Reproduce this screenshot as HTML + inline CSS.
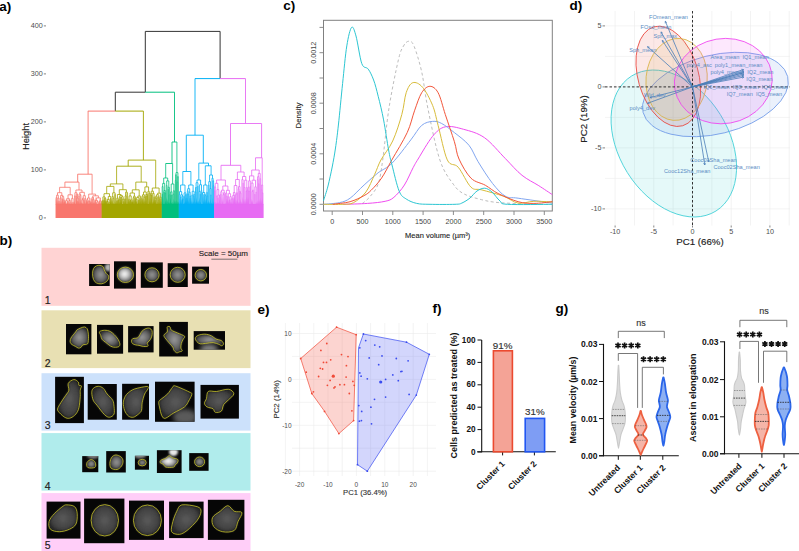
<!DOCTYPE html>
<html><head><meta charset="utf-8"><style>
html,body{margin:0;padding:0;background:#fff;}
svg{display:block;}
text{font-family:"Liberation Sans",sans-serif;}
</style></head><body>
<svg width="799" height="551" viewBox="0 0 799 551">
<rect width="799" height="551" fill="#fff"/>
<text x="-0.8" y="10.7" font-size="13.5" fill="#000" text-anchor="start" font-weight="bold" >a)</text>
<text x="-0.5" y="244.9" font-size="13.5" fill="#000" text-anchor="start" font-weight="bold" >b)</text>
<text x="283.3" y="10.0" font-size="13.5" fill="#000" text-anchor="start" font-weight="bold" >c)</text>
<text x="569.6" y="9.6" font-size="13.5" fill="#000" text-anchor="start" font-weight="bold" >d)</text>
<text x="257.6" y="313.6" font-size="13.5" fill="#000" text-anchor="start" font-weight="bold" >e)</text>
<text x="432.5" y="313.1" font-size="13.5" fill="#000" text-anchor="start" font-weight="bold" >f)</text>
<text x="555.5" y="313.2" font-size="13.5" fill="#000" text-anchor="start" font-weight="bold" >g)</text>
<text x="42.8" y="25.9" font-size="7.2" fill="#4D4D4D" text-anchor="end" font-weight="normal" dominant-baseline="central" >400</text>
<line x1="43.8" y1="25.9" x2="46.0" y2="25.9" stroke="#333" stroke-width="0.6"/>
<text x="42.8" y="73.9" font-size="7.2" fill="#4D4D4D" text-anchor="end" font-weight="normal" dominant-baseline="central" >300</text>
<line x1="43.8" y1="73.9" x2="46.0" y2="73.9" stroke="#333" stroke-width="0.6"/>
<text x="42.8" y="121.9" font-size="7.2" fill="#4D4D4D" text-anchor="end" font-weight="normal" dominant-baseline="central" >200</text>
<line x1="43.8" y1="121.9" x2="46.0" y2="121.9" stroke="#333" stroke-width="0.6"/>
<text x="42.8" y="169.9" font-size="7.2" fill="#4D4D4D" text-anchor="end" font-weight="normal" dominant-baseline="central" >100</text>
<line x1="43.8" y1="169.9" x2="46.0" y2="169.9" stroke="#333" stroke-width="0.6"/>
<text x="42.8" y="217.9" font-size="7.2" fill="#4D4D4D" text-anchor="end" font-weight="normal" dominant-baseline="central" >0</text>
<line x1="43.8" y1="217.9" x2="46.0" y2="217.9" stroke="#333" stroke-width="0.6"/>
<text x="25.9" y="136.5" font-size="9.4" fill="#222" text-anchor="middle" font-weight="normal" dominant-baseline="central" transform="rotate(-90 25.9 136.5)" stroke="#222" stroke-width="0.14" >Height</text>
<line x1="145.3" y1="31.4" x2="220.1" y2="31.4" stroke="#333333" stroke-width="1"/>
<line x1="145.3" y1="31.4" x2="145.3" y2="92.2" stroke="#333333" stroke-width="1"/>
<line x1="220.1" y1="31.4" x2="220.1" y2="78.6" stroke="#333333" stroke-width="1"/>
<line x1="115.3" y1="92.2" x2="145.3" y2="92.2" stroke="#333333" stroke-width="1"/>
<line x1="145.3" y1="92.2" x2="174.5" y2="92.2" stroke="#00BF7D" stroke-width="1"/>
<line x1="115.3" y1="92.2" x2="115.3" y2="111.1" stroke="#333333" stroke-width="1"/>
<line x1="87.9" y1="111.1" x2="115.3" y2="111.1" stroke="#F8766D" stroke-width="1"/>
<line x1="115.3" y1="111.1" x2="143.4" y2="111.1" stroke="#A3A500" stroke-width="1"/>
<line x1="195.0" y1="78.6" x2="220.1" y2="78.6" stroke="#00B0F6" stroke-width="1"/>
<line x1="220.1" y1="78.6" x2="245.5" y2="78.6" stroke="#E76BF3" stroke-width="1"/>
<line x1="88.1" y1="111.1" x2="88.1" y2="174.2" stroke="#F8766D" stroke-width="0.9"/>
<line x1="77.7" y1="174.2" x2="77.7" y2="182.1" stroke="#F8766D" stroke-width="0.9"/>
<line x1="56.2" y1="197.7" x2="56.2" y2="218.0" stroke="#F8766D" stroke-width="0.7"/>
<line x1="57.0" y1="197.7" x2="57.0" y2="218.0" stroke="#F8766D" stroke-width="0.7"/>
<line x1="56.2" y1="197.7" x2="57.0" y2="197.7" stroke="#F8766D" stroke-width="0.8"/>
<line x1="56.6" y1="195.2" x2="56.6" y2="197.7" stroke="#F8766D" stroke-width="0.8"/>
<line x1="57.8" y1="198.1" x2="57.8" y2="218.0" stroke="#F8766D" stroke-width="0.7"/>
<line x1="58.5" y1="201.2" x2="58.5" y2="218.0" stroke="#F8766D" stroke-width="0.7"/>
<line x1="59.1" y1="205.0" x2="59.1" y2="218.0" stroke="#F8766D" stroke-width="0.7"/>
<line x1="59.7" y1="205.0" x2="59.7" y2="218.0" stroke="#F8766D" stroke-width="0.7"/>
<line x1="59.1" y1="205.0" x2="59.7" y2="205.0" stroke="#F8766D" stroke-width="0.8"/>
<line x1="59.4" y1="201.2" x2="59.4" y2="205.0" stroke="#F8766D" stroke-width="0.8"/>
<line x1="58.5" y1="201.2" x2="59.4" y2="201.2" stroke="#F8766D" stroke-width="0.8"/>
<line x1="58.9" y1="198.1" x2="58.9" y2="201.2" stroke="#F8766D" stroke-width="0.8"/>
<line x1="57.8" y1="198.1" x2="58.9" y2="198.1" stroke="#F8766D" stroke-width="0.8"/>
<line x1="58.3" y1="195.2" x2="58.3" y2="198.1" stroke="#F8766D" stroke-width="0.8"/>
<line x1="56.6" y1="195.2" x2="58.3" y2="195.2" stroke="#F8766D" stroke-width="0.8"/>
<line x1="57.5" y1="192.7" x2="57.5" y2="195.2" stroke="#F8766D" stroke-width="0.8"/>
<line x1="60.2" y1="198.0" x2="60.2" y2="218.0" stroke="#F8766D" stroke-width="0.7"/>
<line x1="60.9" y1="198.0" x2="60.9" y2="218.0" stroke="#F8766D" stroke-width="0.7"/>
<line x1="60.2" y1="198.0" x2="60.9" y2="198.0" stroke="#F8766D" stroke-width="0.8"/>
<line x1="60.6" y1="195.4" x2="60.6" y2="198.0" stroke="#F8766D" stroke-width="0.8"/>
<line x1="61.8" y1="198.9" x2="61.8" y2="218.0" stroke="#F8766D" stroke-width="0.7"/>
<line x1="62.5" y1="198.9" x2="62.5" y2="218.0" stroke="#F8766D" stroke-width="0.7"/>
<line x1="61.8" y1="198.9" x2="62.5" y2="198.9" stroke="#F8766D" stroke-width="0.8"/>
<line x1="62.1" y1="196.6" x2="62.1" y2="198.9" stroke="#F8766D" stroke-width="0.8"/>
<line x1="63.3" y1="200.1" x2="63.3" y2="218.0" stroke="#F8766D" stroke-width="0.7"/>
<line x1="64.2" y1="200.1" x2="64.2" y2="218.0" stroke="#F8766D" stroke-width="0.7"/>
<line x1="63.3" y1="200.1" x2="64.2" y2="200.1" stroke="#F8766D" stroke-width="0.8"/>
<line x1="63.7" y1="196.6" x2="63.7" y2="200.1" stroke="#F8766D" stroke-width="0.8"/>
<line x1="62.1" y1="196.6" x2="63.7" y2="196.6" stroke="#F8766D" stroke-width="0.8"/>
<line x1="62.9" y1="195.4" x2="62.9" y2="196.6" stroke="#F8766D" stroke-width="0.8"/>
<line x1="60.6" y1="195.4" x2="62.9" y2="195.4" stroke="#F8766D" stroke-width="0.8"/>
<line x1="61.8" y1="192.7" x2="61.8" y2="195.4" stroke="#F8766D" stroke-width="0.8"/>
<line x1="57.5" y1="192.7" x2="61.8" y2="192.7" stroke="#F8766D" stroke-width="0.8"/>
<line x1="59.6" y1="187.3" x2="59.6" y2="192.7" stroke="#F8766D" stroke-width="0.8"/>
<line x1="64.9" y1="202.0" x2="64.9" y2="218.0" stroke="#F8766D" stroke-width="0.7"/>
<line x1="65.7" y1="202.0" x2="65.7" y2="218.0" stroke="#F8766D" stroke-width="0.7"/>
<line x1="64.9" y1="202.0" x2="65.7" y2="202.0" stroke="#F8766D" stroke-width="0.8"/>
<line x1="65.3" y1="200.8" x2="65.3" y2="202.0" stroke="#F8766D" stroke-width="0.8"/>
<line x1="66.9" y1="204.1" x2="66.9" y2="218.0" stroke="#F8766D" stroke-width="0.7"/>
<line x1="68.0" y1="204.1" x2="68.0" y2="218.0" stroke="#F8766D" stroke-width="0.7"/>
<line x1="66.9" y1="204.1" x2="68.0" y2="204.1" stroke="#F8766D" stroke-width="0.8"/>
<line x1="67.4" y1="200.8" x2="67.4" y2="204.1" stroke="#F8766D" stroke-width="0.8"/>
<line x1="65.3" y1="200.8" x2="67.4" y2="200.8" stroke="#F8766D" stroke-width="0.8"/>
<line x1="66.4" y1="198.8" x2="66.4" y2="200.8" stroke="#F8766D" stroke-width="0.8"/>
<line x1="68.7" y1="204.3" x2="68.7" y2="218.0" stroke="#F8766D" stroke-width="0.7"/>
<line x1="69.3" y1="204.3" x2="69.3" y2="218.0" stroke="#F8766D" stroke-width="0.7"/>
<line x1="68.7" y1="204.3" x2="69.3" y2="204.3" stroke="#F8766D" stroke-width="0.8"/>
<line x1="69.0" y1="200.5" x2="69.0" y2="204.3" stroke="#F8766D" stroke-width="0.8"/>
<line x1="69.9" y1="202.9" x2="69.9" y2="218.0" stroke="#F8766D" stroke-width="0.7"/>
<line x1="70.8" y1="202.9" x2="70.8" y2="218.0" stroke="#F8766D" stroke-width="0.7"/>
<line x1="69.9" y1="202.9" x2="70.8" y2="202.9" stroke="#F8766D" stroke-width="0.8"/>
<line x1="70.3" y1="200.5" x2="70.3" y2="202.9" stroke="#F8766D" stroke-width="0.8"/>
<line x1="69.0" y1="200.5" x2="70.3" y2="200.5" stroke="#F8766D" stroke-width="0.8"/>
<line x1="69.7" y1="198.8" x2="69.7" y2="200.5" stroke="#F8766D" stroke-width="0.8"/>
<line x1="66.4" y1="198.8" x2="69.7" y2="198.8" stroke="#F8766D" stroke-width="0.8"/>
<line x1="68.0" y1="194.8" x2="68.0" y2="198.8" stroke="#F8766D" stroke-width="0.8"/>
<line x1="71.6" y1="198.4" x2="71.6" y2="218.0" stroke="#F8766D" stroke-width="0.7"/>
<line x1="72.3" y1="203.6" x2="72.3" y2="218.0" stroke="#F8766D" stroke-width="0.7"/>
<line x1="72.9" y1="203.6" x2="72.9" y2="218.0" stroke="#F8766D" stroke-width="0.7"/>
<line x1="72.3" y1="203.6" x2="72.9" y2="203.6" stroke="#F8766D" stroke-width="0.8"/>
<line x1="72.6" y1="202.3" x2="72.6" y2="203.6" stroke="#F8766D" stroke-width="0.8"/>
<line x1="73.6" y1="202.3" x2="73.6" y2="218.0" stroke="#F8766D" stroke-width="0.7"/>
<line x1="72.6" y1="202.3" x2="73.6" y2="202.3" stroke="#F8766D" stroke-width="0.8"/>
<line x1="73.1" y1="198.4" x2="73.1" y2="202.3" stroke="#F8766D" stroke-width="0.8"/>
<line x1="71.6" y1="198.4" x2="73.1" y2="198.4" stroke="#F8766D" stroke-width="0.8"/>
<line x1="72.4" y1="194.8" x2="72.4" y2="198.4" stroke="#F8766D" stroke-width="0.8"/>
<line x1="68.0" y1="194.8" x2="72.4" y2="194.8" stroke="#F8766D" stroke-width="0.8"/>
<line x1="70.2" y1="187.3" x2="70.2" y2="194.8" stroke="#F8766D" stroke-width="0.8"/>
<line x1="59.6" y1="187.3" x2="70.2" y2="187.3" stroke="#F8766D" stroke-width="0.8"/>
<line x1="64.9" y1="182.1" x2="64.9" y2="187.3" stroke="#F8766D" stroke-width="0.8"/>
<line x1="74.5" y1="195.9" x2="74.5" y2="218.0" stroke="#F8766D" stroke-width="0.7"/>
<line x1="75.3" y1="195.9" x2="75.3" y2="218.0" stroke="#F8766D" stroke-width="0.7"/>
<line x1="74.5" y1="195.9" x2="75.3" y2="195.9" stroke="#F8766D" stroke-width="0.8"/>
<line x1="74.9" y1="192.7" x2="74.9" y2="195.9" stroke="#F8766D" stroke-width="0.8"/>
<line x1="76.0" y1="195.9" x2="76.0" y2="218.0" stroke="#F8766D" stroke-width="0.7"/>
<line x1="76.5" y1="195.9" x2="76.5" y2="218.0" stroke="#F8766D" stroke-width="0.7"/>
<line x1="76.0" y1="195.9" x2="76.5" y2="195.9" stroke="#F8766D" stroke-width="0.8"/>
<line x1="76.3" y1="194.1" x2="76.3" y2="195.9" stroke="#F8766D" stroke-width="0.8"/>
<line x1="77.1" y1="198.0" x2="77.1" y2="218.0" stroke="#F8766D" stroke-width="0.7"/>
<line x1="77.7" y1="201.5" x2="77.7" y2="218.0" stroke="#F8766D" stroke-width="0.7"/>
<line x1="78.2" y1="201.5" x2="78.2" y2="218.0" stroke="#F8766D" stroke-width="0.7"/>
<line x1="77.7" y1="201.5" x2="78.2" y2="201.5" stroke="#F8766D" stroke-width="0.8"/>
<line x1="78.0" y1="198.0" x2="78.0" y2="201.5" stroke="#F8766D" stroke-width="0.8"/>
<line x1="77.1" y1="198.0" x2="78.0" y2="198.0" stroke="#F8766D" stroke-width="0.8"/>
<line x1="77.5" y1="194.1" x2="77.5" y2="198.0" stroke="#F8766D" stroke-width="0.8"/>
<line x1="76.3" y1="194.1" x2="77.5" y2="194.1" stroke="#F8766D" stroke-width="0.8"/>
<line x1="76.9" y1="192.7" x2="76.9" y2="194.1" stroke="#F8766D" stroke-width="0.8"/>
<line x1="74.9" y1="192.7" x2="76.9" y2="192.7" stroke="#F8766D" stroke-width="0.8"/>
<line x1="75.9" y1="190.0" x2="75.9" y2="192.7" stroke="#F8766D" stroke-width="0.8"/>
<line x1="78.7" y1="196.0" x2="78.7" y2="218.0" stroke="#F8766D" stroke-width="0.7"/>
<line x1="79.3" y1="196.0" x2="79.3" y2="218.0" stroke="#F8766D" stroke-width="0.7"/>
<line x1="78.7" y1="196.0" x2="79.3" y2="196.0" stroke="#F8766D" stroke-width="0.8"/>
<line x1="79.0" y1="194.1" x2="79.0" y2="196.0" stroke="#F8766D" stroke-width="0.8"/>
<line x1="80.2" y1="195.3" x2="80.2" y2="218.0" stroke="#F8766D" stroke-width="0.7"/>
<line x1="81.0" y1="195.3" x2="81.0" y2="218.0" stroke="#F8766D" stroke-width="0.7"/>
<line x1="80.2" y1="195.3" x2="81.0" y2="195.3" stroke="#F8766D" stroke-width="0.8"/>
<line x1="80.6" y1="194.1" x2="80.6" y2="195.3" stroke="#F8766D" stroke-width="0.8"/>
<line x1="79.0" y1="194.1" x2="80.6" y2="194.1" stroke="#F8766D" stroke-width="0.8"/>
<line x1="79.8" y1="192.3" x2="79.8" y2="194.1" stroke="#F8766D" stroke-width="0.8"/>
<line x1="81.6" y1="203.1" x2="81.6" y2="218.0" stroke="#F8766D" stroke-width="0.7"/>
<line x1="82.3" y1="203.1" x2="82.3" y2="218.0" stroke="#F8766D" stroke-width="0.7"/>
<line x1="81.6" y1="203.1" x2="82.3" y2="203.1" stroke="#F8766D" stroke-width="0.8"/>
<line x1="82.0" y1="199.7" x2="82.0" y2="203.1" stroke="#F8766D" stroke-width="0.8"/>
<line x1="83.1" y1="199.7" x2="83.1" y2="218.0" stroke="#F8766D" stroke-width="0.7"/>
<line x1="82.0" y1="199.7" x2="83.1" y2="199.7" stroke="#F8766D" stroke-width="0.8"/>
<line x1="82.5" y1="198.1" x2="82.5" y2="199.7" stroke="#F8766D" stroke-width="0.8"/>
<line x1="83.6" y1="199.6" x2="83.6" y2="218.0" stroke="#F8766D" stroke-width="0.7"/>
<line x1="84.2" y1="199.6" x2="84.2" y2="218.0" stroke="#F8766D" stroke-width="0.7"/>
<line x1="83.6" y1="199.6" x2="84.2" y2="199.6" stroke="#F8766D" stroke-width="0.8"/>
<line x1="83.9" y1="198.1" x2="83.9" y2="199.6" stroke="#F8766D" stroke-width="0.8"/>
<line x1="82.5" y1="198.1" x2="83.9" y2="198.1" stroke="#F8766D" stroke-width="0.8"/>
<line x1="83.2" y1="195.7" x2="83.2" y2="198.1" stroke="#F8766D" stroke-width="0.8"/>
<line x1="84.9" y1="198.4" x2="84.9" y2="218.0" stroke="#F8766D" stroke-width="0.7"/>
<line x1="85.7" y1="198.4" x2="85.7" y2="218.0" stroke="#F8766D" stroke-width="0.7"/>
<line x1="84.9" y1="198.4" x2="85.7" y2="198.4" stroke="#F8766D" stroke-width="0.8"/>
<line x1="85.3" y1="195.7" x2="85.3" y2="198.4" stroke="#F8766D" stroke-width="0.8"/>
<line x1="83.2" y1="195.7" x2="85.3" y2="195.7" stroke="#F8766D" stroke-width="0.8"/>
<line x1="84.3" y1="192.3" x2="84.3" y2="195.7" stroke="#F8766D" stroke-width="0.8"/>
<line x1="79.8" y1="192.3" x2="84.3" y2="192.3" stroke="#F8766D" stroke-width="0.8"/>
<line x1="82.0" y1="190.0" x2="82.0" y2="192.3" stroke="#F8766D" stroke-width="0.8"/>
<line x1="75.9" y1="190.0" x2="82.0" y2="190.0" stroke="#F8766D" stroke-width="0.8"/>
<line x1="79.0" y1="182.1" x2="79.0" y2="190.0" stroke="#F8766D" stroke-width="0.8"/>
<line x1="64.9" y1="182.1" x2="79.0" y2="182.1" stroke="#F8766D" stroke-width="0.9"/>
<line x1="86.5" y1="201.6" x2="86.5" y2="218.0" stroke="#F8766D" stroke-width="0.7"/>
<line x1="87.2" y1="201.6" x2="87.2" y2="218.0" stroke="#F8766D" stroke-width="0.7"/>
<line x1="86.5" y1="201.6" x2="87.2" y2="201.6" stroke="#F8766D" stroke-width="0.8"/>
<line x1="86.8" y1="199.8" x2="86.8" y2="201.6" stroke="#F8766D" stroke-width="0.8"/>
<line x1="87.9" y1="201.3" x2="87.9" y2="218.0" stroke="#F8766D" stroke-width="0.7"/>
<line x1="88.6" y1="201.3" x2="88.6" y2="218.0" stroke="#F8766D" stroke-width="0.7"/>
<line x1="87.9" y1="201.3" x2="88.6" y2="201.3" stroke="#F8766D" stroke-width="0.8"/>
<line x1="88.2" y1="199.8" x2="88.2" y2="201.3" stroke="#F8766D" stroke-width="0.8"/>
<line x1="86.8" y1="199.8" x2="88.2" y2="199.8" stroke="#F8766D" stroke-width="0.8"/>
<line x1="87.5" y1="198.0" x2="87.5" y2="199.8" stroke="#F8766D" stroke-width="0.8"/>
<line x1="89.3" y1="201.5" x2="89.3" y2="218.0" stroke="#F8766D" stroke-width="0.7"/>
<line x1="89.9" y1="203.1" x2="89.9" y2="218.0" stroke="#F8766D" stroke-width="0.7"/>
<line x1="90.5" y1="203.1" x2="90.5" y2="218.0" stroke="#F8766D" stroke-width="0.7"/>
<line x1="89.9" y1="203.1" x2="90.5" y2="203.1" stroke="#F8766D" stroke-width="0.8"/>
<line x1="90.2" y1="201.5" x2="90.2" y2="203.1" stroke="#F8766D" stroke-width="0.8"/>
<line x1="89.3" y1="201.5" x2="90.2" y2="201.5" stroke="#F8766D" stroke-width="0.8"/>
<line x1="89.8" y1="198.0" x2="89.8" y2="201.5" stroke="#F8766D" stroke-width="0.8"/>
<line x1="87.5" y1="198.0" x2="89.8" y2="198.0" stroke="#F8766D" stroke-width="0.8"/>
<line x1="88.7" y1="194.1" x2="88.7" y2="198.0" stroke="#F8766D" stroke-width="0.8"/>
<line x1="91.3" y1="202.7" x2="91.3" y2="218.0" stroke="#F8766D" stroke-width="0.7"/>
<line x1="91.9" y1="202.7" x2="91.9" y2="218.0" stroke="#F8766D" stroke-width="0.7"/>
<line x1="91.3" y1="202.7" x2="91.9" y2="202.7" stroke="#F8766D" stroke-width="0.8"/>
<line x1="91.6" y1="198.7" x2="91.6" y2="202.7" stroke="#F8766D" stroke-width="0.8"/>
<line x1="92.5" y1="198.7" x2="92.5" y2="218.0" stroke="#F8766D" stroke-width="0.7"/>
<line x1="91.6" y1="198.7" x2="92.5" y2="198.7" stroke="#F8766D" stroke-width="0.8"/>
<line x1="92.0" y1="197.3" x2="92.0" y2="198.7" stroke="#F8766D" stroke-width="0.8"/>
<line x1="93.1" y1="199.4" x2="93.1" y2="218.0" stroke="#F8766D" stroke-width="0.7"/>
<line x1="93.6" y1="203.2" x2="93.6" y2="218.0" stroke="#F8766D" stroke-width="0.7"/>
<line x1="94.2" y1="203.2" x2="94.2" y2="218.0" stroke="#F8766D" stroke-width="0.7"/>
<line x1="93.6" y1="203.2" x2="94.2" y2="203.2" stroke="#F8766D" stroke-width="0.8"/>
<line x1="93.9" y1="199.4" x2="93.9" y2="203.2" stroke="#F8766D" stroke-width="0.8"/>
<line x1="93.1" y1="199.4" x2="93.9" y2="199.4" stroke="#F8766D" stroke-width="0.8"/>
<line x1="93.5" y1="197.3" x2="93.5" y2="199.4" stroke="#F8766D" stroke-width="0.8"/>
<line x1="92.0" y1="197.3" x2="93.5" y2="197.3" stroke="#F8766D" stroke-width="0.8"/>
<line x1="92.8" y1="195.8" x2="92.8" y2="197.3" stroke="#F8766D" stroke-width="0.8"/>
<line x1="94.9" y1="204.4" x2="94.9" y2="218.0" stroke="#F8766D" stroke-width="0.7"/>
<line x1="95.7" y1="204.4" x2="95.7" y2="218.0" stroke="#F8766D" stroke-width="0.7"/>
<line x1="94.9" y1="204.4" x2="95.7" y2="204.4" stroke="#F8766D" stroke-width="0.8"/>
<line x1="95.3" y1="200.4" x2="95.3" y2="204.4" stroke="#F8766D" stroke-width="0.8"/>
<line x1="96.6" y1="204.7" x2="96.6" y2="218.0" stroke="#F8766D" stroke-width="0.7"/>
<line x1="97.3" y1="204.7" x2="97.3" y2="218.0" stroke="#F8766D" stroke-width="0.7"/>
<line x1="96.6" y1="204.7" x2="97.3" y2="204.7" stroke="#F8766D" stroke-width="0.8"/>
<line x1="97.0" y1="201.6" x2="97.0" y2="204.7" stroke="#F8766D" stroke-width="0.8"/>
<line x1="98.0" y1="201.6" x2="98.0" y2="218.0" stroke="#F8766D" stroke-width="0.7"/>
<line x1="97.0" y1="201.6" x2="98.0" y2="201.6" stroke="#F8766D" stroke-width="0.8"/>
<line x1="97.5" y1="200.4" x2="97.5" y2="201.6" stroke="#F8766D" stroke-width="0.8"/>
<line x1="95.3" y1="200.4" x2="97.5" y2="200.4" stroke="#F8766D" stroke-width="0.8"/>
<line x1="96.4" y1="197.9" x2="96.4" y2="200.4" stroke="#F8766D" stroke-width="0.8"/>
<line x1="99.1" y1="204.7" x2="99.1" y2="218.0" stroke="#F8766D" stroke-width="0.7"/>
<line x1="100.2" y1="204.7" x2="100.2" y2="218.0" stroke="#F8766D" stroke-width="0.7"/>
<line x1="99.1" y1="204.7" x2="100.2" y2="204.7" stroke="#F8766D" stroke-width="0.8"/>
<line x1="99.7" y1="201.1" x2="99.7" y2="204.7" stroke="#F8766D" stroke-width="0.8"/>
<line x1="100.9" y1="203.4" x2="100.9" y2="218.0" stroke="#F8766D" stroke-width="0.7"/>
<line x1="101.5" y1="203.4" x2="101.5" y2="218.0" stroke="#F8766D" stroke-width="0.7"/>
<line x1="100.9" y1="203.4" x2="101.5" y2="203.4" stroke="#F8766D" stroke-width="0.8"/>
<line x1="101.2" y1="201.1" x2="101.2" y2="203.4" stroke="#F8766D" stroke-width="0.8"/>
<line x1="99.7" y1="201.1" x2="101.2" y2="201.1" stroke="#F8766D" stroke-width="0.8"/>
<line x1="100.4" y1="197.9" x2="100.4" y2="201.1" stroke="#F8766D" stroke-width="0.8"/>
<line x1="96.4" y1="197.9" x2="100.4" y2="197.9" stroke="#F8766D" stroke-width="0.8"/>
<line x1="98.4" y1="195.8" x2="98.4" y2="197.9" stroke="#F8766D" stroke-width="0.8"/>
<line x1="92.8" y1="195.8" x2="98.4" y2="195.8" stroke="#F8766D" stroke-width="0.8"/>
<line x1="95.6" y1="194.1" x2="95.6" y2="195.8" stroke="#F8766D" stroke-width="0.8"/>
<line x1="88.7" y1="194.1" x2="95.6" y2="194.1" stroke="#F8766D" stroke-width="0.8"/>
<line x1="92.1" y1="174.2" x2="92.1" y2="194.1" stroke="#F8766D" stroke-width="0.8"/>
<line x1="77.7" y1="174.2" x2="92.1" y2="174.2" stroke="#F8766D" stroke-width="0.9"/>
<line x1="143.4" y1="111.1" x2="143.4" y2="160.1" stroke="#A3A500" stroke-width="0.9"/>
<line x1="128.2" y1="160.1" x2="128.2" y2="166.2" stroke="#A3A500" stroke-width="0.9"/>
<line x1="102.0" y1="201.5" x2="102.0" y2="218.0" stroke="#A3A500" stroke-width="0.7"/>
<line x1="102.7" y1="201.5" x2="102.7" y2="218.0" stroke="#A3A500" stroke-width="0.7"/>
<line x1="102.0" y1="201.5" x2="102.7" y2="201.5" stroke="#A3A500" stroke-width="0.8"/>
<line x1="102.3" y1="200.4" x2="102.3" y2="201.5" stroke="#A3A500" stroke-width="0.8"/>
<line x1="103.4" y1="200.4" x2="103.4" y2="218.0" stroke="#A3A500" stroke-width="0.7"/>
<line x1="102.3" y1="200.4" x2="103.4" y2="200.4" stroke="#A3A500" stroke-width="0.8"/>
<line x1="102.9" y1="196.9" x2="102.9" y2="200.4" stroke="#A3A500" stroke-width="0.8"/>
<line x1="104.1" y1="201.0" x2="104.1" y2="218.0" stroke="#A3A500" stroke-width="0.7"/>
<line x1="104.7" y1="201.0" x2="104.7" y2="218.0" stroke="#A3A500" stroke-width="0.7"/>
<line x1="104.1" y1="201.0" x2="104.7" y2="201.0" stroke="#A3A500" stroke-width="0.8"/>
<line x1="104.4" y1="198.1" x2="104.4" y2="201.0" stroke="#A3A500" stroke-width="0.8"/>
<line x1="105.4" y1="201.9" x2="105.4" y2="218.0" stroke="#A3A500" stroke-width="0.7"/>
<line x1="106.0" y1="201.9" x2="106.0" y2="218.0" stroke="#A3A500" stroke-width="0.7"/>
<line x1="105.4" y1="201.9" x2="106.0" y2="201.9" stroke="#A3A500" stroke-width="0.8"/>
<line x1="105.7" y1="198.1" x2="105.7" y2="201.9" stroke="#A3A500" stroke-width="0.8"/>
<line x1="104.4" y1="198.1" x2="105.7" y2="198.1" stroke="#A3A500" stroke-width="0.8"/>
<line x1="105.0" y1="196.9" x2="105.0" y2="198.1" stroke="#A3A500" stroke-width="0.8"/>
<line x1="102.9" y1="196.9" x2="105.0" y2="196.9" stroke="#A3A500" stroke-width="0.8"/>
<line x1="104.0" y1="193.7" x2="104.0" y2="196.9" stroke="#A3A500" stroke-width="0.8"/>
<line x1="106.7" y1="201.4" x2="106.7" y2="218.0" stroke="#A3A500" stroke-width="0.7"/>
<line x1="107.6" y1="204.8" x2="107.6" y2="218.0" stroke="#A3A500" stroke-width="0.7"/>
<line x1="108.4" y1="204.8" x2="108.4" y2="218.0" stroke="#A3A500" stroke-width="0.7"/>
<line x1="107.6" y1="204.8" x2="108.4" y2="204.8" stroke="#A3A500" stroke-width="0.8"/>
<line x1="108.0" y1="201.4" x2="108.0" y2="204.8" stroke="#A3A500" stroke-width="0.8"/>
<line x1="106.7" y1="201.4" x2="108.0" y2="201.4" stroke="#A3A500" stroke-width="0.8"/>
<line x1="107.3" y1="199.4" x2="107.3" y2="201.4" stroke="#A3A500" stroke-width="0.8"/>
<line x1="108.9" y1="202.4" x2="108.9" y2="218.0" stroke="#A3A500" stroke-width="0.7"/>
<line x1="109.5" y1="202.4" x2="109.5" y2="218.0" stroke="#A3A500" stroke-width="0.7"/>
<line x1="108.9" y1="202.4" x2="109.5" y2="202.4" stroke="#A3A500" stroke-width="0.8"/>
<line x1="109.2" y1="199.4" x2="109.2" y2="202.4" stroke="#A3A500" stroke-width="0.8"/>
<line x1="107.3" y1="199.4" x2="109.2" y2="199.4" stroke="#A3A500" stroke-width="0.8"/>
<line x1="108.3" y1="196.4" x2="108.3" y2="199.4" stroke="#A3A500" stroke-width="0.8"/>
<line x1="110.3" y1="198.7" x2="110.3" y2="218.0" stroke="#A3A500" stroke-width="0.7"/>
<line x1="111.2" y1="198.7" x2="111.2" y2="218.0" stroke="#A3A500" stroke-width="0.7"/>
<line x1="110.3" y1="198.7" x2="111.2" y2="198.7" stroke="#A3A500" stroke-width="0.8"/>
<line x1="110.8" y1="196.4" x2="110.8" y2="198.7" stroke="#A3A500" stroke-width="0.8"/>
<line x1="108.3" y1="196.4" x2="110.8" y2="196.4" stroke="#A3A500" stroke-width="0.8"/>
<line x1="109.5" y1="193.7" x2="109.5" y2="196.4" stroke="#A3A500" stroke-width="0.8"/>
<line x1="104.0" y1="193.7" x2="109.5" y2="193.7" stroke="#A3A500" stroke-width="0.8"/>
<line x1="106.7" y1="186.4" x2="106.7" y2="193.7" stroke="#A3A500" stroke-width="0.8"/>
<line x1="112.1" y1="196.6" x2="112.1" y2="218.0" stroke="#A3A500" stroke-width="0.7"/>
<line x1="112.9" y1="198.4" x2="112.9" y2="218.0" stroke="#A3A500" stroke-width="0.7"/>
<line x1="113.7" y1="198.4" x2="113.7" y2="218.0" stroke="#A3A500" stroke-width="0.7"/>
<line x1="112.9" y1="198.4" x2="113.7" y2="198.4" stroke="#A3A500" stroke-width="0.8"/>
<line x1="113.3" y1="196.6" x2="113.3" y2="198.4" stroke="#A3A500" stroke-width="0.8"/>
<line x1="112.1" y1="196.6" x2="113.3" y2="196.6" stroke="#A3A500" stroke-width="0.8"/>
<line x1="112.7" y1="192.8" x2="112.7" y2="196.6" stroke="#A3A500" stroke-width="0.8"/>
<line x1="114.6" y1="194.6" x2="114.6" y2="218.0" stroke="#A3A500" stroke-width="0.7"/>
<line x1="115.5" y1="194.6" x2="115.5" y2="218.0" stroke="#A3A500" stroke-width="0.7"/>
<line x1="114.6" y1="194.6" x2="115.5" y2="194.6" stroke="#A3A500" stroke-width="0.8"/>
<line x1="115.1" y1="192.8" x2="115.1" y2="194.6" stroke="#A3A500" stroke-width="0.8"/>
<line x1="112.7" y1="192.8" x2="115.1" y2="192.8" stroke="#A3A500" stroke-width="0.8"/>
<line x1="113.9" y1="186.4" x2="113.9" y2="192.8" stroke="#A3A500" stroke-width="0.8"/>
<line x1="106.7" y1="186.4" x2="113.9" y2="186.4" stroke="#A3A500" stroke-width="0.8"/>
<line x1="110.3" y1="183.9" x2="110.3" y2="186.4" stroke="#A3A500" stroke-width="0.8"/>
<line x1="116.5" y1="200.8" x2="116.5" y2="218.0" stroke="#A3A500" stroke-width="0.7"/>
<line x1="117.2" y1="200.8" x2="117.2" y2="218.0" stroke="#A3A500" stroke-width="0.7"/>
<line x1="116.5" y1="200.8" x2="117.2" y2="200.8" stroke="#A3A500" stroke-width="0.8"/>
<line x1="116.8" y1="198.1" x2="116.8" y2="200.8" stroke="#A3A500" stroke-width="0.8"/>
<line x1="117.8" y1="200.0" x2="117.8" y2="218.0" stroke="#A3A500" stroke-width="0.7"/>
<line x1="118.3" y1="200.0" x2="118.3" y2="218.0" stroke="#A3A500" stroke-width="0.7"/>
<line x1="117.8" y1="200.0" x2="118.3" y2="200.0" stroke="#A3A500" stroke-width="0.8"/>
<line x1="118.0" y1="198.1" x2="118.0" y2="200.0" stroke="#A3A500" stroke-width="0.8"/>
<line x1="116.8" y1="198.1" x2="118.0" y2="198.1" stroke="#A3A500" stroke-width="0.8"/>
<line x1="117.4" y1="194.5" x2="117.4" y2="198.1" stroke="#A3A500" stroke-width="0.8"/>
<line x1="118.9" y1="199.3" x2="118.9" y2="218.0" stroke="#A3A500" stroke-width="0.7"/>
<line x1="119.6" y1="199.3" x2="119.6" y2="218.0" stroke="#A3A500" stroke-width="0.7"/>
<line x1="118.9" y1="199.3" x2="119.6" y2="199.3" stroke="#A3A500" stroke-width="0.8"/>
<line x1="119.3" y1="197.0" x2="119.3" y2="199.3" stroke="#A3A500" stroke-width="0.8"/>
<line x1="120.1" y1="199.9" x2="120.1" y2="218.0" stroke="#A3A500" stroke-width="0.7"/>
<line x1="120.6" y1="199.9" x2="120.6" y2="218.0" stroke="#A3A500" stroke-width="0.7"/>
<line x1="120.1" y1="199.9" x2="120.6" y2="199.9" stroke="#A3A500" stroke-width="0.8"/>
<line x1="120.4" y1="197.0" x2="120.4" y2="199.9" stroke="#A3A500" stroke-width="0.8"/>
<line x1="119.3" y1="197.0" x2="120.4" y2="197.0" stroke="#A3A500" stroke-width="0.8"/>
<line x1="119.8" y1="195.6" x2="119.8" y2="197.0" stroke="#A3A500" stroke-width="0.8"/>
<line x1="121.2" y1="197.7" x2="121.2" y2="218.0" stroke="#A3A500" stroke-width="0.7"/>
<line x1="121.9" y1="197.7" x2="121.9" y2="218.0" stroke="#A3A500" stroke-width="0.7"/>
<line x1="121.2" y1="197.7" x2="121.9" y2="197.7" stroke="#A3A500" stroke-width="0.8"/>
<line x1="121.6" y1="196.7" x2="121.6" y2="197.7" stroke="#A3A500" stroke-width="0.8"/>
<line x1="122.6" y1="199.1" x2="122.6" y2="218.0" stroke="#A3A500" stroke-width="0.7"/>
<line x1="123.4" y1="201.7" x2="123.4" y2="218.0" stroke="#A3A500" stroke-width="0.7"/>
<line x1="124.0" y1="201.7" x2="124.0" y2="218.0" stroke="#A3A500" stroke-width="0.7"/>
<line x1="123.4" y1="201.7" x2="124.0" y2="201.7" stroke="#A3A500" stroke-width="0.8"/>
<line x1="123.7" y1="199.1" x2="123.7" y2="201.7" stroke="#A3A500" stroke-width="0.8"/>
<line x1="122.6" y1="199.1" x2="123.7" y2="199.1" stroke="#A3A500" stroke-width="0.8"/>
<line x1="123.2" y1="196.7" x2="123.2" y2="199.1" stroke="#A3A500" stroke-width="0.8"/>
<line x1="121.6" y1="196.7" x2="123.2" y2="196.7" stroke="#A3A500" stroke-width="0.8"/>
<line x1="122.4" y1="195.6" x2="122.4" y2="196.7" stroke="#A3A500" stroke-width="0.8"/>
<line x1="119.8" y1="195.6" x2="122.4" y2="195.6" stroke="#A3A500" stroke-width="0.8"/>
<line x1="121.1" y1="194.5" x2="121.1" y2="195.6" stroke="#A3A500" stroke-width="0.8"/>
<line x1="117.4" y1="194.5" x2="121.1" y2="194.5" stroke="#A3A500" stroke-width="0.8"/>
<line x1="119.3" y1="189.7" x2="119.3" y2="194.5" stroke="#A3A500" stroke-width="0.8"/>
<line x1="124.7" y1="199.1" x2="124.7" y2="218.0" stroke="#A3A500" stroke-width="0.7"/>
<line x1="125.4" y1="199.1" x2="125.4" y2="218.0" stroke="#A3A500" stroke-width="0.7"/>
<line x1="124.7" y1="199.1" x2="125.4" y2="199.1" stroke="#A3A500" stroke-width="0.8"/>
<line x1="125.1" y1="195.9" x2="125.1" y2="199.1" stroke="#A3A500" stroke-width="0.8"/>
<line x1="126.2" y1="195.9" x2="126.2" y2="218.0" stroke="#A3A500" stroke-width="0.7"/>
<line x1="125.1" y1="195.9" x2="126.2" y2="195.9" stroke="#A3A500" stroke-width="0.8"/>
<line x1="125.6" y1="192.2" x2="125.6" y2="195.9" stroke="#A3A500" stroke-width="0.8"/>
<line x1="126.9" y1="193.4" x2="126.9" y2="218.0" stroke="#A3A500" stroke-width="0.7"/>
<line x1="127.6" y1="193.4" x2="127.6" y2="218.0" stroke="#A3A500" stroke-width="0.7"/>
<line x1="126.9" y1="193.4" x2="127.6" y2="193.4" stroke="#A3A500" stroke-width="0.8"/>
<line x1="127.3" y1="192.2" x2="127.3" y2="193.4" stroke="#A3A500" stroke-width="0.8"/>
<line x1="125.6" y1="192.2" x2="127.3" y2="192.2" stroke="#A3A500" stroke-width="0.8"/>
<line x1="126.4" y1="189.7" x2="126.4" y2="192.2" stroke="#A3A500" stroke-width="0.8"/>
<line x1="119.3" y1="189.7" x2="126.4" y2="189.7" stroke="#A3A500" stroke-width="0.8"/>
<line x1="122.9" y1="183.9" x2="122.9" y2="189.7" stroke="#A3A500" stroke-width="0.8"/>
<line x1="110.3" y1="183.9" x2="122.9" y2="183.9" stroke="#A3A500" stroke-width="0.8"/>
<line x1="116.6" y1="166.2" x2="116.6" y2="183.9" stroke="#A3A500" stroke-width="0.8"/>
<line x1="128.3" y1="202.2" x2="128.3" y2="218.0" stroke="#A3A500" stroke-width="0.7"/>
<line x1="128.9" y1="202.2" x2="128.9" y2="218.0" stroke="#A3A500" stroke-width="0.7"/>
<line x1="128.3" y1="202.2" x2="128.9" y2="202.2" stroke="#A3A500" stroke-width="0.8"/>
<line x1="128.6" y1="199.6" x2="128.6" y2="202.2" stroke="#A3A500" stroke-width="0.8"/>
<line x1="129.6" y1="199.6" x2="129.6" y2="218.0" stroke="#A3A500" stroke-width="0.7"/>
<line x1="128.6" y1="199.6" x2="129.6" y2="199.6" stroke="#A3A500" stroke-width="0.8"/>
<line x1="129.1" y1="195.9" x2="129.1" y2="199.6" stroke="#A3A500" stroke-width="0.8"/>
<line x1="130.2" y1="201.1" x2="130.2" y2="218.0" stroke="#A3A500" stroke-width="0.7"/>
<line x1="130.8" y1="201.1" x2="130.8" y2="218.0" stroke="#A3A500" stroke-width="0.7"/>
<line x1="130.2" y1="201.1" x2="130.8" y2="201.1" stroke="#A3A500" stroke-width="0.8"/>
<line x1="130.5" y1="199.9" x2="130.5" y2="201.1" stroke="#A3A500" stroke-width="0.8"/>
<line x1="131.4" y1="202.2" x2="131.4" y2="218.0" stroke="#A3A500" stroke-width="0.7"/>
<line x1="132.0" y1="203.4" x2="132.0" y2="218.0" stroke="#A3A500" stroke-width="0.7"/>
<line x1="132.6" y1="203.4" x2="132.6" y2="218.0" stroke="#A3A500" stroke-width="0.7"/>
<line x1="132.0" y1="203.4" x2="132.6" y2="203.4" stroke="#A3A500" stroke-width="0.8"/>
<line x1="132.3" y1="202.2" x2="132.3" y2="203.4" stroke="#A3A500" stroke-width="0.8"/>
<line x1="131.4" y1="202.2" x2="132.3" y2="202.2" stroke="#A3A500" stroke-width="0.8"/>
<line x1="131.8" y1="199.9" x2="131.8" y2="202.2" stroke="#A3A500" stroke-width="0.8"/>
<line x1="130.5" y1="199.9" x2="131.8" y2="199.9" stroke="#A3A500" stroke-width="0.8"/>
<line x1="131.2" y1="195.9" x2="131.2" y2="199.9" stroke="#A3A500" stroke-width="0.8"/>
<line x1="129.1" y1="195.9" x2="131.2" y2="195.9" stroke="#A3A500" stroke-width="0.8"/>
<line x1="130.1" y1="193.0" x2="130.1" y2="195.9" stroke="#A3A500" stroke-width="0.8"/>
<line x1="133.2" y1="197.6" x2="133.2" y2="218.0" stroke="#A3A500" stroke-width="0.7"/>
<line x1="134.1" y1="197.6" x2="134.1" y2="218.0" stroke="#A3A500" stroke-width="0.7"/>
<line x1="133.2" y1="197.6" x2="134.1" y2="197.6" stroke="#A3A500" stroke-width="0.8"/>
<line x1="133.7" y1="196.1" x2="133.7" y2="197.6" stroke="#A3A500" stroke-width="0.8"/>
<line x1="134.9" y1="197.6" x2="134.9" y2="218.0" stroke="#A3A500" stroke-width="0.7"/>
<line x1="135.4" y1="197.6" x2="135.4" y2="218.0" stroke="#A3A500" stroke-width="0.7"/>
<line x1="134.9" y1="197.6" x2="135.4" y2="197.6" stroke="#A3A500" stroke-width="0.8"/>
<line x1="135.1" y1="196.1" x2="135.1" y2="197.6" stroke="#A3A500" stroke-width="0.8"/>
<line x1="133.7" y1="196.1" x2="135.1" y2="196.1" stroke="#A3A500" stroke-width="0.8"/>
<line x1="134.4" y1="193.0" x2="134.4" y2="196.1" stroke="#A3A500" stroke-width="0.8"/>
<line x1="130.1" y1="193.0" x2="134.4" y2="193.0" stroke="#A3A500" stroke-width="0.8"/>
<line x1="132.3" y1="189.8" x2="132.3" y2="193.0" stroke="#A3A500" stroke-width="0.8"/>
<line x1="135.9" y1="201.8" x2="135.9" y2="218.0" stroke="#A3A500" stroke-width="0.7"/>
<line x1="136.5" y1="201.8" x2="136.5" y2="218.0" stroke="#A3A500" stroke-width="0.7"/>
<line x1="135.9" y1="201.8" x2="136.5" y2="201.8" stroke="#A3A500" stroke-width="0.8"/>
<line x1="136.2" y1="199.2" x2="136.2" y2="201.8" stroke="#A3A500" stroke-width="0.8"/>
<line x1="137.2" y1="199.2" x2="137.2" y2="218.0" stroke="#A3A500" stroke-width="0.7"/>
<line x1="136.2" y1="199.2" x2="137.2" y2="199.2" stroke="#A3A500" stroke-width="0.8"/>
<line x1="136.7" y1="197.4" x2="136.7" y2="199.2" stroke="#A3A500" stroke-width="0.8"/>
<line x1="138.1" y1="204.2" x2="138.1" y2="218.0" stroke="#A3A500" stroke-width="0.7"/>
<line x1="138.7" y1="204.2" x2="138.7" y2="218.0" stroke="#A3A500" stroke-width="0.7"/>
<line x1="138.1" y1="204.2" x2="138.7" y2="204.2" stroke="#A3A500" stroke-width="0.8"/>
<line x1="138.4" y1="200.5" x2="138.4" y2="204.2" stroke="#A3A500" stroke-width="0.8"/>
<line x1="139.3" y1="200.5" x2="139.3" y2="218.0" stroke="#A3A500" stroke-width="0.7"/>
<line x1="138.4" y1="200.5" x2="139.3" y2="200.5" stroke="#A3A500" stroke-width="0.8"/>
<line x1="138.9" y1="197.4" x2="138.9" y2="200.5" stroke="#A3A500" stroke-width="0.8"/>
<line x1="136.7" y1="197.4" x2="138.9" y2="197.4" stroke="#A3A500" stroke-width="0.8"/>
<line x1="137.8" y1="196.1" x2="137.8" y2="197.4" stroke="#A3A500" stroke-width="0.8"/>
<line x1="139.9" y1="199.4" x2="139.9" y2="218.0" stroke="#A3A500" stroke-width="0.7"/>
<line x1="140.5" y1="199.4" x2="140.5" y2="218.0" stroke="#A3A500" stroke-width="0.7"/>
<line x1="139.9" y1="199.4" x2="140.5" y2="199.4" stroke="#A3A500" stroke-width="0.8"/>
<line x1="140.2" y1="197.8" x2="140.2" y2="199.4" stroke="#A3A500" stroke-width="0.8"/>
<line x1="141.2" y1="197.8" x2="141.2" y2="218.0" stroke="#A3A500" stroke-width="0.7"/>
<line x1="140.2" y1="197.8" x2="141.2" y2="197.8" stroke="#A3A500" stroke-width="0.8"/>
<line x1="140.7" y1="196.1" x2="140.7" y2="197.8" stroke="#A3A500" stroke-width="0.8"/>
<line x1="137.8" y1="196.1" x2="140.7" y2="196.1" stroke="#A3A500" stroke-width="0.8"/>
<line x1="139.2" y1="189.8" x2="139.2" y2="196.1" stroke="#A3A500" stroke-width="0.8"/>
<line x1="132.3" y1="189.8" x2="139.2" y2="189.8" stroke="#A3A500" stroke-width="0.8"/>
<line x1="135.8" y1="182.1" x2="135.8" y2="189.8" stroke="#A3A500" stroke-width="0.8"/>
<line x1="142.1" y1="195.9" x2="142.1" y2="218.0" stroke="#A3A500" stroke-width="0.7"/>
<line x1="142.8" y1="199.6" x2="142.8" y2="218.0" stroke="#A3A500" stroke-width="0.7"/>
<line x1="143.3" y1="199.6" x2="143.3" y2="218.0" stroke="#A3A500" stroke-width="0.7"/>
<line x1="142.8" y1="199.6" x2="143.3" y2="199.6" stroke="#A3A500" stroke-width="0.8"/>
<line x1="143.1" y1="195.9" x2="143.1" y2="199.6" stroke="#A3A500" stroke-width="0.8"/>
<line x1="142.1" y1="195.9" x2="143.1" y2="195.9" stroke="#A3A500" stroke-width="0.8"/>
<line x1="142.6" y1="194.7" x2="142.6" y2="195.9" stroke="#A3A500" stroke-width="0.8"/>
<line x1="144.0" y1="197.3" x2="144.0" y2="218.0" stroke="#A3A500" stroke-width="0.7"/>
<line x1="144.8" y1="197.3" x2="144.8" y2="218.0" stroke="#A3A500" stroke-width="0.7"/>
<line x1="144.0" y1="197.3" x2="144.8" y2="197.3" stroke="#A3A500" stroke-width="0.8"/>
<line x1="144.4" y1="194.7" x2="144.4" y2="197.3" stroke="#A3A500" stroke-width="0.8"/>
<line x1="142.6" y1="194.7" x2="144.4" y2="194.7" stroke="#A3A500" stroke-width="0.8"/>
<line x1="143.5" y1="192.0" x2="143.5" y2="194.7" stroke="#A3A500" stroke-width="0.8"/>
<line x1="145.5" y1="196.4" x2="145.5" y2="218.0" stroke="#A3A500" stroke-width="0.7"/>
<line x1="146.0" y1="196.4" x2="146.0" y2="218.0" stroke="#A3A500" stroke-width="0.7"/>
<line x1="145.5" y1="196.4" x2="146.0" y2="196.4" stroke="#A3A500" stroke-width="0.8"/>
<line x1="145.8" y1="194.5" x2="145.8" y2="196.4" stroke="#A3A500" stroke-width="0.8"/>
<line x1="146.6" y1="196.0" x2="146.6" y2="218.0" stroke="#A3A500" stroke-width="0.7"/>
<line x1="147.2" y1="196.0" x2="147.2" y2="218.0" stroke="#A3A500" stroke-width="0.7"/>
<line x1="146.6" y1="196.0" x2="147.2" y2="196.0" stroke="#A3A500" stroke-width="0.8"/>
<line x1="146.9" y1="194.5" x2="146.9" y2="196.0" stroke="#A3A500" stroke-width="0.8"/>
<line x1="145.8" y1="194.5" x2="146.9" y2="194.5" stroke="#A3A500" stroke-width="0.8"/>
<line x1="146.3" y1="192.0" x2="146.3" y2="194.5" stroke="#A3A500" stroke-width="0.8"/>
<line x1="143.5" y1="192.0" x2="146.3" y2="192.0" stroke="#A3A500" stroke-width="0.8"/>
<line x1="144.9" y1="186.9" x2="144.9" y2="192.0" stroke="#A3A500" stroke-width="0.8"/>
<line x1="147.6" y1="194.3" x2="147.6" y2="218.0" stroke="#A3A500" stroke-width="0.7"/>
<line x1="148.1" y1="194.3" x2="148.1" y2="218.0" stroke="#A3A500" stroke-width="0.7"/>
<line x1="147.6" y1="194.3" x2="148.1" y2="194.3" stroke="#A3A500" stroke-width="0.8"/>
<line x1="147.9" y1="191.3" x2="147.9" y2="194.3" stroke="#A3A500" stroke-width="0.8"/>
<line x1="148.9" y1="193.3" x2="148.9" y2="218.0" stroke="#A3A500" stroke-width="0.7"/>
<line x1="149.7" y1="193.3" x2="149.7" y2="218.0" stroke="#A3A500" stroke-width="0.7"/>
<line x1="148.9" y1="193.3" x2="149.7" y2="193.3" stroke="#A3A500" stroke-width="0.8"/>
<line x1="149.3" y1="191.3" x2="149.3" y2="193.3" stroke="#A3A500" stroke-width="0.8"/>
<line x1="147.9" y1="191.3" x2="149.3" y2="191.3" stroke="#A3A500" stroke-width="0.8"/>
<line x1="148.6" y1="186.9" x2="148.6" y2="191.3" stroke="#A3A500" stroke-width="0.8"/>
<line x1="144.9" y1="186.9" x2="148.6" y2="186.9" stroke="#A3A500" stroke-width="0.8"/>
<line x1="146.7" y1="182.1" x2="146.7" y2="186.9" stroke="#A3A500" stroke-width="0.8"/>
<line x1="135.8" y1="182.1" x2="146.7" y2="182.1" stroke="#A3A500" stroke-width="0.8"/>
<line x1="141.2" y1="166.2" x2="141.2" y2="182.1" stroke="#A3A500" stroke-width="0.8"/>
<line x1="116.6" y1="166.2" x2="141.2" y2="166.2" stroke="#A3A500" stroke-width="0.9"/>
<line x1="150.3" y1="194.8" x2="150.3" y2="218.0" stroke="#A3A500" stroke-width="0.7"/>
<line x1="150.9" y1="194.8" x2="150.9" y2="218.0" stroke="#A3A500" stroke-width="0.7"/>
<line x1="150.3" y1="194.8" x2="150.9" y2="194.8" stroke="#A3A500" stroke-width="0.8"/>
<line x1="150.6" y1="193.3" x2="150.6" y2="194.8" stroke="#A3A500" stroke-width="0.8"/>
<line x1="151.5" y1="194.9" x2="151.5" y2="218.0" stroke="#A3A500" stroke-width="0.7"/>
<line x1="152.0" y1="194.9" x2="152.0" y2="218.0" stroke="#A3A500" stroke-width="0.7"/>
<line x1="151.5" y1="194.9" x2="152.0" y2="194.9" stroke="#A3A500" stroke-width="0.8"/>
<line x1="151.8" y1="193.3" x2="151.8" y2="194.9" stroke="#A3A500" stroke-width="0.8"/>
<line x1="150.6" y1="193.3" x2="151.8" y2="193.3" stroke="#A3A500" stroke-width="0.8"/>
<line x1="151.2" y1="191.2" x2="151.2" y2="193.3" stroke="#A3A500" stroke-width="0.8"/>
<line x1="152.7" y1="193.4" x2="152.7" y2="218.0" stroke="#A3A500" stroke-width="0.7"/>
<line x1="153.7" y1="196.9" x2="153.7" y2="218.0" stroke="#A3A500" stroke-width="0.7"/>
<line x1="154.5" y1="196.9" x2="154.5" y2="218.0" stroke="#A3A500" stroke-width="0.7"/>
<line x1="153.7" y1="196.9" x2="154.5" y2="196.9" stroke="#A3A500" stroke-width="0.8"/>
<line x1="154.1" y1="193.4" x2="154.1" y2="196.9" stroke="#A3A500" stroke-width="0.8"/>
<line x1="152.7" y1="193.4" x2="154.1" y2="193.4" stroke="#A3A500" stroke-width="0.8"/>
<line x1="153.4" y1="191.2" x2="153.4" y2="193.4" stroke="#A3A500" stroke-width="0.8"/>
<line x1="151.2" y1="191.2" x2="153.4" y2="191.2" stroke="#A3A500" stroke-width="0.8"/>
<line x1="152.3" y1="188.0" x2="152.3" y2="191.2" stroke="#A3A500" stroke-width="0.8"/>
<line x1="154.9" y1="200.3" x2="154.9" y2="218.0" stroke="#A3A500" stroke-width="0.7"/>
<line x1="155.5" y1="200.3" x2="155.5" y2="218.0" stroke="#A3A500" stroke-width="0.7"/>
<line x1="154.9" y1="200.3" x2="155.5" y2="200.3" stroke="#A3A500" stroke-width="0.8"/>
<line x1="155.2" y1="198.0" x2="155.2" y2="200.3" stroke="#A3A500" stroke-width="0.8"/>
<line x1="156.2" y1="198.0" x2="156.2" y2="218.0" stroke="#A3A500" stroke-width="0.7"/>
<line x1="155.2" y1="198.0" x2="156.2" y2="198.0" stroke="#A3A500" stroke-width="0.8"/>
<line x1="155.7" y1="196.2" x2="155.7" y2="198.0" stroke="#A3A500" stroke-width="0.8"/>
<line x1="156.7" y1="197.5" x2="156.7" y2="218.0" stroke="#A3A500" stroke-width="0.7"/>
<line x1="157.4" y1="197.5" x2="157.4" y2="218.0" stroke="#A3A500" stroke-width="0.7"/>
<line x1="156.7" y1="197.5" x2="157.4" y2="197.5" stroke="#A3A500" stroke-width="0.8"/>
<line x1="157.1" y1="196.2" x2="157.1" y2="197.5" stroke="#A3A500" stroke-width="0.8"/>
<line x1="155.7" y1="196.2" x2="157.1" y2="196.2" stroke="#A3A500" stroke-width="0.8"/>
<line x1="156.4" y1="194.8" x2="156.4" y2="196.2" stroke="#A3A500" stroke-width="0.8"/>
<line x1="158.1" y1="200.5" x2="158.1" y2="218.0" stroke="#A3A500" stroke-width="0.7"/>
<line x1="158.6" y1="200.5" x2="158.6" y2="218.0" stroke="#A3A500" stroke-width="0.7"/>
<line x1="158.1" y1="200.5" x2="158.6" y2="200.5" stroke="#A3A500" stroke-width="0.8"/>
<line x1="158.4" y1="196.6" x2="158.4" y2="200.5" stroke="#A3A500" stroke-width="0.8"/>
<line x1="159.2" y1="196.6" x2="159.2" y2="218.0" stroke="#A3A500" stroke-width="0.7"/>
<line x1="158.4" y1="196.6" x2="159.2" y2="196.6" stroke="#A3A500" stroke-width="0.8"/>
<line x1="158.8" y1="194.8" x2="158.8" y2="196.6" stroke="#A3A500" stroke-width="0.8"/>
<line x1="156.4" y1="194.8" x2="158.8" y2="194.8" stroke="#A3A500" stroke-width="0.8"/>
<line x1="157.6" y1="193.2" x2="157.6" y2="194.8" stroke="#A3A500" stroke-width="0.8"/>
<line x1="159.7" y1="198.7" x2="159.7" y2="218.0" stroke="#A3A500" stroke-width="0.7"/>
<line x1="160.4" y1="198.7" x2="160.4" y2="218.0" stroke="#A3A500" stroke-width="0.7"/>
<line x1="159.7" y1="198.7" x2="160.4" y2="198.7" stroke="#A3A500" stroke-width="0.8"/>
<line x1="160.0" y1="197.2" x2="160.0" y2="198.7" stroke="#A3A500" stroke-width="0.8"/>
<line x1="161.3" y1="197.2" x2="161.3" y2="218.0" stroke="#A3A500" stroke-width="0.7"/>
<line x1="160.0" y1="197.2" x2="161.3" y2="197.2" stroke="#A3A500" stroke-width="0.8"/>
<line x1="160.7" y1="193.2" x2="160.7" y2="197.2" stroke="#A3A500" stroke-width="0.8"/>
<line x1="157.6" y1="193.2" x2="160.7" y2="193.2" stroke="#A3A500" stroke-width="0.8"/>
<line x1="159.1" y1="188.0" x2="159.1" y2="193.2" stroke="#A3A500" stroke-width="0.8"/>
<line x1="152.3" y1="188.0" x2="159.1" y2="188.0" stroke="#A3A500" stroke-width="0.8"/>
<line x1="155.7" y1="160.1" x2="155.7" y2="188.0" stroke="#A3A500" stroke-width="0.8"/>
<line x1="128.2" y1="160.1" x2="155.7" y2="160.1" stroke="#A3A500" stroke-width="0.9"/>
<line x1="174.5" y1="92.2" x2="174.5" y2="142.0" stroke="#00BF7D" stroke-width="0.9"/>
<line x1="172.0" y1="142.0" x2="172.0" y2="163.5" stroke="#00BF7D" stroke-width="0.9"/>
<line x1="162.0" y1="194.2" x2="162.0" y2="218.0" stroke="#00BF7D" stroke-width="0.7"/>
<line x1="162.5" y1="194.2" x2="162.5" y2="218.0" stroke="#00BF7D" stroke-width="0.7"/>
<line x1="162.0" y1="194.2" x2="162.5" y2="194.2" stroke="#00BF7D" stroke-width="0.8"/>
<line x1="162.2" y1="186.6" x2="162.2" y2="194.2" stroke="#00BF7D" stroke-width="0.8"/>
<line x1="163.1" y1="186.6" x2="163.1" y2="218.0" stroke="#00BF7D" stroke-width="0.7"/>
<line x1="162.2" y1="186.6" x2="163.1" y2="186.6" stroke="#00BF7D" stroke-width="0.8"/>
<line x1="162.7" y1="183.4" x2="162.7" y2="186.6" stroke="#00BF7D" stroke-width="0.8"/>
<line x1="163.7" y1="192.4" x2="163.7" y2="218.0" stroke="#00BF7D" stroke-width="0.7"/>
<line x1="164.5" y1="192.4" x2="164.5" y2="218.0" stroke="#00BF7D" stroke-width="0.7"/>
<line x1="163.7" y1="192.4" x2="164.5" y2="192.4" stroke="#00BF7D" stroke-width="0.8"/>
<line x1="164.1" y1="190.5" x2="164.1" y2="192.4" stroke="#00BF7D" stroke-width="0.8"/>
<line x1="165.1" y1="192.9" x2="165.1" y2="218.0" stroke="#00BF7D" stroke-width="0.7"/>
<line x1="165.6" y1="192.9" x2="165.6" y2="218.0" stroke="#00BF7D" stroke-width="0.7"/>
<line x1="165.1" y1="192.9" x2="165.6" y2="192.9" stroke="#00BF7D" stroke-width="0.8"/>
<line x1="165.3" y1="190.5" x2="165.3" y2="192.9" stroke="#00BF7D" stroke-width="0.8"/>
<line x1="164.1" y1="190.5" x2="165.3" y2="190.5" stroke="#00BF7D" stroke-width="0.8"/>
<line x1="164.7" y1="183.4" x2="164.7" y2="190.5" stroke="#00BF7D" stroke-width="0.8"/>
<line x1="162.7" y1="183.4" x2="164.7" y2="183.4" stroke="#00BF7D" stroke-width="0.8"/>
<line x1="163.7" y1="178.0" x2="163.7" y2="183.4" stroke="#00BF7D" stroke-width="0.8"/>
<line x1="166.3" y1="185.6" x2="166.3" y2="218.0" stroke="#00BF7D" stroke-width="0.7"/>
<line x1="167.1" y1="185.6" x2="167.1" y2="218.0" stroke="#00BF7D" stroke-width="0.7"/>
<line x1="166.3" y1="185.6" x2="167.1" y2="185.6" stroke="#00BF7D" stroke-width="0.8"/>
<line x1="166.7" y1="180.9" x2="166.7" y2="185.6" stroke="#00BF7D" stroke-width="0.8"/>
<line x1="167.9" y1="189.4" x2="167.9" y2="218.0" stroke="#00BF7D" stroke-width="0.7"/>
<line x1="168.5" y1="189.4" x2="168.5" y2="218.0" stroke="#00BF7D" stroke-width="0.7"/>
<line x1="167.9" y1="189.4" x2="168.5" y2="189.4" stroke="#00BF7D" stroke-width="0.8"/>
<line x1="168.2" y1="187.3" x2="168.2" y2="189.4" stroke="#00BF7D" stroke-width="0.8"/>
<line x1="169.1" y1="194.7" x2="169.1" y2="218.0" stroke="#00BF7D" stroke-width="0.7"/>
<line x1="169.7" y1="194.7" x2="169.7" y2="218.0" stroke="#00BF7D" stroke-width="0.7"/>
<line x1="169.1" y1="194.7" x2="169.7" y2="194.7" stroke="#00BF7D" stroke-width="0.8"/>
<line x1="169.4" y1="187.3" x2="169.4" y2="194.7" stroke="#00BF7D" stroke-width="0.8"/>
<line x1="168.2" y1="187.3" x2="169.4" y2="187.3" stroke="#00BF7D" stroke-width="0.8"/>
<line x1="168.8" y1="180.9" x2="168.8" y2="187.3" stroke="#00BF7D" stroke-width="0.8"/>
<line x1="166.7" y1="180.9" x2="168.8" y2="180.9" stroke="#00BF7D" stroke-width="0.8"/>
<line x1="167.7" y1="178.0" x2="167.7" y2="180.9" stroke="#00BF7D" stroke-width="0.8"/>
<line x1="163.7" y1="178.0" x2="167.7" y2="178.0" stroke="#00BF7D" stroke-width="0.8"/>
<line x1="165.7" y1="163.5" x2="165.7" y2="178.0" stroke="#00BF7D" stroke-width="0.8"/>
<line x1="170.3" y1="195.6" x2="170.3" y2="218.0" stroke="#00BF7D" stroke-width="0.7"/>
<line x1="170.8" y1="195.6" x2="170.8" y2="218.0" stroke="#00BF7D" stroke-width="0.7"/>
<line x1="170.3" y1="195.6" x2="170.8" y2="195.6" stroke="#00BF7D" stroke-width="0.8"/>
<line x1="170.6" y1="191.9" x2="170.6" y2="195.6" stroke="#00BF7D" stroke-width="0.8"/>
<line x1="171.5" y1="195.1" x2="171.5" y2="218.0" stroke="#00BF7D" stroke-width="0.7"/>
<line x1="172.3" y1="195.1" x2="172.3" y2="218.0" stroke="#00BF7D" stroke-width="0.7"/>
<line x1="171.5" y1="195.1" x2="172.3" y2="195.1" stroke="#00BF7D" stroke-width="0.8"/>
<line x1="171.9" y1="191.9" x2="171.9" y2="195.1" stroke="#00BF7D" stroke-width="0.8"/>
<line x1="170.6" y1="191.9" x2="171.9" y2="191.9" stroke="#00BF7D" stroke-width="0.8"/>
<line x1="171.2" y1="184.0" x2="171.2" y2="191.9" stroke="#00BF7D" stroke-width="0.8"/>
<line x1="173.0" y1="194.1" x2="173.0" y2="218.0" stroke="#00BF7D" stroke-width="0.7"/>
<line x1="173.7" y1="194.1" x2="173.7" y2="218.0" stroke="#00BF7D" stroke-width="0.7"/>
<line x1="173.0" y1="194.1" x2="173.7" y2="194.1" stroke="#00BF7D" stroke-width="0.8"/>
<line x1="173.3" y1="190.8" x2="173.3" y2="194.1" stroke="#00BF7D" stroke-width="0.8"/>
<line x1="174.5" y1="190.8" x2="174.5" y2="218.0" stroke="#00BF7D" stroke-width="0.7"/>
<line x1="173.3" y1="190.8" x2="174.5" y2="190.8" stroke="#00BF7D" stroke-width="0.8"/>
<line x1="173.9" y1="184.0" x2="173.9" y2="190.8" stroke="#00BF7D" stroke-width="0.8"/>
<line x1="171.2" y1="184.0" x2="173.9" y2="184.0" stroke="#00BF7D" stroke-width="0.8"/>
<line x1="172.6" y1="163.5" x2="172.6" y2="184.0" stroke="#00BF7D" stroke-width="0.8"/>
<line x1="165.7" y1="163.5" x2="172.6" y2="163.5" stroke="#00BF7D" stroke-width="0.9"/>
<line x1="175.3" y1="180.4" x2="175.3" y2="218.0" stroke="#00BF7D" stroke-width="0.7"/>
<line x1="175.9" y1="180.4" x2="175.9" y2="218.0" stroke="#00BF7D" stroke-width="0.7"/>
<line x1="175.3" y1="180.4" x2="175.9" y2="180.4" stroke="#00BF7D" stroke-width="0.8"/>
<line x1="175.6" y1="174.7" x2="175.6" y2="180.4" stroke="#00BF7D" stroke-width="0.8"/>
<line x1="176.4" y1="174.7" x2="176.4" y2="218.0" stroke="#00BF7D" stroke-width="0.7"/>
<line x1="175.6" y1="174.7" x2="176.4" y2="174.7" stroke="#00BF7D" stroke-width="0.8"/>
<line x1="176.0" y1="172.6" x2="176.0" y2="174.7" stroke="#00BF7D" stroke-width="0.8"/>
<line x1="177.1" y1="182.2" x2="177.1" y2="218.0" stroke="#00BF7D" stroke-width="0.7"/>
<line x1="177.7" y1="182.2" x2="177.7" y2="218.0" stroke="#00BF7D" stroke-width="0.7"/>
<line x1="177.1" y1="182.2" x2="177.7" y2="182.2" stroke="#00BF7D" stroke-width="0.8"/>
<line x1="177.4" y1="176.7" x2="177.4" y2="182.2" stroke="#00BF7D" stroke-width="0.8"/>
<line x1="178.4" y1="176.7" x2="178.4" y2="218.0" stroke="#00BF7D" stroke-width="0.7"/>
<line x1="177.4" y1="176.7" x2="178.4" y2="176.7" stroke="#00BF7D" stroke-width="0.8"/>
<line x1="177.9" y1="172.6" x2="177.9" y2="176.7" stroke="#00BF7D" stroke-width="0.8"/>
<line x1="176.0" y1="172.6" x2="177.9" y2="172.6" stroke="#00BF7D" stroke-width="0.8"/>
<line x1="176.9" y1="142.0" x2="176.9" y2="172.6" stroke="#00BF7D" stroke-width="0.8"/>
<line x1="172.0" y1="142.0" x2="176.9" y2="142.0" stroke="#00BF7D" stroke-width="0.9"/>
<line x1="195.0" y1="78.6" x2="195.0" y2="135.2" stroke="#00B0F6" stroke-width="0.9"/>
<line x1="186.3" y1="135.2" x2="186.3" y2="171.5" stroke="#00B0F6" stroke-width="0.9"/>
<line x1="179.1" y1="194.4" x2="179.1" y2="218.0" stroke="#00B0F6" stroke-width="0.7"/>
<line x1="179.8" y1="194.4" x2="179.8" y2="218.0" stroke="#00B0F6" stroke-width="0.7"/>
<line x1="179.1" y1="194.4" x2="179.8" y2="194.4" stroke="#00B0F6" stroke-width="0.8"/>
<line x1="179.5" y1="191.6" x2="179.5" y2="194.4" stroke="#00B0F6" stroke-width="0.8"/>
<line x1="180.5" y1="196.9" x2="180.5" y2="218.0" stroke="#00B0F6" stroke-width="0.7"/>
<line x1="181.1" y1="196.9" x2="181.1" y2="218.0" stroke="#00B0F6" stroke-width="0.7"/>
<line x1="180.5" y1="196.9" x2="181.1" y2="196.9" stroke="#00B0F6" stroke-width="0.8"/>
<line x1="180.8" y1="194.8" x2="180.8" y2="196.9" stroke="#00B0F6" stroke-width="0.8"/>
<line x1="181.9" y1="200.0" x2="181.9" y2="218.0" stroke="#00B0F6" stroke-width="0.7"/>
<line x1="182.4" y1="200.0" x2="182.4" y2="218.0" stroke="#00B0F6" stroke-width="0.7"/>
<line x1="181.9" y1="200.0" x2="182.4" y2="200.0" stroke="#00B0F6" stroke-width="0.8"/>
<line x1="182.1" y1="196.1" x2="182.1" y2="200.0" stroke="#00B0F6" stroke-width="0.8"/>
<line x1="182.7" y1="198.8" x2="182.7" y2="218.0" stroke="#00B0F6" stroke-width="0.7"/>
<line x1="183.2" y1="198.8" x2="183.2" y2="218.0" stroke="#00B0F6" stroke-width="0.7"/>
<line x1="182.7" y1="198.8" x2="183.2" y2="198.8" stroke="#00B0F6" stroke-width="0.8"/>
<line x1="183.0" y1="196.1" x2="183.0" y2="198.8" stroke="#00B0F6" stroke-width="0.8"/>
<line x1="182.1" y1="196.1" x2="183.0" y2="196.1" stroke="#00B0F6" stroke-width="0.8"/>
<line x1="182.5" y1="194.8" x2="182.5" y2="196.1" stroke="#00B0F6" stroke-width="0.8"/>
<line x1="180.8" y1="194.8" x2="182.5" y2="194.8" stroke="#00B0F6" stroke-width="0.8"/>
<line x1="181.7" y1="191.6" x2="181.7" y2="194.8" stroke="#00B0F6" stroke-width="0.8"/>
<line x1="179.5" y1="191.6" x2="181.7" y2="191.6" stroke="#00B0F6" stroke-width="0.8"/>
<line x1="180.6" y1="185.0" x2="180.6" y2="191.6" stroke="#00B0F6" stroke-width="0.8"/>
<line x1="183.8" y1="196.7" x2="183.8" y2="218.0" stroke="#00B0F6" stroke-width="0.7"/>
<line x1="184.4" y1="196.7" x2="184.4" y2="218.0" stroke="#00B0F6" stroke-width="0.7"/>
<line x1="183.8" y1="196.7" x2="184.4" y2="196.7" stroke="#00B0F6" stroke-width="0.8"/>
<line x1="184.1" y1="192.9" x2="184.1" y2="196.7" stroke="#00B0F6" stroke-width="0.8"/>
<line x1="185.0" y1="195.5" x2="185.0" y2="218.0" stroke="#00B0F6" stroke-width="0.7"/>
<line x1="185.6" y1="195.5" x2="185.6" y2="218.0" stroke="#00B0F6" stroke-width="0.7"/>
<line x1="185.0" y1="195.5" x2="185.6" y2="195.5" stroke="#00B0F6" stroke-width="0.8"/>
<line x1="185.3" y1="194.4" x2="185.3" y2="195.5" stroke="#00B0F6" stroke-width="0.8"/>
<line x1="186.2" y1="198.2" x2="186.2" y2="218.0" stroke="#00B0F6" stroke-width="0.7"/>
<line x1="186.7" y1="198.2" x2="186.7" y2="218.0" stroke="#00B0F6" stroke-width="0.7"/>
<line x1="186.2" y1="198.2" x2="186.7" y2="198.2" stroke="#00B0F6" stroke-width="0.8"/>
<line x1="186.4" y1="194.4" x2="186.4" y2="198.2" stroke="#00B0F6" stroke-width="0.8"/>
<line x1="185.3" y1="194.4" x2="186.4" y2="194.4" stroke="#00B0F6" stroke-width="0.8"/>
<line x1="185.9" y1="192.9" x2="185.9" y2="194.4" stroke="#00B0F6" stroke-width="0.8"/>
<line x1="184.1" y1="192.9" x2="185.9" y2="192.9" stroke="#00B0F6" stroke-width="0.8"/>
<line x1="185.0" y1="185.0" x2="185.0" y2="192.9" stroke="#00B0F6" stroke-width="0.8"/>
<line x1="180.6" y1="185.0" x2="185.0" y2="185.0" stroke="#00B0F6" stroke-width="0.8"/>
<line x1="182.8" y1="171.5" x2="182.8" y2="185.0" stroke="#00B0F6" stroke-width="0.8"/>
<line x1="187.3" y1="190.8" x2="187.3" y2="218.0" stroke="#00B0F6" stroke-width="0.7"/>
<line x1="187.8" y1="194.0" x2="187.8" y2="218.0" stroke="#00B0F6" stroke-width="0.7"/>
<line x1="188.4" y1="194.0" x2="188.4" y2="218.0" stroke="#00B0F6" stroke-width="0.7"/>
<line x1="187.8" y1="194.0" x2="188.4" y2="194.0" stroke="#00B0F6" stroke-width="0.8"/>
<line x1="188.1" y1="190.8" x2="188.1" y2="194.0" stroke="#00B0F6" stroke-width="0.8"/>
<line x1="187.3" y1="190.8" x2="188.1" y2="190.8" stroke="#00B0F6" stroke-width="0.8"/>
<line x1="187.7" y1="188.7" x2="187.7" y2="190.8" stroke="#00B0F6" stroke-width="0.8"/>
<line x1="189.1" y1="192.2" x2="189.1" y2="218.0" stroke="#00B0F6" stroke-width="0.7"/>
<line x1="189.8" y1="196.0" x2="189.8" y2="218.0" stroke="#00B0F6" stroke-width="0.7"/>
<line x1="190.4" y1="198.3" x2="190.4" y2="218.0" stroke="#00B0F6" stroke-width="0.7"/>
<line x1="190.9" y1="198.3" x2="190.9" y2="218.0" stroke="#00B0F6" stroke-width="0.7"/>
<line x1="190.4" y1="198.3" x2="190.9" y2="198.3" stroke="#00B0F6" stroke-width="0.8"/>
<line x1="190.6" y1="196.0" x2="190.6" y2="198.3" stroke="#00B0F6" stroke-width="0.8"/>
<line x1="189.8" y1="196.0" x2="190.6" y2="196.0" stroke="#00B0F6" stroke-width="0.8"/>
<line x1="190.2" y1="192.2" x2="190.2" y2="196.0" stroke="#00B0F6" stroke-width="0.8"/>
<line x1="189.1" y1="192.2" x2="190.2" y2="192.2" stroke="#00B0F6" stroke-width="0.8"/>
<line x1="189.7" y1="188.7" x2="189.7" y2="192.2" stroke="#00B0F6" stroke-width="0.8"/>
<line x1="187.7" y1="188.7" x2="189.7" y2="188.7" stroke="#00B0F6" stroke-width="0.8"/>
<line x1="188.7" y1="185.0" x2="188.7" y2="188.7" stroke="#00B0F6" stroke-width="0.8"/>
<line x1="191.7" y1="195.1" x2="191.7" y2="218.0" stroke="#00B0F6" stroke-width="0.7"/>
<line x1="192.6" y1="195.1" x2="192.6" y2="218.0" stroke="#00B0F6" stroke-width="0.7"/>
<line x1="191.7" y1="195.1" x2="192.6" y2="195.1" stroke="#00B0F6" stroke-width="0.8"/>
<line x1="192.2" y1="191.3" x2="192.2" y2="195.1" stroke="#00B0F6" stroke-width="0.8"/>
<line x1="193.4" y1="195.8" x2="193.4" y2="218.0" stroke="#00B0F6" stroke-width="0.7"/>
<line x1="193.9" y1="195.8" x2="193.9" y2="218.0" stroke="#00B0F6" stroke-width="0.7"/>
<line x1="193.4" y1="195.8" x2="193.9" y2="195.8" stroke="#00B0F6" stroke-width="0.8"/>
<line x1="193.6" y1="194.5" x2="193.6" y2="195.8" stroke="#00B0F6" stroke-width="0.8"/>
<line x1="194.6" y1="194.5" x2="194.6" y2="218.0" stroke="#00B0F6" stroke-width="0.7"/>
<line x1="193.6" y1="194.5" x2="194.6" y2="194.5" stroke="#00B0F6" stroke-width="0.8"/>
<line x1="194.1" y1="191.3" x2="194.1" y2="194.5" stroke="#00B0F6" stroke-width="0.8"/>
<line x1="192.2" y1="191.3" x2="194.1" y2="191.3" stroke="#00B0F6" stroke-width="0.8"/>
<line x1="193.1" y1="185.0" x2="193.1" y2="191.3" stroke="#00B0F6" stroke-width="0.8"/>
<line x1="188.7" y1="185.0" x2="193.1" y2="185.0" stroke="#00B0F6" stroke-width="0.8"/>
<line x1="190.9" y1="171.5" x2="190.9" y2="185.0" stroke="#00B0F6" stroke-width="0.8"/>
<line x1="182.8" y1="171.5" x2="190.9" y2="171.5" stroke="#00B0F6" stroke-width="0.9"/>
<line x1="203.3" y1="135.2" x2="203.3" y2="163.1" stroke="#00B0F6" stroke-width="0.9"/>
<line x1="195.3" y1="192.0" x2="195.3" y2="218.0" stroke="#00B0F6" stroke-width="0.7"/>
<line x1="195.8" y1="192.0" x2="195.8" y2="218.0" stroke="#00B0F6" stroke-width="0.7"/>
<line x1="195.3" y1="192.0" x2="195.8" y2="192.0" stroke="#00B0F6" stroke-width="0.8"/>
<line x1="195.5" y1="187.5" x2="195.5" y2="192.0" stroke="#00B0F6" stroke-width="0.8"/>
<line x1="196.6" y1="187.5" x2="196.6" y2="218.0" stroke="#00B0F6" stroke-width="0.7"/>
<line x1="195.5" y1="187.5" x2="196.6" y2="187.5" stroke="#00B0F6" stroke-width="0.8"/>
<line x1="196.1" y1="182.7" x2="196.1" y2="187.5" stroke="#00B0F6" stroke-width="0.8"/>
<line x1="197.5" y1="186.3" x2="197.5" y2="218.0" stroke="#00B0F6" stroke-width="0.7"/>
<line x1="198.3" y1="186.3" x2="198.3" y2="218.0" stroke="#00B0F6" stroke-width="0.7"/>
<line x1="197.5" y1="186.3" x2="198.3" y2="186.3" stroke="#00B0F6" stroke-width="0.8"/>
<line x1="197.9" y1="182.7" x2="197.9" y2="186.3" stroke="#00B0F6" stroke-width="0.8"/>
<line x1="196.1" y1="182.7" x2="197.9" y2="182.7" stroke="#00B0F6" stroke-width="0.8"/>
<line x1="197.0" y1="180.0" x2="197.0" y2="182.7" stroke="#00B0F6" stroke-width="0.8"/>
<line x1="199.1" y1="191.4" x2="199.1" y2="218.0" stroke="#00B0F6" stroke-width="0.7"/>
<line x1="199.9" y1="194.4" x2="199.9" y2="218.0" stroke="#00B0F6" stroke-width="0.7"/>
<line x1="200.5" y1="194.4" x2="200.5" y2="218.0" stroke="#00B0F6" stroke-width="0.7"/>
<line x1="199.9" y1="194.4" x2="200.5" y2="194.4" stroke="#00B0F6" stroke-width="0.8"/>
<line x1="200.2" y1="191.4" x2="200.2" y2="194.4" stroke="#00B0F6" stroke-width="0.8"/>
<line x1="199.1" y1="191.4" x2="200.2" y2="191.4" stroke="#00B0F6" stroke-width="0.8"/>
<line x1="199.6" y1="184.7" x2="199.6" y2="191.4" stroke="#00B0F6" stroke-width="0.8"/>
<line x1="201.2" y1="190.4" x2="201.2" y2="218.0" stroke="#00B0F6" stroke-width="0.7"/>
<line x1="201.8" y1="190.4" x2="201.8" y2="218.0" stroke="#00B0F6" stroke-width="0.7"/>
<line x1="201.2" y1="190.4" x2="201.8" y2="190.4" stroke="#00B0F6" stroke-width="0.8"/>
<line x1="201.5" y1="184.7" x2="201.5" y2="190.4" stroke="#00B0F6" stroke-width="0.8"/>
<line x1="199.6" y1="184.7" x2="201.5" y2="184.7" stroke="#00B0F6" stroke-width="0.8"/>
<line x1="200.6" y1="180.0" x2="200.6" y2="184.7" stroke="#00B0F6" stroke-width="0.8"/>
<line x1="197.0" y1="180.0" x2="200.6" y2="180.0" stroke="#00B0F6" stroke-width="0.8"/>
<line x1="198.8" y1="163.1" x2="198.8" y2="180.0" stroke="#00B0F6" stroke-width="0.8"/>
<line x1="208.5" y1="163.1" x2="208.5" y2="165.8" stroke="#00B0F6" stroke-width="0.9"/>
<line x1="202.3" y1="193.7" x2="202.3" y2="218.0" stroke="#00B0F6" stroke-width="0.7"/>
<line x1="203.0" y1="193.7" x2="203.0" y2="218.0" stroke="#00B0F6" stroke-width="0.7"/>
<line x1="202.3" y1="193.7" x2="203.0" y2="193.7" stroke="#00B0F6" stroke-width="0.8"/>
<line x1="202.6" y1="192.5" x2="202.6" y2="193.7" stroke="#00B0F6" stroke-width="0.8"/>
<line x1="203.7" y1="195.5" x2="203.7" y2="218.0" stroke="#00B0F6" stroke-width="0.7"/>
<line x1="204.5" y1="195.5" x2="204.5" y2="218.0" stroke="#00B0F6" stroke-width="0.7"/>
<line x1="203.7" y1="195.5" x2="204.5" y2="195.5" stroke="#00B0F6" stroke-width="0.8"/>
<line x1="204.1" y1="194.3" x2="204.1" y2="195.5" stroke="#00B0F6" stroke-width="0.8"/>
<line x1="205.1" y1="195.6" x2="205.1" y2="218.0" stroke="#00B0F6" stroke-width="0.7"/>
<line x1="205.8" y1="195.6" x2="205.8" y2="218.0" stroke="#00B0F6" stroke-width="0.7"/>
<line x1="205.1" y1="195.6" x2="205.8" y2="195.6" stroke="#00B0F6" stroke-width="0.8"/>
<line x1="205.4" y1="194.3" x2="205.4" y2="195.6" stroke="#00B0F6" stroke-width="0.8"/>
<line x1="204.1" y1="194.3" x2="205.4" y2="194.3" stroke="#00B0F6" stroke-width="0.8"/>
<line x1="204.8" y1="192.5" x2="204.8" y2="194.3" stroke="#00B0F6" stroke-width="0.8"/>
<line x1="202.6" y1="192.5" x2="204.8" y2="192.5" stroke="#00B0F6" stroke-width="0.8"/>
<line x1="203.7" y1="185.0" x2="203.7" y2="192.5" stroke="#00B0F6" stroke-width="0.8"/>
<line x1="206.6" y1="192.3" x2="206.6" y2="218.0" stroke="#00B0F6" stroke-width="0.7"/>
<line x1="207.1" y1="195.8" x2="207.1" y2="218.0" stroke="#00B0F6" stroke-width="0.7"/>
<line x1="207.7" y1="195.8" x2="207.7" y2="218.0" stroke="#00B0F6" stroke-width="0.7"/>
<line x1="207.1" y1="195.8" x2="207.7" y2="195.8" stroke="#00B0F6" stroke-width="0.8"/>
<line x1="207.4" y1="192.3" x2="207.4" y2="195.8" stroke="#00B0F6" stroke-width="0.8"/>
<line x1="206.6" y1="192.3" x2="207.4" y2="192.3" stroke="#00B0F6" stroke-width="0.8"/>
<line x1="207.0" y1="185.0" x2="207.0" y2="192.3" stroke="#00B0F6" stroke-width="0.8"/>
<line x1="203.7" y1="185.0" x2="207.0" y2="185.0" stroke="#00B0F6" stroke-width="0.8"/>
<line x1="205.3" y1="165.8" x2="205.3" y2="185.0" stroke="#00B0F6" stroke-width="0.8"/>
<line x1="208.4" y1="185.2" x2="208.4" y2="218.0" stroke="#00B0F6" stroke-width="0.7"/>
<line x1="209.2" y1="185.2" x2="209.2" y2="218.0" stroke="#00B0F6" stroke-width="0.7"/>
<line x1="208.4" y1="185.2" x2="209.2" y2="185.2" stroke="#00B0F6" stroke-width="0.8"/>
<line x1="208.8" y1="181.6" x2="208.8" y2="185.2" stroke="#00B0F6" stroke-width="0.8"/>
<line x1="210.0" y1="188.5" x2="210.0" y2="218.0" stroke="#00B0F6" stroke-width="0.7"/>
<line x1="210.7" y1="194.9" x2="210.7" y2="218.0" stroke="#00B0F6" stroke-width="0.7"/>
<line x1="211.2" y1="194.9" x2="211.2" y2="218.0" stroke="#00B0F6" stroke-width="0.7"/>
<line x1="210.7" y1="194.9" x2="211.2" y2="194.9" stroke="#00B0F6" stroke-width="0.8"/>
<line x1="211.0" y1="188.5" x2="211.0" y2="194.9" stroke="#00B0F6" stroke-width="0.8"/>
<line x1="210.0" y1="188.5" x2="211.0" y2="188.5" stroke="#00B0F6" stroke-width="0.8"/>
<line x1="210.5" y1="181.6" x2="210.5" y2="188.5" stroke="#00B0F6" stroke-width="0.8"/>
<line x1="208.8" y1="181.6" x2="210.5" y2="181.6" stroke="#00B0F6" stroke-width="0.8"/>
<line x1="209.6" y1="175.0" x2="209.6" y2="181.6" stroke="#00B0F6" stroke-width="0.8"/>
<line x1="211.9" y1="178.3" x2="211.9" y2="218.0" stroke="#00B0F6" stroke-width="0.7"/>
<line x1="212.7" y1="180.8" x2="212.7" y2="218.0" stroke="#00B0F6" stroke-width="0.7"/>
<line x1="213.3" y1="185.7" x2="213.3" y2="218.0" stroke="#00B0F6" stroke-width="0.7"/>
<line x1="213.9" y1="185.7" x2="213.9" y2="218.0" stroke="#00B0F6" stroke-width="0.7"/>
<line x1="213.3" y1="185.7" x2="213.9" y2="185.7" stroke="#00B0F6" stroke-width="0.8"/>
<line x1="213.6" y1="180.8" x2="213.6" y2="185.7" stroke="#00B0F6" stroke-width="0.8"/>
<line x1="212.7" y1="180.8" x2="213.6" y2="180.8" stroke="#00B0F6" stroke-width="0.8"/>
<line x1="213.1" y1="178.3" x2="213.1" y2="180.8" stroke="#00B0F6" stroke-width="0.8"/>
<line x1="211.9" y1="178.3" x2="213.1" y2="178.3" stroke="#00B0F6" stroke-width="0.8"/>
<line x1="212.5" y1="175.0" x2="212.5" y2="178.3" stroke="#00B0F6" stroke-width="0.8"/>
<line x1="209.6" y1="175.0" x2="212.5" y2="175.0" stroke="#00B0F6" stroke-width="0.8"/>
<line x1="211.1" y1="165.8" x2="211.1" y2="175.0" stroke="#00B0F6" stroke-width="0.8"/>
<line x1="205.3" y1="165.8" x2="211.1" y2="165.8" stroke="#00B0F6" stroke-width="0.9"/>
<line x1="198.8" y1="163.1" x2="208.5" y2="163.1" stroke="#00B0F6" stroke-width="0.9"/>
<line x1="186.3" y1="135.2" x2="203.3" y2="135.2" stroke="#00B0F6" stroke-width="0.9"/>
<line x1="245.5" y1="78.6" x2="245.5" y2="123.5" stroke="#E76BF3" stroke-width="0.9"/>
<line x1="230.5" y1="123.5" x2="230.5" y2="165.3" stroke="#E76BF3" stroke-width="0.9"/>
<line x1="214.5" y1="190.8" x2="214.5" y2="218.0" stroke="#E76BF3" stroke-width="0.7"/>
<line x1="215.0" y1="190.8" x2="215.0" y2="218.0" stroke="#E76BF3" stroke-width="0.7"/>
<line x1="214.5" y1="190.8" x2="215.0" y2="190.8" stroke="#E76BF3" stroke-width="0.8"/>
<line x1="214.7" y1="187.1" x2="214.7" y2="190.8" stroke="#E76BF3" stroke-width="0.8"/>
<line x1="215.7" y1="187.1" x2="215.7" y2="218.0" stroke="#E76BF3" stroke-width="0.7"/>
<line x1="214.7" y1="187.1" x2="215.7" y2="187.1" stroke="#E76BF3" stroke-width="0.8"/>
<line x1="215.2" y1="183.3" x2="215.2" y2="187.1" stroke="#E76BF3" stroke-width="0.8"/>
<line x1="216.6" y1="195.9" x2="216.6" y2="218.0" stroke="#E76BF3" stroke-width="0.7"/>
<line x1="217.3" y1="195.9" x2="217.3" y2="218.0" stroke="#E76BF3" stroke-width="0.7"/>
<line x1="216.6" y1="195.9" x2="217.3" y2="195.9" stroke="#E76BF3" stroke-width="0.8"/>
<line x1="217.0" y1="189.6" x2="217.0" y2="195.9" stroke="#E76BF3" stroke-width="0.8"/>
<line x1="217.8" y1="198.5" x2="217.8" y2="218.0" stroke="#E76BF3" stroke-width="0.7"/>
<line x1="218.4" y1="198.5" x2="218.4" y2="218.0" stroke="#E76BF3" stroke-width="0.7"/>
<line x1="217.8" y1="198.5" x2="218.4" y2="198.5" stroke="#E76BF3" stroke-width="0.8"/>
<line x1="218.1" y1="195.0" x2="218.1" y2="198.5" stroke="#E76BF3" stroke-width="0.8"/>
<line x1="219.2" y1="197.0" x2="219.2" y2="218.0" stroke="#E76BF3" stroke-width="0.7"/>
<line x1="219.9" y1="197.0" x2="219.9" y2="218.0" stroke="#E76BF3" stroke-width="0.7"/>
<line x1="219.2" y1="197.0" x2="219.9" y2="197.0" stroke="#E76BF3" stroke-width="0.8"/>
<line x1="219.5" y1="195.0" x2="219.5" y2="197.0" stroke="#E76BF3" stroke-width="0.8"/>
<line x1="218.1" y1="195.0" x2="219.5" y2="195.0" stroke="#E76BF3" stroke-width="0.8"/>
<line x1="218.8" y1="189.6" x2="218.8" y2="195.0" stroke="#E76BF3" stroke-width="0.8"/>
<line x1="217.0" y1="189.6" x2="218.8" y2="189.6" stroke="#E76BF3" stroke-width="0.8"/>
<line x1="217.9" y1="183.3" x2="217.9" y2="189.6" stroke="#E76BF3" stroke-width="0.8"/>
<line x1="215.2" y1="183.3" x2="217.9" y2="183.3" stroke="#E76BF3" stroke-width="0.8"/>
<line x1="216.6" y1="180.0" x2="216.6" y2="183.3" stroke="#E76BF3" stroke-width="0.8"/>
<line x1="220.5" y1="194.4" x2="220.5" y2="218.0" stroke="#E76BF3" stroke-width="0.7"/>
<line x1="221.2" y1="194.4" x2="221.2" y2="218.0" stroke="#E76BF3" stroke-width="0.7"/>
<line x1="220.5" y1="194.4" x2="221.2" y2="194.4" stroke="#E76BF3" stroke-width="0.8"/>
<line x1="220.8" y1="191.7" x2="220.8" y2="194.4" stroke="#E76BF3" stroke-width="0.8"/>
<line x1="222.0" y1="191.7" x2="222.0" y2="218.0" stroke="#E76BF3" stroke-width="0.7"/>
<line x1="220.8" y1="191.7" x2="222.0" y2="191.7" stroke="#E76BF3" stroke-width="0.8"/>
<line x1="221.4" y1="190.2" x2="221.4" y2="191.7" stroke="#E76BF3" stroke-width="0.8"/>
<line x1="223.0" y1="194.7" x2="223.0" y2="218.0" stroke="#E76BF3" stroke-width="0.7"/>
<line x1="223.9" y1="194.7" x2="223.9" y2="218.0" stroke="#E76BF3" stroke-width="0.7"/>
<line x1="223.0" y1="194.7" x2="223.9" y2="194.7" stroke="#E76BF3" stroke-width="0.8"/>
<line x1="223.5" y1="192.8" x2="223.5" y2="194.7" stroke="#E76BF3" stroke-width="0.8"/>
<line x1="224.7" y1="193.9" x2="224.7" y2="218.0" stroke="#E76BF3" stroke-width="0.7"/>
<line x1="225.2" y1="193.9" x2="225.2" y2="218.0" stroke="#E76BF3" stroke-width="0.7"/>
<line x1="224.7" y1="193.9" x2="225.2" y2="193.9" stroke="#E76BF3" stroke-width="0.8"/>
<line x1="225.0" y1="192.8" x2="225.0" y2="193.9" stroke="#E76BF3" stroke-width="0.8"/>
<line x1="223.5" y1="192.8" x2="225.0" y2="192.8" stroke="#E76BF3" stroke-width="0.8"/>
<line x1="224.2" y1="190.2" x2="224.2" y2="192.8" stroke="#E76BF3" stroke-width="0.8"/>
<line x1="221.4" y1="190.2" x2="224.2" y2="190.2" stroke="#E76BF3" stroke-width="0.8"/>
<line x1="222.8" y1="186.0" x2="222.8" y2="190.2" stroke="#E76BF3" stroke-width="0.8"/>
<line x1="225.8" y1="193.0" x2="225.8" y2="218.0" stroke="#E76BF3" stroke-width="0.7"/>
<line x1="226.6" y1="196.2" x2="226.6" y2="218.0" stroke="#E76BF3" stroke-width="0.7"/>
<line x1="227.3" y1="196.2" x2="227.3" y2="218.0" stroke="#E76BF3" stroke-width="0.7"/>
<line x1="226.6" y1="196.2" x2="227.3" y2="196.2" stroke="#E76BF3" stroke-width="0.8"/>
<line x1="226.9" y1="193.0" x2="226.9" y2="196.2" stroke="#E76BF3" stroke-width="0.8"/>
<line x1="225.8" y1="193.0" x2="226.9" y2="193.0" stroke="#E76BF3" stroke-width="0.8"/>
<line x1="226.4" y1="190.3" x2="226.4" y2="193.0" stroke="#E76BF3" stroke-width="0.8"/>
<line x1="227.9" y1="196.9" x2="227.9" y2="218.0" stroke="#E76BF3" stroke-width="0.7"/>
<line x1="228.7" y1="196.9" x2="228.7" y2="218.0" stroke="#E76BF3" stroke-width="0.7"/>
<line x1="227.9" y1="196.9" x2="228.7" y2="196.9" stroke="#E76BF3" stroke-width="0.8"/>
<line x1="228.3" y1="193.7" x2="228.3" y2="196.9" stroke="#E76BF3" stroke-width="0.8"/>
<line x1="229.5" y1="200.0" x2="229.5" y2="218.0" stroke="#E76BF3" stroke-width="0.7"/>
<line x1="230.2" y1="200.0" x2="230.2" y2="218.0" stroke="#E76BF3" stroke-width="0.7"/>
<line x1="229.5" y1="200.0" x2="230.2" y2="200.0" stroke="#E76BF3" stroke-width="0.8"/>
<line x1="229.8" y1="196.7" x2="229.8" y2="200.0" stroke="#E76BF3" stroke-width="0.8"/>
<line x1="230.9" y1="198.8" x2="230.9" y2="218.0" stroke="#E76BF3" stroke-width="0.7"/>
<line x1="231.6" y1="198.8" x2="231.6" y2="218.0" stroke="#E76BF3" stroke-width="0.7"/>
<line x1="230.9" y1="198.8" x2="231.6" y2="198.8" stroke="#E76BF3" stroke-width="0.8"/>
<line x1="231.3" y1="196.7" x2="231.3" y2="198.8" stroke="#E76BF3" stroke-width="0.8"/>
<line x1="229.8" y1="196.7" x2="231.3" y2="196.7" stroke="#E76BF3" stroke-width="0.8"/>
<line x1="230.6" y1="193.7" x2="230.6" y2="196.7" stroke="#E76BF3" stroke-width="0.8"/>
<line x1="228.3" y1="193.7" x2="230.6" y2="193.7" stroke="#E76BF3" stroke-width="0.8"/>
<line x1="229.4" y1="190.3" x2="229.4" y2="193.7" stroke="#E76BF3" stroke-width="0.8"/>
<line x1="226.4" y1="190.3" x2="229.4" y2="190.3" stroke="#E76BF3" stroke-width="0.8"/>
<line x1="227.9" y1="186.0" x2="227.9" y2="190.3" stroke="#E76BF3" stroke-width="0.8"/>
<line x1="222.8" y1="186.0" x2="227.9" y2="186.0" stroke="#E76BF3" stroke-width="0.8"/>
<line x1="225.4" y1="180.0" x2="225.4" y2="186.0" stroke="#E76BF3" stroke-width="0.8"/>
<line x1="216.6" y1="180.0" x2="225.4" y2="180.0" stroke="#E76BF3" stroke-width="0.8"/>
<line x1="221.0" y1="165.3" x2="221.0" y2="180.0" stroke="#E76BF3" stroke-width="0.8"/>
<line x1="232.3" y1="198.8" x2="232.3" y2="218.0" stroke="#E76BF3" stroke-width="0.7"/>
<line x1="233.1" y1="198.8" x2="233.1" y2="218.0" stroke="#E76BF3" stroke-width="0.7"/>
<line x1="232.3" y1="198.8" x2="233.1" y2="198.8" stroke="#E76BF3" stroke-width="0.8"/>
<line x1="232.7" y1="195.4" x2="232.7" y2="198.8" stroke="#E76BF3" stroke-width="0.8"/>
<line x1="233.8" y1="197.7" x2="233.8" y2="218.0" stroke="#E76BF3" stroke-width="0.7"/>
<line x1="234.3" y1="197.7" x2="234.3" y2="218.0" stroke="#E76BF3" stroke-width="0.7"/>
<line x1="233.8" y1="197.7" x2="234.3" y2="197.7" stroke="#E76BF3" stroke-width="0.8"/>
<line x1="234.1" y1="195.4" x2="234.1" y2="197.7" stroke="#E76BF3" stroke-width="0.8"/>
<line x1="232.7" y1="195.4" x2="234.1" y2="195.4" stroke="#E76BF3" stroke-width="0.8"/>
<line x1="233.4" y1="192.5" x2="233.4" y2="195.4" stroke="#E76BF3" stroke-width="0.8"/>
<line x1="234.7" y1="195.1" x2="234.7" y2="218.0" stroke="#E76BF3" stroke-width="0.7"/>
<line x1="235.3" y1="195.1" x2="235.3" y2="218.0" stroke="#E76BF3" stroke-width="0.7"/>
<line x1="234.7" y1="195.1" x2="235.3" y2="195.1" stroke="#E76BF3" stroke-width="0.8"/>
<line x1="235.0" y1="192.5" x2="235.0" y2="195.1" stroke="#E76BF3" stroke-width="0.8"/>
<line x1="233.4" y1="192.5" x2="235.0" y2="192.5" stroke="#E76BF3" stroke-width="0.8"/>
<line x1="234.2" y1="185.5" x2="234.2" y2="192.5" stroke="#E76BF3" stroke-width="0.8"/>
<line x1="235.9" y1="194.0" x2="235.9" y2="218.0" stroke="#E76BF3" stroke-width="0.7"/>
<line x1="236.7" y1="194.0" x2="236.7" y2="218.0" stroke="#E76BF3" stroke-width="0.7"/>
<line x1="235.9" y1="194.0" x2="236.7" y2="194.0" stroke="#E76BF3" stroke-width="0.8"/>
<line x1="236.3" y1="192.8" x2="236.3" y2="194.0" stroke="#E76BF3" stroke-width="0.8"/>
<line x1="237.5" y1="192.8" x2="237.5" y2="218.0" stroke="#E76BF3" stroke-width="0.7"/>
<line x1="236.3" y1="192.8" x2="237.5" y2="192.8" stroke="#E76BF3" stroke-width="0.8"/>
<line x1="236.9" y1="185.5" x2="236.9" y2="192.8" stroke="#E76BF3" stroke-width="0.8"/>
<line x1="234.2" y1="185.5" x2="236.9" y2="185.5" stroke="#E76BF3" stroke-width="0.8"/>
<line x1="235.6" y1="179.5" x2="235.6" y2="185.5" stroke="#E76BF3" stroke-width="0.8"/>
<line x1="238.2" y1="189.0" x2="238.2" y2="218.0" stroke="#E76BF3" stroke-width="0.7"/>
<line x1="238.9" y1="189.0" x2="238.9" y2="218.0" stroke="#E76BF3" stroke-width="0.7"/>
<line x1="238.2" y1="189.0" x2="238.9" y2="189.0" stroke="#E76BF3" stroke-width="0.8"/>
<line x1="238.5" y1="186.6" x2="238.5" y2="189.0" stroke="#E76BF3" stroke-width="0.8"/>
<line x1="239.5" y1="191.4" x2="239.5" y2="218.0" stroke="#E76BF3" stroke-width="0.7"/>
<line x1="240.2" y1="193.0" x2="240.2" y2="218.0" stroke="#E76BF3" stroke-width="0.7"/>
<line x1="240.9" y1="193.0" x2="240.9" y2="218.0" stroke="#E76BF3" stroke-width="0.7"/>
<line x1="240.2" y1="193.0" x2="240.9" y2="193.0" stroke="#E76BF3" stroke-width="0.8"/>
<line x1="240.5" y1="191.4" x2="240.5" y2="193.0" stroke="#E76BF3" stroke-width="0.8"/>
<line x1="239.5" y1="191.4" x2="240.5" y2="191.4" stroke="#E76BF3" stroke-width="0.8"/>
<line x1="240.0" y1="186.6" x2="240.0" y2="191.4" stroke="#E76BF3" stroke-width="0.8"/>
<line x1="238.5" y1="186.6" x2="240.0" y2="186.6" stroke="#E76BF3" stroke-width="0.8"/>
<line x1="239.3" y1="179.5" x2="239.3" y2="186.6" stroke="#E76BF3" stroke-width="0.8"/>
<line x1="235.6" y1="179.5" x2="239.3" y2="179.5" stroke="#E76BF3" stroke-width="0.8"/>
<line x1="237.4" y1="172.0" x2="237.4" y2="179.5" stroke="#E76BF3" stroke-width="0.8"/>
<line x1="241.8" y1="179.6" x2="241.8" y2="218.0" stroke="#E76BF3" stroke-width="0.7"/>
<line x1="242.7" y1="183.4" x2="242.7" y2="218.0" stroke="#E76BF3" stroke-width="0.7"/>
<line x1="243.5" y1="183.4" x2="243.5" y2="218.0" stroke="#E76BF3" stroke-width="0.7"/>
<line x1="242.7" y1="183.4" x2="243.5" y2="183.4" stroke="#E76BF3" stroke-width="0.8"/>
<line x1="243.1" y1="179.6" x2="243.1" y2="183.4" stroke="#E76BF3" stroke-width="0.8"/>
<line x1="241.8" y1="179.6" x2="243.1" y2="179.6" stroke="#E76BF3" stroke-width="0.8"/>
<line x1="242.5" y1="176.5" x2="242.5" y2="179.6" stroke="#E76BF3" stroke-width="0.8"/>
<line x1="244.3" y1="187.5" x2="244.3" y2="218.0" stroke="#E76BF3" stroke-width="0.7"/>
<line x1="245.1" y1="187.5" x2="245.1" y2="218.0" stroke="#E76BF3" stroke-width="0.7"/>
<line x1="244.3" y1="187.5" x2="245.1" y2="187.5" stroke="#E76BF3" stroke-width="0.8"/>
<line x1="244.7" y1="180.2" x2="244.7" y2="187.5" stroke="#E76BF3" stroke-width="0.8"/>
<line x1="246.0" y1="191.0" x2="246.0" y2="218.0" stroke="#E76BF3" stroke-width="0.7"/>
<line x1="246.6" y1="191.0" x2="246.6" y2="218.0" stroke="#E76BF3" stroke-width="0.7"/>
<line x1="246.0" y1="191.0" x2="246.6" y2="191.0" stroke="#E76BF3" stroke-width="0.8"/>
<line x1="246.3" y1="187.6" x2="246.3" y2="191.0" stroke="#E76BF3" stroke-width="0.8"/>
<line x1="247.1" y1="189.9" x2="247.1" y2="218.0" stroke="#E76BF3" stroke-width="0.7"/>
<line x1="247.7" y1="189.9" x2="247.7" y2="218.0" stroke="#E76BF3" stroke-width="0.7"/>
<line x1="247.1" y1="189.9" x2="247.7" y2="189.9" stroke="#E76BF3" stroke-width="0.8"/>
<line x1="247.4" y1="187.6" x2="247.4" y2="189.9" stroke="#E76BF3" stroke-width="0.8"/>
<line x1="246.3" y1="187.6" x2="247.4" y2="187.6" stroke="#E76BF3" stroke-width="0.8"/>
<line x1="246.8" y1="180.2" x2="246.8" y2="187.6" stroke="#E76BF3" stroke-width="0.8"/>
<line x1="244.7" y1="180.2" x2="246.8" y2="180.2" stroke="#E76BF3" stroke-width="0.8"/>
<line x1="245.8" y1="176.5" x2="245.8" y2="180.2" stroke="#E76BF3" stroke-width="0.8"/>
<line x1="242.5" y1="176.5" x2="245.8" y2="176.5" stroke="#E76BF3" stroke-width="0.8"/>
<line x1="244.1" y1="172.0" x2="244.1" y2="176.5" stroke="#E76BF3" stroke-width="0.8"/>
<line x1="237.4" y1="172.0" x2="244.1" y2="172.0" stroke="#E76BF3" stroke-width="0.8"/>
<line x1="240.8" y1="165.3" x2="240.8" y2="172.0" stroke="#E76BF3" stroke-width="0.8"/>
<line x1="221.0" y1="165.3" x2="240.8" y2="165.3" stroke="#E76BF3" stroke-width="0.9"/>
<line x1="261.6" y1="123.5" x2="261.6" y2="157.8" stroke="#E76BF3" stroke-width="0.9"/>
<line x1="248.3" y1="187.1" x2="248.3" y2="218.0" stroke="#E76BF3" stroke-width="0.7"/>
<line x1="248.8" y1="191.0" x2="248.8" y2="218.0" stroke="#E76BF3" stroke-width="0.7"/>
<line x1="249.4" y1="191.0" x2="249.4" y2="218.0" stroke="#E76BF3" stroke-width="0.7"/>
<line x1="248.8" y1="191.0" x2="249.4" y2="191.0" stroke="#E76BF3" stroke-width="0.8"/>
<line x1="249.1" y1="187.1" x2="249.1" y2="191.0" stroke="#E76BF3" stroke-width="0.8"/>
<line x1="248.3" y1="187.1" x2="249.1" y2="187.1" stroke="#E76BF3" stroke-width="0.8"/>
<line x1="248.7" y1="180.8" x2="248.7" y2="187.1" stroke="#E76BF3" stroke-width="0.8"/>
<line x1="250.0" y1="186.4" x2="250.0" y2="218.0" stroke="#E76BF3" stroke-width="0.7"/>
<line x1="250.5" y1="186.4" x2="250.5" y2="218.0" stroke="#E76BF3" stroke-width="0.7"/>
<line x1="250.0" y1="186.4" x2="250.5" y2="186.4" stroke="#E76BF3" stroke-width="0.8"/>
<line x1="250.3" y1="180.8" x2="250.3" y2="186.4" stroke="#E76BF3" stroke-width="0.8"/>
<line x1="248.7" y1="180.8" x2="250.3" y2="180.8" stroke="#E76BF3" stroke-width="0.8"/>
<line x1="249.5" y1="175.9" x2="249.5" y2="180.8" stroke="#E76BF3" stroke-width="0.8"/>
<line x1="251.2" y1="183.1" x2="251.2" y2="218.0" stroke="#E76BF3" stroke-width="0.7"/>
<line x1="252.1" y1="191.4" x2="252.1" y2="218.0" stroke="#E76BF3" stroke-width="0.7"/>
<line x1="252.9" y1="191.4" x2="252.9" y2="218.0" stroke="#E76BF3" stroke-width="0.7"/>
<line x1="252.1" y1="191.4" x2="252.9" y2="191.4" stroke="#E76BF3" stroke-width="0.8"/>
<line x1="252.5" y1="190.2" x2="252.5" y2="191.4" stroke="#E76BF3" stroke-width="0.8"/>
<line x1="253.6" y1="190.2" x2="253.6" y2="218.0" stroke="#E76BF3" stroke-width="0.7"/>
<line x1="252.5" y1="190.2" x2="253.6" y2="190.2" stroke="#E76BF3" stroke-width="0.8"/>
<line x1="253.0" y1="183.1" x2="253.0" y2="190.2" stroke="#E76BF3" stroke-width="0.8"/>
<line x1="251.2" y1="183.1" x2="253.0" y2="183.1" stroke="#E76BF3" stroke-width="0.8"/>
<line x1="252.1" y1="180.2" x2="252.1" y2="183.1" stroke="#E76BF3" stroke-width="0.8"/>
<line x1="254.5" y1="194.5" x2="254.5" y2="218.0" stroke="#E76BF3" stroke-width="0.7"/>
<line x1="255.2" y1="194.5" x2="255.2" y2="218.0" stroke="#E76BF3" stroke-width="0.7"/>
<line x1="254.5" y1="194.5" x2="255.2" y2="194.5" stroke="#E76BF3" stroke-width="0.8"/>
<line x1="254.8" y1="186.8" x2="254.8" y2="194.5" stroke="#E76BF3" stroke-width="0.8"/>
<line x1="255.8" y1="192.3" x2="255.8" y2="218.0" stroke="#E76BF3" stroke-width="0.7"/>
<line x1="256.6" y1="192.3" x2="256.6" y2="218.0" stroke="#E76BF3" stroke-width="0.7"/>
<line x1="255.8" y1="192.3" x2="256.6" y2="192.3" stroke="#E76BF3" stroke-width="0.8"/>
<line x1="256.2" y1="186.8" x2="256.2" y2="192.3" stroke="#E76BF3" stroke-width="0.8"/>
<line x1="254.8" y1="186.8" x2="256.2" y2="186.8" stroke="#E76BF3" stroke-width="0.8"/>
<line x1="255.5" y1="180.2" x2="255.5" y2="186.8" stroke="#E76BF3" stroke-width="0.8"/>
<line x1="252.1" y1="180.2" x2="255.5" y2="180.2" stroke="#E76BF3" stroke-width="0.8"/>
<line x1="253.8" y1="175.9" x2="253.8" y2="180.2" stroke="#E76BF3" stroke-width="0.8"/>
<line x1="249.5" y1="175.9" x2="253.8" y2="175.9" stroke="#E76BF3" stroke-width="0.8"/>
<line x1="251.7" y1="170.0" x2="251.7" y2="175.9" stroke="#E76BF3" stroke-width="0.8"/>
<line x1="257.3" y1="179.6" x2="257.3" y2="218.0" stroke="#E76BF3" stroke-width="0.7"/>
<line x1="258.0" y1="179.6" x2="258.0" y2="218.0" stroke="#E76BF3" stroke-width="0.7"/>
<line x1="257.3" y1="179.6" x2="258.0" y2="179.6" stroke="#E76BF3" stroke-width="0.8"/>
<line x1="257.6" y1="176.7" x2="257.6" y2="179.6" stroke="#E76BF3" stroke-width="0.8"/>
<line x1="258.6" y1="183.7" x2="258.6" y2="218.0" stroke="#E76BF3" stroke-width="0.7"/>
<line x1="259.2" y1="183.7" x2="259.2" y2="218.0" stroke="#E76BF3" stroke-width="0.7"/>
<line x1="258.6" y1="183.7" x2="259.2" y2="183.7" stroke="#E76BF3" stroke-width="0.8"/>
<line x1="258.9" y1="176.7" x2="258.9" y2="183.7" stroke="#E76BF3" stroke-width="0.8"/>
<line x1="257.6" y1="176.7" x2="258.9" y2="176.7" stroke="#E76BF3" stroke-width="0.8"/>
<line x1="258.3" y1="173.4" x2="258.3" y2="176.7" stroke="#E76BF3" stroke-width="0.8"/>
<line x1="259.9" y1="178.7" x2="259.9" y2="218.0" stroke="#E76BF3" stroke-width="0.7"/>
<line x1="260.6" y1="178.7" x2="260.6" y2="218.0" stroke="#E76BF3" stroke-width="0.7"/>
<line x1="259.9" y1="178.7" x2="260.6" y2="178.7" stroke="#E76BF3" stroke-width="0.8"/>
<line x1="260.2" y1="173.4" x2="260.2" y2="178.7" stroke="#E76BF3" stroke-width="0.8"/>
<line x1="258.3" y1="173.4" x2="260.2" y2="173.4" stroke="#E76BF3" stroke-width="0.8"/>
<line x1="259.2" y1="170.0" x2="259.2" y2="173.4" stroke="#E76BF3" stroke-width="0.8"/>
<line x1="251.7" y1="170.0" x2="259.2" y2="170.0" stroke="#E76BF3" stroke-width="0.8"/>
<line x1="255.5" y1="157.8" x2="255.5" y2="170.0" stroke="#E76BF3" stroke-width="0.8"/>
<line x1="261.3" y1="189.8" x2="261.3" y2="218.0" stroke="#E76BF3" stroke-width="0.7"/>
<line x1="261.9" y1="189.8" x2="261.9" y2="218.0" stroke="#E76BF3" stroke-width="0.7"/>
<line x1="261.3" y1="189.8" x2="261.9" y2="189.8" stroke="#E76BF3" stroke-width="0.8"/>
<line x1="261.6" y1="185.0" x2="261.6" y2="189.8" stroke="#E76BF3" stroke-width="0.8"/>
<line x1="262.4" y1="192.8" x2="262.4" y2="218.0" stroke="#E76BF3" stroke-width="0.7"/>
<line x1="263.0" y1="192.8" x2="263.0" y2="218.0" stroke="#E76BF3" stroke-width="0.7"/>
<line x1="262.4" y1="192.8" x2="263.0" y2="192.8" stroke="#E76BF3" stroke-width="0.8"/>
<line x1="262.7" y1="185.0" x2="262.7" y2="192.8" stroke="#E76BF3" stroke-width="0.8"/>
<line x1="261.6" y1="185.0" x2="262.7" y2="185.0" stroke="#E76BF3" stroke-width="0.8"/>
<line x1="262.2" y1="157.8" x2="262.2" y2="185.0" stroke="#E76BF3" stroke-width="0.8"/>
<line x1="255.5" y1="157.8" x2="262.2" y2="157.8" stroke="#E76BF3" stroke-width="0.9"/>
<line x1="230.5" y1="123.5" x2="261.6" y2="123.5" stroke="#E76BF3" stroke-width="0.9"/>
<rect x="55.7" y="204" width="46.0" height="14" fill="#F8766D"/>
<path d="M55.7,204.5 L55.7,196.2 L56.3,204.5 L56.8,196.8 L57.4,204.5 L57.9,200.5 L58.5,204.5 L59.0,202.2 L59.6,204.5 L60.1,200.9 L60.7,204.5 L61.2,200.3 L61.8,204.5 L62.3,198.1 L62.9,204.5 L63.4,200.0 L64.0,204.5 L64.5,197.5 L65.1,204.5 L65.6,201.3 L66.2,204.5 L66.7,202.1 L67.3,204.5 L67.8,199.1 L68.4,204.5 L68.9,197.0 L69.5,204.5 L70.0,203.2 L70.6,204.5 L71.1,201.8 L71.7,204.5 L72.2,204.0 L72.8,204.5 L73.3,202.3 L73.9,204.5 L74.4,200.5 L75.0,204.5 L75.5,203.0 L76.1,204.5 L76.6,199.4 L77.2,204.5 L77.7,200.1 L78.3,204.5 L78.8,201.3 L79.4,204.5 L79.9,197.9 L80.5,204.5 L81.0,197.2 L81.6,204.5 L82.1,202.8 L82.7,204.5 L83.2,203.4 L83.8,204.5 L84.3,199.5 L84.9,204.5 L85.4,202.3 L86.0,204.5 L86.5,198.3 L87.1,204.5 L87.6,199.4 L88.2,204.5 L88.7,203.2 L89.3,204.5 L89.8,198.7 L90.4,204.5 L90.9,198.0 L91.5,204.5 L92.0,201.7 L92.6,204.5 L93.1,202.2 L93.7,204.5 L94.2,199.0 L94.8,204.5 L95.3,196.1 L95.9,204.5 L96.4,200.8 L97.0,204.5 L97.5,203.8 L98.1,204.5 L98.6,200.6 L99.2,204.5 L99.7,197.7 L100.3,204.5 L100.8,201.2 L101.4,204.5 L101.7,204.5Z" fill="#F8766D"/>
<rect x="101.7" y="204" width="60.1" height="14" fill="#A3A500"/>
<path d="M101.7,204.5 L101.7,199.9 L102.3,204.5 L102.8,201.1 L103.4,204.5 L103.9,197.5 L104.5,204.5 L105.0,196.8 L105.6,204.5 L106.1,198.5 L106.7,204.5 L107.2,198.3 L107.8,204.5 L108.3,202.1 L108.9,204.5 L109.4,203.8 L110.0,204.5 L110.5,196.1 L111.1,204.5 L111.6,198.3 L112.2,204.5 L112.7,199.8 L113.3,204.5 L113.8,202.9 L114.4,204.5 L114.9,201.0 L115.5,204.5 L116.0,201.0 L116.6,204.5 L117.1,200.6 L117.7,204.5 L118.2,198.1 L118.8,204.5 L119.3,201.8 L119.9,204.5 L120.4,199.7 L121.0,204.5 L121.5,196.6 L122.1,204.5 L122.6,203.9 L123.2,204.5 L123.7,201.1 L124.3,204.5 L124.8,198.0 L125.4,204.5 L125.9,197.1 L126.5,204.5 L127.0,203.3 L127.6,204.5 L128.1,196.9 L128.7,204.5 L129.2,199.5 L129.8,204.5 L130.3,198.2 L130.9,204.5 L131.4,200.6 L132.0,204.5 L132.5,197.2 L133.1,204.5 L133.6,199.1 L134.2,204.5 L134.7,198.3 L135.3,204.5 L135.8,196.5 L136.4,204.5 L136.9,202.2 L137.5,204.5 L138.0,198.5 L138.6,204.5 L139.1,196.2 L139.7,204.5 L140.2,200.5 L140.8,204.5 L141.3,196.3 L141.9,204.5 L142.4,197.6 L143.0,204.5 L143.5,200.3 L144.1,204.5 L144.6,199.1 L145.2,204.5 L145.7,200.2 L146.3,204.5 L146.8,199.2 L147.4,204.5 L147.9,203.4 L148.5,204.5 L149.0,196.8 L149.6,204.5 L150.1,197.0 L150.7,204.5 L151.2,198.3 L151.8,204.5 L152.3,201.5 L152.9,204.5 L153.4,197.3 L154.0,204.5 L154.5,199.8 L155.1,204.5 L155.6,200.5 L156.2,204.5 L156.7,203.2 L157.3,204.5 L157.8,201.7 L158.4,204.5 L158.9,201.9 L159.5,204.5 L160.0,198.5 L160.6,204.5 L161.1,198.3 L161.7,204.5 L161.8,204.5Z" fill="#A3A500"/>
<rect x="161.8" y="204" width="17.0" height="14" fill="#00BF7D"/>
<path d="M161.8,204.5 L161.8,201.5 L162.4,204.5 L162.9,196.6 L163.5,204.5 L164.0,203.5 L164.6,204.5 L165.1,200.5 L165.7,204.5 L166.2,196.9 L166.8,204.5 L167.3,199.0 L167.9,204.5 L168.4,201.7 L169.0,204.5 L169.5,202.0 L170.1,204.5 L170.6,197.4 L171.2,204.5 L171.7,202.2 L172.3,204.5 L172.8,201.7 L173.4,204.5 L173.9,198.8 L174.5,204.5 L175.0,200.5 L175.6,204.5 L176.1,199.9 L176.7,204.5 L177.2,201.1 L177.8,204.5 L178.3,201.4 L178.8,204.5 L178.8,204.5Z" fill="#00BF7D"/>
<rect x="178.8" y="204" width="35.4" height="14" fill="#00B0F6"/>
<path d="M178.8,204.5 L178.8,202.5 L179.4,204.5 L179.9,198.0 L180.5,204.5 L181.0,199.1 L181.6,204.5 L182.1,196.5 L182.7,204.5 L183.2,203.2 L183.8,204.5 L184.3,202.0 L184.9,204.5 L185.4,197.4 L186.0,204.5 L186.5,197.7 L187.1,204.5 L187.6,197.6 L188.2,204.5 L188.7,199.9 L189.3,204.5 L189.8,196.6 L190.4,204.5 L190.9,197.9 L191.5,204.5 L192.0,200.8 L192.6,204.5 L193.1,201.4 L193.7,204.5 L194.2,197.0 L194.8,204.5 L195.3,201.4 L195.9,204.5 L196.4,197.0 L197.0,204.5 L197.5,200.9 L198.1,204.5 L198.6,200.3 L199.2,204.5 L199.7,196.9 L200.3,204.5 L200.8,201.5 L201.4,204.5 L201.9,203.9 L202.5,204.5 L203.0,196.1 L203.6,204.5 L204.1,199.0 L204.7,204.5 L205.2,198.9 L205.8,204.5 L206.3,196.2 L206.9,204.5 L207.4,201.7 L208.0,204.5 L208.5,200.1 L209.1,204.5 L209.6,201.4 L210.2,204.5 L210.7,198.8 L211.3,204.5 L211.8,202.6 L212.4,204.5 L212.9,198.0 L213.5,204.5 L214.0,201.7 L214.2,204.5 L214.2,204.5Z" fill="#00B0F6"/>
<rect x="214.2" y="204" width="49.2" height="14" fill="#E76BF3"/>
<path d="M214.2,204.5 L214.2,203.5 L214.8,204.5 L215.3,201.4 L215.9,204.5 L216.4,202.5 L217.0,204.5 L217.5,201.9 L218.1,204.5 L218.6,202.1 L219.2,204.5 L219.7,196.9 L220.3,204.5 L220.8,203.0 L221.4,204.5 L221.9,197.7 L222.5,204.5 L223.0,196.3 L223.6,204.5 L224.1,203.3 L224.7,204.5 L225.2,203.1 L225.8,204.5 L226.3,198.5 L226.9,204.5 L227.4,197.5 L228.0,204.5 L228.5,199.8 L229.1,204.5 L229.6,197.7 L230.2,204.5 L230.7,200.7 L231.3,204.5 L231.8,201.5 L232.4,204.5 L232.9,197.5 L233.5,204.5 L234.0,197.4 L234.6,204.5 L235.1,199.3 L235.7,204.5 L236.2,199.4 L236.8,204.5 L237.3,198.5 L237.9,204.5 L238.4,201.4 L239.0,204.5 L239.5,201.6 L240.1,204.5 L240.6,198.6 L241.2,204.5 L241.7,201.3 L242.3,204.5 L242.8,196.4 L243.4,204.5 L243.9,198.4 L244.5,204.5 L245.0,198.5 L245.6,204.5 L246.1,196.6 L246.7,204.5 L247.2,197.2 L247.8,204.5 L248.3,196.8 L248.9,204.5 L249.4,203.4 L250.0,204.5 L250.5,203.5 L251.1,204.5 L251.6,198.4 L252.2,204.5 L252.7,199.7 L253.3,204.5 L253.8,203.9 L254.4,204.5 L254.9,203.7 L255.5,204.5 L256.0,202.1 L256.6,204.5 L257.1,200.2 L257.7,204.5 L258.2,200.4 L258.8,204.5 L259.3,199.3 L259.9,204.5 L260.4,197.4 L261.0,204.5 L261.5,199.6 L262.1,204.5 L262.6,197.2 L263.2,204.5 L263.4,204.5Z" fill="#E76BF3"/>
<defs><radialGradient id="cg" cx="0.5" cy="0.5" r="0.5"><stop offset="0" stop-color="#9a9a9a"/><stop offset="0.75" stop-color="#5c5c5c"/><stop offset="1" stop-color="#303030"/></radialGradient><radialGradient id="cgb" cx="0.45" cy="0.45" r="0.5"><stop offset="0" stop-color="#ffffff"/><stop offset="0.5" stop-color="#c0c0c0"/><stop offset="1" stop-color="#606060"/></radialGradient><radialGradient id="cgd" cx="0.5" cy="0.5" r="0.5"><stop offset="0" stop-color="#5a5a5a"/><stop offset="0.8" stop-color="#404040"/><stop offset="1" stop-color="#2a2a2a"/></radialGradient><filter id="bl" x="-30%" y="-30%" width="160%" height="160%"><feGaussianBlur stdDeviation="1.1"/></filter><filter id="bl2" x="-50%" y="-50%" width="200%" height="200%"><feGaussianBlur stdDeviation="2.5"/></filter></defs>
<rect x="41.5" y="247.8" width="209" height="58.0" fill="#FFD3D3"/>
<text x="44.8" y="300.0" font-size="10.5" fill="#222" text-anchor="start" font-weight="normal" dominant-baseline="central" stroke="#222" stroke-width="0.16" >1</text>
<rect x="41.5" y="310.3" width="209" height="57.8" fill="#E8E0B3"/>
<text x="44.8" y="362.5" font-size="10.5" fill="#222" text-anchor="start" font-weight="normal" dominant-baseline="central" stroke="#222" stroke-width="0.16" >2</text>
<rect x="41.5" y="373.2" width="209" height="57.4" fill="#CCE1FB"/>
<text x="44.8" y="425.0" font-size="10.5" fill="#222" text-anchor="start" font-weight="normal" dominant-baseline="central" stroke="#222" stroke-width="0.16" >3</text>
<rect x="41.5" y="433.1" width="209" height="57.5" fill="#B0ECEC"/>
<text x="44.8" y="485.5" font-size="10.5" fill="#222" text-anchor="start" font-weight="normal" dominant-baseline="central" stroke="#222" stroke-width="0.16" >4</text>
<rect x="41.5" y="493.1" width="209" height="57.9" fill="#FFCEF8"/>
<text x="44.8" y="545.0" font-size="10.5" fill="#222" text-anchor="start" font-weight="normal" dominant-baseline="central" stroke="#222" stroke-width="0.16" >5</text>
<text x="248.0" y="253.3" font-size="8" fill="#222" text-anchor="end" font-weight="normal" dominant-baseline="central" stroke="#222" stroke-width="0.12" >Scale = 50µm</text>
<line x1="211.4" y1="259.2" x2="237.4" y2="259.2" stroke="#444" stroke-width="0.7"/>
<clipPath id="cc1"><rect x="89.1" y="264.0" width="20.6" height="22.0"/></clipPath>
<rect x="89.1" y="264.0" width="20.6" height="22.0" fill="#060606"/>
<g clip-path="url(#cc1)">
<circle cx="108.5" cy="267.5" r="3.8" fill="#b0b0b0" filter="url(#bl)"/>
<path d="M94.8,266.9 C95.8,266.0 97.5,265.4 98.8,265.3 C100.2,265.2 102.0,265.7 102.9,266.5 C103.8,267.2 103.7,268.5 104.2,269.7 C104.7,270.9 105.4,272.4 106.2,273.5 C106.9,274.5 108.3,274.8 108.6,275.9 C108.9,277.0 108.6,278.7 107.8,280.0 C107.0,281.2 105.2,282.6 103.7,283.2 C102.2,283.8 100.3,284.0 98.8,283.7 C97.3,283.4 95.8,282.8 94.8,281.6 C93.8,280.4 93.1,278.5 92.8,276.7 C92.5,274.9 92.5,272.6 92.8,271.0 C93.1,269.4 93.8,267.9 94.8,266.9Z" stroke-linejoin="round" fill="url(#cg)" filter="url(#bl)"/>
</g>
<path d="M94.8,266.9 C95.8,266.0 97.5,265.4 98.8,265.3 C100.2,265.2 102.0,265.7 102.9,266.5 C103.8,267.2 103.7,268.5 104.2,269.7 C104.7,270.9 105.4,272.4 106.2,273.5 C106.9,274.5 108.3,274.8 108.6,275.9 C108.9,277.0 108.6,278.7 107.8,280.0 C107.0,281.2 105.2,282.6 103.7,283.2 C102.2,283.8 100.3,284.0 98.8,283.7 C97.3,283.4 95.8,282.8 94.8,281.6 C93.8,280.4 93.1,278.5 92.8,276.7 C92.5,274.9 92.5,272.6 92.8,271.0 C93.1,269.4 93.8,267.9 94.8,266.9Z" stroke-linejoin="round" fill="none" stroke="#D2CC28" stroke-width="0.75"/>
<clipPath id="cc2"><rect x="114.0" y="261.3" width="21.9" height="27.3"/></clipPath>
<rect x="114.0" y="261.3" width="21.9" height="27.3" fill="#060606"/>
<g clip-path="url(#cc2)">

<ellipse cx="125.4" cy="274.8" rx="8.1" ry="7.7" fill="url(#cgb)" filter="url(#bl)"/>
</g>
<ellipse cx="125.4" cy="274.8" rx="8.1" ry="7.7" fill="none" stroke="#D2CC28" stroke-width="0.75"/>
<clipPath id="cc3"><rect x="140.8" y="262.4" width="22.0" height="25.4"/></clipPath>
<rect x="140.8" y="262.4" width="22.0" height="25.4" fill="#060606"/>
<g clip-path="url(#cc3)">

<ellipse cx="152.0" cy="274.8" rx="7.1" ry="7.0" fill="url(#cg)" filter="url(#bl)"/>
</g>
<ellipse cx="152.0" cy="274.8" rx="7.1" ry="7.0" fill="none" stroke="#D2CC28" stroke-width="0.75"/>
<clipPath id="cc4"><rect x="167.7" y="263.2" width="20.1" height="23.8"/></clipPath>
<rect x="167.7" y="263.2" width="20.1" height="23.8" fill="#060606"/>
<g clip-path="url(#cc4)">

<ellipse cx="177.7" cy="274.8" rx="7.5" ry="7.5" fill="url(#cg)" filter="url(#bl)"/>
</g>
<ellipse cx="177.7" cy="274.8" rx="7.5" ry="7.5" fill="none" stroke="#D2CC28" stroke-width="0.75"/>
<clipPath id="cc5"><rect x="192.1" y="266.6" width="16.9" height="17.1"/></clipPath>
<rect x="192.1" y="266.6" width="16.9" height="17.1" fill="#060606"/>
<g clip-path="url(#cc5)">

<ellipse cx="200.8" cy="275.2" rx="5.7" ry="5.7" fill="url(#cg)" filter="url(#bl)"/>
</g>
<ellipse cx="200.8" cy="275.2" rx="5.7" ry="5.7" fill="none" stroke="#D2CC28" stroke-width="0.75"/>
<clipPath id="cc6"><rect x="66.0" y="324.0" width="25.4" height="30.3"/></clipPath>
<rect x="66.0" y="324.0" width="25.4" height="30.3" fill="#060606"/>
<g clip-path="url(#cc6)">

<path d="M77.0,329.9 C77.9,329.3 79.5,328.5 80.8,328.0 C82.0,327.5 83.5,326.9 84.5,327.0 C85.6,327.1 86.4,327.8 87.0,328.6 C87.6,329.4 87.8,330.4 88.0,331.8 C88.3,333.1 88.5,335.3 88.5,336.8 C88.6,338.2 88.4,339.4 88.3,340.5 C88.1,341.7 88.2,343.0 87.7,343.7 C87.1,344.3 86.0,344.3 85.2,344.5 C84.3,344.7 83.4,344.4 82.7,344.9 C81.9,345.4 81.5,346.9 80.8,347.4 C80.0,347.9 79.1,348.2 78.3,348.0 C77.4,347.9 76.6,347.0 75.8,346.5 C74.9,346.1 74.1,345.8 73.3,345.3 C72.5,344.8 71.5,344.3 71.0,343.7 C70.5,343.0 70.1,342.1 70.1,341.2 C70.1,340.2 70.5,339.1 71.0,338.0 C71.5,337.0 72.5,335.9 73.3,334.9 C74.1,333.9 75.1,332.6 75.8,331.8 C76.4,330.9 76.2,330.5 77.0,329.9Z" stroke-linejoin="round" fill="url(#cg)" filter="url(#bl)"/>
</g>
<path d="M77.0,329.9 C77.9,329.3 79.5,328.5 80.8,328.0 C82.0,327.5 83.5,326.9 84.5,327.0 C85.6,327.1 86.4,327.8 87.0,328.6 C87.6,329.4 87.8,330.4 88.0,331.8 C88.3,333.1 88.5,335.3 88.5,336.8 C88.6,338.2 88.4,339.4 88.3,340.5 C88.1,341.7 88.2,343.0 87.7,343.7 C87.1,344.3 86.0,344.3 85.2,344.5 C84.3,344.7 83.4,344.4 82.7,344.9 C81.9,345.4 81.5,346.9 80.8,347.4 C80.0,347.9 79.1,348.2 78.3,348.0 C77.4,347.9 76.6,347.0 75.8,346.5 C74.9,346.1 74.1,345.8 73.3,345.3 C72.5,344.8 71.5,344.3 71.0,343.7 C70.5,343.0 70.1,342.1 70.1,341.2 C70.1,340.2 70.5,339.1 71.0,338.0 C71.5,337.0 72.5,335.9 73.3,334.9 C74.1,333.9 75.1,332.6 75.8,331.8 C76.4,330.9 76.2,330.5 77.0,329.9Z" stroke-linejoin="round" fill="none" stroke="#D2CC28" stroke-width="0.75"/>
<clipPath id="cc7"><rect x="97.0" y="324.9" width="26.1" height="28.8"/></clipPath>
<rect x="97.0" y="324.9" width="26.1" height="28.8" fill="#060606"/>
<g clip-path="url(#cc7)">

<path d="M99.5,331.8 C100.2,330.9 102.7,330.3 104.6,330.3 C106.4,330.3 108.7,330.5 110.8,331.8 C112.9,333.1 115.6,336.0 117.1,338.0 C118.6,340.0 119.6,342.2 119.8,343.7 C120.0,345.1 119.6,346.3 118.3,346.8 C117.0,347.3 114.1,347.5 112.1,346.8 C110.0,346.1 107.5,343.7 105.8,342.4 C104.1,341.2 102.9,340.4 102.1,339.3 C101.2,338.1 101.2,336.8 100.8,335.5 C100.4,334.3 98.9,332.6 99.5,331.8Z" stroke-linejoin="round" fill="url(#cg)" filter="url(#bl)"/>
</g>
<path d="M99.5,331.8 C100.2,330.9 102.7,330.3 104.6,330.3 C106.4,330.3 108.7,330.5 110.8,331.8 C112.9,333.1 115.6,336.0 117.1,338.0 C118.6,340.0 119.6,342.2 119.8,343.7 C120.0,345.1 119.6,346.3 118.3,346.8 C117.0,347.3 114.1,347.5 112.1,346.8 C110.0,346.1 107.5,343.7 105.8,342.4 C104.1,341.2 102.9,340.4 102.1,339.3 C101.2,338.1 101.2,336.8 100.8,335.5 C100.4,334.3 98.9,332.6 99.5,331.8Z" stroke-linejoin="round" fill="none" stroke="#D2CC28" stroke-width="0.75"/>
<clipPath id="cc8"><rect x="128.1" y="326.1" width="25.5" height="26.3"/></clipPath>
<rect x="128.1" y="326.1" width="25.5" height="26.3" fill="#060606"/>
<g clip-path="url(#cc8)">

<path d="M142.1,331.1 C143.0,330.2 144.6,329.1 145.9,328.6 C147.1,328.2 148.6,327.9 149.6,328.3 C150.6,328.6 151.4,329.5 151.9,330.5 C152.3,331.5 152.2,333.0 152.1,334.3 C152.0,335.5 151.6,336.9 151.1,338.0 C150.6,339.2 149.7,340.3 149.0,341.2 C148.3,342.0 147.3,342.3 147.1,343.0 C147.0,343.8 148.4,345.2 148.1,345.8 C147.8,346.4 146.2,346.5 145.2,346.5 C144.2,346.6 143.1,346.4 142.1,346.2 C141.1,346.0 140.0,345.5 139.0,345.3 C137.9,345.1 136.9,345.2 135.8,344.9 C134.8,344.6 133.4,344.3 132.7,343.7 C132.0,343.0 131.5,342.0 131.5,341.2 C131.5,340.3 132.0,339.1 132.7,338.7 C133.4,338.2 134.9,338.5 135.8,338.3 C136.8,338.1 137.6,338.1 138.3,337.4 C139.1,336.7 139.6,335.3 140.2,334.3 C140.8,333.2 141.2,332.1 142.1,331.1Z" stroke-linejoin="round" fill="url(#cg)" filter="url(#bl)"/>
</g>
<path d="M142.1,331.1 C143.0,330.2 144.6,329.1 145.9,328.6 C147.1,328.2 148.6,327.9 149.6,328.3 C150.6,328.6 151.4,329.5 151.9,330.5 C152.3,331.5 152.2,333.0 152.1,334.3 C152.0,335.5 151.6,336.9 151.1,338.0 C150.6,339.2 149.7,340.3 149.0,341.2 C148.3,342.0 147.3,342.3 147.1,343.0 C147.0,343.8 148.4,345.2 148.1,345.8 C147.8,346.4 146.2,346.5 145.2,346.5 C144.2,346.6 143.1,346.4 142.1,346.2 C141.1,346.0 140.0,345.5 139.0,345.3 C137.9,345.1 136.9,345.2 135.8,344.9 C134.8,344.6 133.4,344.3 132.7,343.7 C132.0,343.0 131.5,342.0 131.5,341.2 C131.5,340.3 132.0,339.1 132.7,338.7 C133.4,338.2 134.9,338.5 135.8,338.3 C136.8,338.1 137.6,338.1 138.3,337.4 C139.1,336.7 139.6,335.3 140.2,334.3 C140.8,333.2 141.2,332.1 142.1,331.1Z" stroke-linejoin="round" fill="none" stroke="#D2CC28" stroke-width="0.75"/>
<clipPath id="cc9"><rect x="159.2" y="321.9" width="28.7" height="34.6"/></clipPath>
<rect x="159.2" y="321.9" width="28.7" height="34.6" fill="#060606"/>
<g clip-path="url(#cc9)">

<path d="M168.1,326.5 C168.6,326.4 169.5,326.3 170.0,326.9 C170.6,327.5 170.2,329.2 171.4,330.2 C172.7,331.2 175.3,332.0 177.5,333.0 C179.7,334.0 183.6,335.3 184.6,336.3 C185.5,337.3 183.7,338.0 183.2,339.1 C182.6,340.3 181.7,341.9 181.3,343.4 C180.9,344.8 180.7,346.8 180.8,348.0 C181.0,349.3 182.5,350.2 182.2,350.9 C182.0,351.5 180.4,351.5 179.4,351.8 C178.5,352.1 177.5,353.1 176.6,352.7 C175.7,352.4 174.4,350.9 173.8,349.9 C173.2,349.0 173.9,348.7 172.8,347.1 C171.7,345.5 168.7,342.5 167.2,340.5 C165.7,338.6 163.9,336.8 163.9,335.4 C163.9,334.0 166.7,333.4 167.2,332.1 C167.8,330.8 167.1,328.3 167.2,327.4 C167.4,326.5 167.7,326.5 168.1,326.5Z" stroke-linejoin="round" fill="url(#cg)" filter="url(#bl)"/>
</g>
<path d="M168.1,326.5 C168.6,326.4 169.5,326.3 170.0,326.9 C170.6,327.5 170.2,329.2 171.4,330.2 C172.7,331.2 175.3,332.0 177.5,333.0 C179.7,334.0 183.6,335.3 184.6,336.3 C185.5,337.3 183.7,338.0 183.2,339.1 C182.6,340.3 181.7,341.9 181.3,343.4 C180.9,344.8 180.7,346.8 180.8,348.0 C181.0,349.3 182.5,350.2 182.2,350.9 C182.0,351.5 180.4,351.5 179.4,351.8 C178.5,352.1 177.5,353.1 176.6,352.7 C175.7,352.4 174.4,350.9 173.8,349.9 C173.2,349.0 173.9,348.7 172.8,347.1 C171.7,345.5 168.7,342.5 167.2,340.5 C165.7,338.6 163.9,336.8 163.9,335.4 C163.9,334.0 166.7,333.4 167.2,332.1 C167.8,330.8 167.1,328.3 167.2,327.4 C167.4,326.5 167.7,326.5 168.1,326.5Z" stroke-linejoin="round" fill="none" stroke="#D2CC28" stroke-width="0.75"/>
<clipPath id="cc10"><rect x="193.7" y="331.1" width="31.3" height="18.6"/></clipPath>
<rect x="193.7" y="331.1" width="31.3" height="18.6" fill="#060606"/>
<g clip-path="url(#cc10)">
<ellipse cx="209" cy="349" rx="9" ry="5" fill="#808080" filter="url(#bl2)"/>
<path d="M195.4,338.2 C195.6,337.2 196.6,336.0 198.2,335.4 C199.8,334.7 202.6,334.1 204.8,334.2 C207.0,334.2 209.5,335.0 211.3,335.8 C213.2,336.7 214.4,338.3 216.0,339.1 C217.7,339.9 219.9,339.8 221.2,340.5 C222.4,341.3 223.5,343.0 223.5,343.8 C223.6,344.7 222.4,345.6 221.7,345.7 C220.9,345.8 220.3,344.8 218.8,344.3 C217.4,343.8 215.4,342.8 213.2,342.6 C211.0,342.4 207.9,343.1 205.7,343.4 C203.5,343.6 201.6,344.1 200.1,343.8 C198.6,343.5 197.6,342.4 196.8,341.5 C196.0,340.5 195.1,339.2 195.4,338.2Z" stroke-linejoin="round" fill="url(#cg)" filter="url(#bl)"/>
</g>
<path d="M195.4,338.2 C195.6,337.2 196.6,336.0 198.2,335.4 C199.8,334.7 202.6,334.1 204.8,334.2 C207.0,334.2 209.5,335.0 211.3,335.8 C213.2,336.7 214.4,338.3 216.0,339.1 C217.7,339.9 219.9,339.8 221.2,340.5 C222.4,341.3 223.5,343.0 223.5,343.8 C223.6,344.7 222.4,345.6 221.7,345.7 C220.9,345.8 220.3,344.8 218.8,344.3 C217.4,343.8 215.4,342.8 213.2,342.6 C211.0,342.4 207.9,343.1 205.7,343.4 C203.5,343.6 201.6,344.1 200.1,343.8 C198.6,343.5 197.6,342.4 196.8,341.5 C196.0,340.5 195.1,339.2 195.4,338.2Z" stroke-linejoin="round" fill="none" stroke="#D2CC28" stroke-width="0.75"/>
<clipPath id="cc11"><rect x="55.1" y="376.8" width="28.8" height="46.3"/></clipPath>
<rect x="55.1" y="376.8" width="28.8" height="46.3" fill="#060606"/>
<g clip-path="url(#cc11)">

<path d="M68.3,383.4 C69.1,381.6 72.2,379.8 73.9,379.6 C75.6,379.4 77.4,381.2 78.3,382.1 C79.1,383.1 78.4,384.6 78.9,385.3 C79.4,385.9 81.2,385.1 81.4,385.9 C81.6,386.7 80.4,388.5 80.2,390.3 C80.0,392.0 80.4,393.6 80.2,396.5 C80.0,399.4 79.6,404.9 78.9,407.8 C78.2,410.7 77.1,412.4 75.8,414.1 C74.4,415.7 72.4,417.2 70.8,417.8 C69.1,418.4 67.6,418.6 65.8,417.8 C63.9,417.0 60.9,414.3 59.5,412.8 C58.2,411.3 57.4,410.7 57.6,409.0 C57.8,407.4 59.4,405.1 60.8,402.8 C62.1,400.5 64.4,397.4 65.8,395.3 C67.1,393.2 68.5,392.3 68.9,390.3 C69.3,388.3 67.4,385.2 68.3,383.4Z" stroke-linejoin="round" fill="url(#cgd)" filter="url(#bl)"/>
</g>
<path d="M68.3,383.4 C69.1,381.6 72.2,379.8 73.9,379.6 C75.6,379.4 77.4,381.2 78.3,382.1 C79.1,383.1 78.4,384.6 78.9,385.3 C79.4,385.9 81.2,385.1 81.4,385.9 C81.6,386.7 80.4,388.5 80.2,390.3 C80.0,392.0 80.4,393.6 80.2,396.5 C80.0,399.4 79.6,404.9 78.9,407.8 C78.2,410.7 77.1,412.4 75.8,414.1 C74.4,415.7 72.4,417.2 70.8,417.8 C69.1,418.4 67.6,418.6 65.8,417.8 C63.9,417.0 60.9,414.3 59.5,412.8 C58.2,411.3 57.4,410.7 57.6,409.0 C57.8,407.4 59.4,405.1 60.8,402.8 C62.1,400.5 64.4,397.4 65.8,395.3 C67.1,393.2 68.5,392.3 68.9,390.3 C69.3,388.3 67.4,385.2 68.3,383.4Z" stroke-linejoin="round" fill="none" stroke="#D2CC28" stroke-width="0.75"/>
<clipPath id="cc12"><rect x="87.7" y="384.0" width="29.1" height="35.7"/></clipPath>
<rect x="87.7" y="384.0" width="29.1" height="35.7" fill="#060606"/>
<g clip-path="url(#cc12)">

<path d="M93.3,388.4 C94.4,387.3 96.6,386.3 98.3,386.3 C100.0,386.3 101.9,387.1 103.3,388.4 C104.8,389.7 105.5,392.0 107.1,394.0 C108.6,396.0 111.6,398.2 112.7,400.3 C113.8,402.4 113.7,404.2 114.0,406.5 C114.2,408.8 114.7,412.3 114.0,414.1 C113.2,415.8 111.1,417.1 109.6,417.2 C108.0,417.3 106.7,416.7 104.6,414.7 C102.5,412.7 98.9,407.7 97.1,405.3 C95.2,402.9 94.2,402.4 93.3,400.3 C92.4,398.2 91.8,394.8 91.8,392.8 C91.8,390.8 92.2,389.5 93.3,388.4Z" stroke-linejoin="round" fill="url(#cgd)" filter="url(#bl)"/>
</g>
<path d="M93.3,388.4 C94.4,387.3 96.6,386.3 98.3,386.3 C100.0,386.3 101.9,387.1 103.3,388.4 C104.8,389.7 105.5,392.0 107.1,394.0 C108.6,396.0 111.6,398.2 112.7,400.3 C113.8,402.4 113.7,404.2 114.0,406.5 C114.2,408.8 114.7,412.3 114.0,414.1 C113.2,415.8 111.1,417.1 109.6,417.2 C108.0,417.3 106.7,416.7 104.6,414.7 C102.5,412.7 98.9,407.7 97.1,405.3 C95.2,402.9 94.2,402.4 93.3,400.3 C92.4,398.2 91.8,394.8 91.8,392.8 C91.8,390.8 92.2,389.5 93.3,388.4Z" stroke-linejoin="round" fill="none" stroke="#D2CC28" stroke-width="0.75"/>
<clipPath id="cc13"><rect x="122.1" y="383.8" width="26.9" height="35.9"/></clipPath>
<rect x="122.1" y="383.8" width="26.9" height="35.9" fill="#060606"/>
<g clip-path="url(#cc13)">

<path d="M128.3,392.8 C129.9,391.5 131.5,390.1 134.6,389.0 C137.7,388.0 144.9,386.5 147.1,386.5 C149.3,386.5 148.2,387.8 147.7,389.0 C147.3,390.3 145.6,391.7 144.6,394.0 C143.7,396.3 142.6,400.1 142.1,402.8 C141.6,405.5 142.1,408.4 141.5,410.3 C140.9,412.2 139.7,412.9 138.4,414.1 C137.0,415.2 135.0,416.9 133.4,417.2 C131.7,417.5 129.8,417.1 128.3,415.9 C126.9,414.8 125.4,412.5 124.6,410.3 C123.8,408.1 123.2,405.1 123.3,402.8 C123.4,400.5 124.4,398.2 125.2,396.5 C126.1,394.9 126.8,394.0 128.3,392.8Z" stroke-linejoin="round" fill="url(#cgd)" filter="url(#bl)"/>
</g>
<path d="M128.3,392.8 C129.9,391.5 131.5,390.1 134.6,389.0 C137.7,388.0 144.9,386.5 147.1,386.5 C149.3,386.5 148.2,387.8 147.7,389.0 C147.3,390.3 145.6,391.7 144.6,394.0 C143.7,396.3 142.6,400.1 142.1,402.8 C141.6,405.5 142.1,408.4 141.5,410.3 C140.9,412.2 139.7,412.9 138.4,414.1 C137.0,415.2 135.0,416.9 133.4,417.2 C131.7,417.5 129.8,417.1 128.3,415.9 C126.9,414.8 125.4,412.5 124.6,410.3 C123.8,408.1 123.2,405.1 123.3,402.8 C123.4,400.5 124.4,398.2 125.2,396.5 C126.1,394.9 126.8,394.0 128.3,392.8Z" stroke-linejoin="round" fill="none" stroke="#D2CC28" stroke-width="0.75"/>
<clipPath id="cc14"><rect x="155.0" y="381.7" width="39.6" height="40.1"/></clipPath>
<rect x="155.0" y="381.7" width="39.6" height="40.1" fill="#060606"/>
<g clip-path="url(#cc14)">
<ellipse cx="185" cy="417" rx="12" ry="8" fill="#5a5a5a" filter="url(#bl2)"/>
<path d="M172.6,387.3 C173.9,386.0 172.6,385.2 175.6,386.1 C178.5,387.0 187.8,391.2 190.4,392.6 C193.1,394.1 191.9,393.6 191.6,395.0 C191.3,396.4 189.8,399.0 188.6,401.0 C187.5,403.0 187.0,404.9 184.5,406.9 C182.0,408.9 177.0,411.0 173.8,412.9 C170.6,414.7 167.4,417.7 165.5,418.2 C163.5,418.7 162.9,417.7 161.9,415.8 C160.9,414.0 160.0,409.3 159.5,406.9 C159.0,404.5 158.5,403.0 158.9,401.6 C159.3,400.2 160.4,399.9 161.9,398.6 C163.4,397.3 166.1,395.7 167.8,393.8 C169.6,392.0 171.3,388.6 172.6,387.3Z" stroke-linejoin="round" fill="url(#cgd)" filter="url(#bl)"/>
</g>
<path d="M172.6,387.3 C173.9,386.0 172.6,385.2 175.6,386.1 C178.5,387.0 187.8,391.2 190.4,392.6 C193.1,394.1 191.9,393.6 191.6,395.0 C191.3,396.4 189.8,399.0 188.6,401.0 C187.5,403.0 187.0,404.9 184.5,406.9 C182.0,408.9 177.0,411.0 173.8,412.9 C170.6,414.7 167.4,417.7 165.5,418.2 C163.5,418.7 162.9,417.7 161.9,415.8 C160.9,414.0 160.0,409.3 159.5,406.9 C159.0,404.5 158.5,403.0 158.9,401.6 C159.3,400.2 160.4,399.9 161.9,398.6 C163.4,397.3 166.1,395.7 167.8,393.8 C169.6,392.0 171.3,388.6 172.6,387.3Z" stroke-linejoin="round" fill="none" stroke="#D2CC28" stroke-width="0.75"/>
<clipPath id="cc15"><rect x="200.5" y="384.9" width="38.4" height="33.7"/></clipPath>
<rect x="200.5" y="384.9" width="38.4" height="33.7" fill="#060606"/>
<g clip-path="url(#cc15)">

<path d="M208.3,391.5 C209.9,390.3 213.2,391.8 216.6,391.5 C220.0,391.1 225.6,388.9 228.5,389.3 C231.4,389.7 233.8,392.1 233.8,393.8 C233.8,395.6 230.2,398.0 228.5,399.8 C226.8,401.6 224.9,402.7 223.7,404.5 C222.5,406.4 222.7,409.8 221.3,411.1 C220.0,412.4 216.8,412.7 215.4,412.3 C214.0,411.9 214.4,409.6 213.0,408.7 C211.6,407.8 208.5,407.8 207.1,406.9 C205.6,406.0 204.6,404.7 204.5,403.3 C204.4,402.0 205.8,400.6 206.5,398.6 C207.1,396.6 206.6,392.6 208.3,391.5Z" stroke-linejoin="round" fill="url(#cgd)" filter="url(#bl)"/>
</g>
<path d="M208.3,391.5 C209.9,390.3 213.2,391.8 216.6,391.5 C220.0,391.1 225.6,388.9 228.5,389.3 C231.4,389.7 233.8,392.1 233.8,393.8 C233.8,395.6 230.2,398.0 228.5,399.8 C226.8,401.6 224.9,402.7 223.7,404.5 C222.5,406.4 222.7,409.8 221.3,411.1 C220.0,412.4 216.8,412.7 215.4,412.3 C214.0,411.9 214.4,409.6 213.0,408.7 C211.6,407.8 208.5,407.8 207.1,406.9 C205.6,406.0 204.6,404.7 204.5,403.3 C204.4,402.0 205.8,400.6 206.5,398.6 C207.1,396.6 206.6,392.6 208.3,391.5Z" stroke-linejoin="round" fill="none" stroke="#D2CC28" stroke-width="0.75"/>
<clipPath id="cc16"><rect x="82.2" y="456.1" width="16.1" height="16.1"/></clipPath>
<rect x="82.2" y="456.1" width="16.1" height="16.1" fill="#060606"/>
<g clip-path="url(#cc16)">
<ellipse cx="93" cy="456" rx="6" ry="3" fill="#777" filter="url(#bl)"/>
<path d="M91.2,459.6 C92.6,459.6 94.6,461.2 95.2,462.5 C95.8,463.8 96.1,466.5 94.9,467.3 C93.7,468.1 89.1,468.3 87.8,467.5 C86.5,466.7 86.4,463.8 87.0,462.5 C87.6,461.2 89.8,459.6 91.2,459.6Z" stroke-linejoin="round" fill="url(#cg)" filter="url(#bl)"/>
</g>
<path d="M91.2,459.6 C92.6,459.6 94.6,461.2 95.2,462.5 C95.8,463.8 96.1,466.5 94.9,467.3 C93.7,468.1 89.1,468.3 87.8,467.5 C86.5,466.7 86.4,463.8 87.0,462.5 C87.6,461.2 89.8,459.6 91.2,459.6Z" stroke-linejoin="round" fill="none" stroke="#D2CC28" stroke-width="0.75"/>
<clipPath id="cc17"><rect x="106.2" y="451.1" width="19.6" height="21.4"/></clipPath>
<rect x="106.2" y="451.1" width="19.6" height="21.4" fill="#060606"/>
<g clip-path="url(#cc17)">

<path d="M116.0,455.0 C117.5,455.0 119.8,456.0 121.0,457.0 C122.2,458.0 122.9,459.5 123.0,461.0 C123.1,462.5 122.5,464.6 121.5,466.0 C120.5,467.4 118.8,469.2 117.0,469.5 C115.2,469.8 112.2,469.2 111.0,468.0 C109.8,466.8 109.8,463.8 110.0,462.0 C110.2,460.2 111.0,458.2 112.0,457.0 C113.0,455.8 114.5,455.0 116.0,455.0Z" stroke-linejoin="round" fill="url(#cg)" filter="url(#bl)"/>
</g>
<path d="M116.0,455.0 C117.5,455.0 119.8,456.0 121.0,457.0 C122.2,458.0 122.9,459.5 123.0,461.0 C123.1,462.5 122.5,464.6 121.5,466.0 C120.5,467.4 118.8,469.2 117.0,469.5 C115.2,469.8 112.2,469.2 111.0,468.0 C109.8,466.8 109.8,463.8 110.0,462.0 C110.2,460.2 111.0,458.2 112.0,457.0 C113.0,455.8 114.5,455.0 116.0,455.0Z" stroke-linejoin="round" fill="none" stroke="#D2CC28" stroke-width="0.75"/>
<clipPath id="cc18"><rect x="134.9" y="455.8" width="14.1" height="13.9"/></clipPath>
<rect x="134.9" y="455.8" width="14.1" height="13.9" fill="#060606"/>
<g clip-path="url(#cc18)">
<ellipse cx="140" cy="455.5" rx="6" ry="3" fill="#888" filter="url(#bl)"/>
<ellipse cx="142.2" cy="462.6" rx="4.0" ry="3.3" fill="url(#cg)" filter="url(#bl)"/>
</g>
<ellipse cx="142.2" cy="462.6" rx="4.0" ry="3.3" fill="none" stroke="#D2CC28" stroke-width="0.75"/>
<clipPath id="cc19"><rect x="156.9" y="450.2" width="24.7" height="22.8"/></clipPath>
<rect x="156.9" y="450.2" width="24.7" height="22.8" fill="#060606"/>
<g clip-path="url(#cc19)">
<ellipse cx="173.5" cy="452" rx="4.5" ry="4" fill="#e8e8e8" filter="url(#bl)"/>
<path d="M160.8,460.4 C161.7,459.6 164.4,458.9 165.9,458.2 C167.3,457.4 168.1,455.9 169.2,455.8 C170.4,455.7 171.2,457.2 172.6,457.8 C174.0,458.4 176.9,458.7 177.7,459.5 C178.5,460.4 177.8,462.0 177.3,462.9 C176.9,463.8 175.8,464.2 175.1,464.9 C174.5,465.6 175.0,466.8 173.5,467.1 C171.9,467.5 167.5,467.6 165.9,467.1 C164.2,466.6 164.2,465.0 163.3,464.2 C162.4,463.5 160.9,463.5 160.4,462.9 C160.0,462.2 159.9,461.1 160.8,460.4Z" stroke-linejoin="round" fill="url(#cgb)" filter="url(#bl)"/>
</g>
<path d="M160.8,460.4 C161.7,459.6 164.4,458.9 165.9,458.2 C167.3,457.4 168.1,455.9 169.2,455.8 C170.4,455.7 171.2,457.2 172.6,457.8 C174.0,458.4 176.9,458.7 177.7,459.5 C178.5,460.4 177.8,462.0 177.3,462.9 C176.9,463.8 175.8,464.2 175.1,464.9 C174.5,465.6 175.0,466.8 173.5,467.1 C171.9,467.5 167.5,467.6 165.9,467.1 C164.2,466.6 164.2,465.0 163.3,464.2 C162.4,463.5 160.9,463.5 160.4,462.9 C160.0,462.2 159.9,461.1 160.8,460.4Z" stroke-linejoin="round" fill="none" stroke="#D2CC28" stroke-width="0.75"/>
<clipPath id="cc20"><rect x="189.2" y="453.1" width="19.4" height="17.7"/></clipPath>
<rect x="189.2" y="453.1" width="19.4" height="17.7" fill="#060606"/>
<g clip-path="url(#cc20)">

<ellipse cx="199.6" cy="461.8" rx="5.0" ry="4.8" fill="url(#cg)" filter="url(#bl)"/>
</g>
<ellipse cx="199.6" cy="461.8" rx="5.0" ry="4.8" fill="none" stroke="#D2CC28" stroke-width="0.75"/>
<clipPath id="cc21"><rect x="46.6" y="501.6" width="33.9" height="37.0"/></clipPath>
<rect x="46.6" y="501.6" width="33.9" height="37.0" fill="#060606"/>
<g clip-path="url(#cc21)">

<path d="M67.0,504.9 C68.9,505.0 72.9,505.2 74.6,506.7 C76.3,508.2 77.0,511.0 77.2,513.9 C77.4,516.8 77.2,521.5 75.9,524.1 C74.6,526.6 72.3,527.9 69.5,529.2 C66.8,530.5 62.5,531.7 59.3,531.7 C56.1,531.7 52.1,530.9 50.4,529.2 C48.7,527.5 48.5,524.1 49.1,521.5 C49.7,519.0 51.9,516.4 54.2,513.9 C56.6,511.3 61.0,507.7 63.1,506.2 C65.3,504.7 65.1,504.9 67.0,504.9Z" stroke-linejoin="round" fill="url(#cgd)" filter="url(#bl)"/>
</g>
<path d="M67.0,504.9 C68.9,505.0 72.9,505.2 74.6,506.7 C76.3,508.2 77.0,511.0 77.2,513.9 C77.4,516.8 77.2,521.5 75.9,524.1 C74.6,526.6 72.3,527.9 69.5,529.2 C66.8,530.5 62.5,531.7 59.3,531.7 C56.1,531.7 52.1,530.9 50.4,529.2 C48.7,527.5 48.5,524.1 49.1,521.5 C49.7,519.0 51.9,516.4 54.2,513.9 C56.6,511.3 61.0,507.7 63.1,506.2 C65.3,504.7 65.1,504.9 67.0,504.9Z" stroke-linejoin="round" fill="none" stroke="#D2CC28" stroke-width="0.75"/>
<clipPath id="cc22"><rect x="84.1" y="498.6" width="40.3" height="44.6"/></clipPath>
<rect x="84.1" y="498.6" width="40.3" height="44.6" fill="#060606"/>
<g clip-path="url(#cc22)">

<ellipse cx="104.8" cy="520.3" rx="13.7" ry="15.7" fill="url(#cgd)" filter="url(#bl)"/>
</g>
<ellipse cx="104.8" cy="520.3" rx="13.7" ry="15.7" fill="none" stroke="#D2CC28" stroke-width="0.75"/>
<clipPath id="cc23"><rect x="129.0" y="500.6" width="35.0" height="39.3"/></clipPath>
<rect x="129.0" y="500.6" width="35.0" height="39.3" fill="#060606"/>
<g clip-path="url(#cc23)">

<ellipse cx="147.4" cy="520.3" rx="14.0" ry="15.3" fill="url(#cgd)" filter="url(#bl)"/>
</g>
<ellipse cx="147.4" cy="520.3" rx="14.0" ry="15.3" fill="none" stroke="#D2CC28" stroke-width="0.75"/>
<clipPath id="cc24"><rect x="169.1" y="501.6" width="34.5" height="36.5"/></clipPath>
<rect x="169.1" y="501.6" width="34.5" height="36.5" fill="#060606"/>
<g clip-path="url(#cc24)">

<path d="M181.9,504.9 C185.3,504.2 194.0,505.7 197.2,506.7 C200.4,507.8 201.0,509.1 201.0,511.3 C201.0,513.6 199.5,517.1 197.2,520.3 C194.8,523.4 189.9,528.1 187.0,530.5 C184.0,532.8 181.9,534.1 179.3,534.3 C176.8,534.5 172.7,533.9 171.6,531.7 C170.6,529.6 172.1,524.9 172.9,521.5 C173.8,518.1 175.3,514.1 176.8,511.3 C178.2,508.6 178.5,505.7 181.9,504.9Z" stroke-linejoin="round" fill="url(#cgd)" filter="url(#bl)"/>
</g>
<path d="M181.9,504.9 C185.3,504.2 194.0,505.7 197.2,506.7 C200.4,507.8 201.0,509.1 201.0,511.3 C201.0,513.6 199.5,517.1 197.2,520.3 C194.8,523.4 189.9,528.1 187.0,530.5 C184.0,532.8 181.9,534.1 179.3,534.3 C176.8,534.5 172.7,533.9 171.6,531.7 C170.6,529.6 172.1,524.9 172.9,521.5 C173.8,518.1 175.3,514.1 176.8,511.3 C178.2,508.6 178.5,505.7 181.9,504.9Z" stroke-linejoin="round" fill="none" stroke="#D2CC28" stroke-width="0.75"/>
<clipPath id="cc25"><rect x="207.9" y="499.8" width="36.5" height="40.1"/></clipPath>
<rect x="207.9" y="499.8" width="36.5" height="40.1" fill="#060606"/>
<g clip-path="url(#cc25)">

<path d="M227.8,505.7 C230.2,505.7 231.9,510.2 234.2,511.3 C236.5,512.5 241.2,510.9 241.9,512.6 C242.5,514.3 239.3,518.6 238.0,521.5 C236.7,524.5 236.7,528.8 234.2,530.5 C231.6,532.2 226.1,532.4 222.7,531.7 C219.3,531.1 215.5,529.0 213.8,526.6 C212.1,524.3 211.4,520.3 212.5,517.7 C213.6,515.1 217.6,513.3 220.2,511.3 C222.7,509.3 225.5,505.7 227.8,505.7Z" stroke-linejoin="round" fill="url(#cgd)" filter="url(#bl)"/>
</g>
<path d="M227.8,505.7 C230.2,505.7 231.9,510.2 234.2,511.3 C236.5,512.5 241.2,510.9 241.9,512.6 C242.5,514.3 239.3,518.6 238.0,521.5 C236.7,524.5 236.7,528.8 234.2,530.5 C231.6,532.2 226.1,532.4 222.7,531.7 C219.3,531.1 215.5,529.0 213.8,526.6 C212.1,524.3 211.4,520.3 212.5,517.7 C213.6,515.1 217.6,513.3 220.2,511.3 C222.7,509.3 225.5,505.7 227.8,505.7Z" stroke-linejoin="round" fill="none" stroke="#D2CC28" stroke-width="0.75"/>
<rect x="323.5" y="20.3" width="228.8" height="190.7" fill="none" stroke="#808080" stroke-width="1"/>
<line x1="319.5" y1="204.3" x2="323.5" y2="204.3" stroke="#808080" stroke-width="0.9"/>
<text x="313.2" y="204.3" font-size="7.2" fill="#444" text-anchor="middle" font-weight="normal" dominant-baseline="central" transform="rotate(-90 313.2 204.3)" >0.0000</text>
<line x1="319.5" y1="179.0" x2="323.5" y2="179.0" stroke="#808080" stroke-width="0.9"/>
<line x1="319.5" y1="153.8" x2="323.5" y2="153.8" stroke="#808080" stroke-width="0.9"/>
<text x="313.2" y="153.8" font-size="7.2" fill="#444" text-anchor="middle" font-weight="normal" dominant-baseline="central" transform="rotate(-90 313.2 153.8)" >0.0004</text>
<line x1="319.5" y1="128.5" x2="323.5" y2="128.5" stroke="#808080" stroke-width="0.9"/>
<line x1="319.5" y1="103.2" x2="323.5" y2="103.2" stroke="#808080" stroke-width="0.9"/>
<text x="313.2" y="103.2" font-size="7.2" fill="#444" text-anchor="middle" font-weight="normal" dominant-baseline="central" transform="rotate(-90 313.2 103.2)" >0.0008</text>
<line x1="319.5" y1="78.0" x2="323.5" y2="78.0" stroke="#808080" stroke-width="0.9"/>
<line x1="319.5" y1="52.7" x2="323.5" y2="52.7" stroke="#808080" stroke-width="0.9"/>
<text x="313.2" y="52.7" font-size="7.2" fill="#444" text-anchor="middle" font-weight="normal" dominant-baseline="central" transform="rotate(-90 313.2 52.7)" >0.0012</text>
<line x1="319.5" y1="27.4" x2="323.5" y2="27.4" stroke="#808080" stroke-width="0.9"/>
<line x1="332.2" y1="211.0" x2="332.2" y2="215.0" stroke="#808080" stroke-width="0.9"/>
<text x="332.2" y="221.5" font-size="7.2" fill="#444" text-anchor="middle" font-weight="normal" dominant-baseline="central" >0</text>
<line x1="362.5" y1="211.0" x2="362.5" y2="215.0" stroke="#808080" stroke-width="0.9"/>
<text x="362.5" y="221.5" font-size="7.2" fill="#444" text-anchor="middle" font-weight="normal" dominant-baseline="central" >500</text>
<line x1="392.8" y1="211.0" x2="392.8" y2="215.0" stroke="#808080" stroke-width="0.9"/>
<text x="392.8" y="221.5" font-size="7.2" fill="#444" text-anchor="middle" font-weight="normal" dominant-baseline="central" >1000</text>
<line x1="423.1" y1="211.0" x2="423.1" y2="215.0" stroke="#808080" stroke-width="0.9"/>
<text x="423.1" y="221.5" font-size="7.2" fill="#444" text-anchor="middle" font-weight="normal" dominant-baseline="central" >1500</text>
<line x1="453.4" y1="211.0" x2="453.4" y2="215.0" stroke="#808080" stroke-width="0.9"/>
<text x="453.4" y="221.5" font-size="7.2" fill="#444" text-anchor="middle" font-weight="normal" dominant-baseline="central" >2000</text>
<line x1="483.7" y1="211.0" x2="483.7" y2="215.0" stroke="#808080" stroke-width="0.9"/>
<text x="483.7" y="221.5" font-size="7.2" fill="#444" text-anchor="middle" font-weight="normal" dominant-baseline="central" >2500</text>
<line x1="514.0" y1="211.0" x2="514.0" y2="215.0" stroke="#808080" stroke-width="0.9"/>
<text x="514.0" y="221.5" font-size="7.2" fill="#444" text-anchor="middle" font-weight="normal" dominant-baseline="central" >3000</text>
<line x1="544.3" y1="211.0" x2="544.3" y2="215.0" stroke="#808080" stroke-width="0.9"/>
<text x="544.3" y="221.5" font-size="7.2" fill="#444" text-anchor="middle" font-weight="normal" dominant-baseline="central" >3500</text>
<text x="298.8" y="115.5" font-size="7.8" fill="#222" text-anchor="middle" font-weight="normal" dominant-baseline="central" transform="rotate(-90 298.8 115.5)" stroke="#222" stroke-width="0.12" >Density</text>
<text x="437.7" y="235.3" font-size="7.5" fill="#222" text-anchor="middle" font-weight="normal" dominant-baseline="central" stroke="#222" stroke-width="0.11" >Mean volume (µm³)</text>
<path d="M362.4,203.4 C363.6,202.4 366.8,200.5 369.4,197.3 C372.0,194.1 375.9,190.4 378.1,184.2 C380.3,178.0 380.9,172.7 382.7,160.0 C384.5,147.3 386.4,124.7 389.0,108.0 C391.6,91.3 396.0,70.1 398.4,59.8 C400.8,49.5 401.8,49.1 403.5,46.0 C405.2,42.9 407.1,41.2 408.8,41.2 C410.6,41.2 411.9,40.9 414.0,46.0 C416.1,51.1 419.4,61.6 421.7,71.9 C424.0,82.2 424.8,93.3 427.8,108.0 C430.8,122.7 435.6,147.3 439.9,160.0 C444.1,172.7 449.3,178.6 453.3,184.2 C457.3,189.8 459.1,191.2 463.8,193.8 C468.5,196.4 475.5,198.1 481.3,199.6 C487.1,201.1 490.8,201.9 498.9,202.6 C507.0,203.3 521.1,203.7 530.0,204.0 C538.9,204.3 548.6,204.2 552.3,204.3" fill="none" stroke="#BDBDBD" stroke-width="1" stroke-dasharray="3,2.5"/>
<path d="M343.1,204.3 C347.2,204.2 360.6,203.9 367.6,203.4 C374.6,202.9 380.7,202.3 385.1,201.3 C389.5,200.3 390.7,200.0 393.9,197.3 C397.1,194.6 401.2,190.0 404.4,185.0 C407.6,180.0 410.9,171.8 413.2,167.5 C415.5,163.2 414.9,164.2 418.1,159.0 C421.3,153.8 428.1,141.7 432.6,136.3 C437.1,130.9 440.1,128.0 445.3,126.8 C450.5,125.6 457.1,127.5 463.6,129.3 C470.1,131.1 477.5,132.8 484.5,137.7 C491.5,142.6 499.1,152.3 505.4,158.6 C511.6,164.9 516.4,170.8 522.0,175.3 C527.6,179.8 533.8,182.5 538.8,185.7 C543.8,188.9 550.0,193.1 552.3,194.6" fill="none" stroke="#F04CF0" stroke-width="1.0"/>
<path d="M323.5,204.3 C326.2,204.0 335.2,203.6 339.6,202.6 C344.0,201.6 346.0,201.1 350.1,198.2 C354.2,195.3 359.4,189.2 364.1,185.0 C368.8,180.8 373.4,176.5 378.1,172.8 C382.8,169.2 386.7,168.6 392.1,163.1 C397.6,157.6 405.9,146.2 410.8,139.9 C415.7,133.6 418.1,128.5 421.7,125.4 C425.3,122.3 429.3,121.7 432.6,121.4 C435.9,121.1 438.1,121.6 441.7,123.5 C445.3,125.4 449.8,129.0 454.4,132.6 C458.9,136.2 465.1,140.5 469.0,145.3 C472.9,150.2 474.2,155.3 478.1,161.7 C482.0,168.1 488.1,177.8 492.6,183.5 C497.2,189.2 501.1,193.8 505.4,196.2 C509.6,198.6 510.3,197.0 518.1,198.2 C525.9,199.3 546.6,202.3 552.3,203.1" fill="none" stroke="#82A6F0" stroke-width="1.0"/>
<path d="M323.5,204.3 C326.8,204.3 338.1,204.6 343.1,204.3 C348.1,204.0 349.8,204.7 353.6,202.6 C357.4,200.5 362.4,196.7 365.9,192.0 C369.4,187.3 372.1,179.8 374.6,174.5 C377.1,169.2 377.9,165.6 380.9,160.0 C383.9,154.4 389.2,148.6 392.7,141.0 C396.2,133.4 399.6,122.5 401.8,114.5 C404.1,106.5 404.4,98.0 406.2,92.7 C408.0,87.4 410.1,83.6 412.8,82.7 C415.5,81.8 419.2,83.4 422.5,87.2 C425.8,91.0 430.0,99.0 432.6,105.4 C435.2,111.8 435.7,116.3 438.1,125.4 C440.6,134.5 444.0,152.9 447.3,159.9 C450.6,166.9 454.3,162.7 458.2,167.2 C462.1,171.7 467.0,183.3 470.9,187.1 C474.8,190.9 476.4,188.4 481.8,189.9 C487.2,191.4 497.4,194.0 503.5,196.2 C509.6,198.4 513.0,202.2 518.1,203.1 C523.2,203.9 528.2,201.5 533.9,201.3 C539.6,201.1 549.2,201.9 552.3,202.0" fill="none" stroke="#D8BC3A" stroke-width="1.0"/>
<path d="M332.6,204.3 C335.5,203.9 344.9,203.1 350.1,201.7 C355.4,200.2 360.6,197.5 364.1,195.6 C367.6,193.7 368.2,193.2 371.1,190.3 C374.0,187.4 378.2,183.1 381.6,178.0 C385.1,172.9 387.5,167.6 391.8,160.0 C396.1,152.4 403.4,140.8 407.2,132.6 C411.0,124.4 412.1,117.4 414.5,110.8 C416.9,104.2 419.1,96.8 421.7,92.7 C424.3,88.6 427.2,86.3 429.9,86.3 C432.6,86.3 435.5,88.0 438.1,92.7 C440.7,97.4 442.6,106.3 445.3,114.5 C448.0,122.7 452.1,134.3 454.4,141.7 C456.7,149.1 456.2,152.9 459.0,159.0 C461.8,165.1 466.5,173.7 470.9,178.1 C475.3,182.5 480.9,182.7 485.4,185.3 C489.9,187.9 492.7,190.8 498.1,193.5 C503.6,196.2 512.1,200.0 518.1,201.7 C524.1,203.3 528.2,203.4 533.9,203.4 C539.6,203.4 549.2,202.0 552.3,201.7" fill="none" stroke="#F2553A" stroke-width="1.0"/>
<path d="M323.5,200.8 C324.2,198.3 326.6,191.6 328.0,186.0 C329.4,180.4 330.9,173.3 332.2,167.0 C333.4,160.7 334.5,155.0 335.5,148.0 C336.5,141.0 337.2,135.8 338.4,125.0 C339.6,114.2 341.2,96.7 342.6,83.5 C344.0,70.3 345.3,55.2 346.8,45.9 C348.3,36.5 350.1,29.0 351.6,27.4 C353.1,25.8 354.3,30.0 356.0,36.0 C357.7,42.0 359.8,58.1 361.8,63.6 C363.8,69.1 366.2,66.4 368.2,69.1 C370.2,71.8 371.9,75.5 373.6,80.0 C375.3,84.5 376.5,89.6 378.2,96.3 C379.9,103.0 381.9,111.0 383.6,119.9 C385.3,128.8 387.2,142.5 388.6,150.0 C390.0,157.5 390.2,158.1 392.0,165.0 C393.8,171.9 396.8,185.5 399.2,191.2 C401.6,196.9 403.3,197.0 406.2,199.0 C409.1,201.0 412.7,202.5 416.7,203.4 C420.7,204.3 423.6,204.2 430.0,204.3 C436.4,204.5 449.7,204.5 455.0,204.3 C460.3,204.1 459.5,204.1 462.0,203.0 C464.5,201.9 467.5,200.0 470.0,198.0 C472.5,196.0 474.5,192.6 477.0,191.0 C479.5,189.4 482.3,188.0 484.8,188.2 C487.3,188.4 489.5,189.9 492.0,192.0 C494.5,194.1 497.4,198.9 500.0,201.0 C502.6,203.1 498.9,203.8 507.6,204.3 C516.3,204.9 544.8,204.3 552.3,204.3" fill="none" stroke="#2CC6D2" stroke-width="1.0"/>
<g stroke="#EBEBEB" stroke-width="0.6">
<line x1="615.1" y1="11" x2="615.1" y2="225.5" />
<line x1="634.5" y1="11" x2="634.5" y2="225.5" />
<line x1="653.8" y1="11" x2="653.8" y2="225.5" />
<line x1="673.1" y1="11" x2="673.1" y2="225.5" />
<line x1="692.5" y1="11" x2="692.5" y2="225.5" />
<line x1="711.9" y1="11" x2="711.9" y2="225.5" />
<line x1="731.2" y1="11" x2="731.2" y2="225.5" />
<line x1="750.5" y1="11" x2="750.5" y2="225.5" />
<line x1="769.9" y1="11" x2="769.9" y2="225.5" />
<line x1="789.2" y1="11" x2="789.2" y2="225.5" />
<line x1="605" y1="25.9" x2="790" y2="25.9" />
<line x1="605" y1="56.4" x2="790" y2="56.4" />
<line x1="605" y1="86.9" x2="790" y2="86.9" />
<line x1="605" y1="117.4" x2="790" y2="117.4" />
<line x1="605" y1="147.9" x2="790" y2="147.9" />
<line x1="605" y1="178.4" x2="790" y2="178.4" />
<line x1="605" y1="208.9" x2="790" y2="208.9" />
</g>
<text x="601.5" y="25.9" font-size="7.2" fill="#4D4D4D" text-anchor="end" font-weight="normal" dominant-baseline="central" >5</text>
<line x1="602.5" y1="25.9" x2="605.0" y2="25.9" stroke="#333" stroke-width="0.6"/>
<text x="601.5" y="86.9" font-size="7.2" fill="#4D4D4D" text-anchor="end" font-weight="normal" dominant-baseline="central" >0</text>
<line x1="602.5" y1="86.9" x2="605.0" y2="86.9" stroke="#333" stroke-width="0.6"/>
<text x="601.5" y="147.9" font-size="7.2" fill="#4D4D4D" text-anchor="end" font-weight="normal" dominant-baseline="central" >-5</text>
<line x1="602.5" y1="147.9" x2="605.0" y2="147.9" stroke="#333" stroke-width="0.6"/>
<text x="601.5" y="208.9" font-size="7.2" fill="#4D4D4D" text-anchor="end" font-weight="normal" dominant-baseline="central" >-10</text>
<line x1="602.5" y1="208.9" x2="605.0" y2="208.9" stroke="#333" stroke-width="0.6"/>
<text x="615.1" y="231.4" font-size="7.2" fill="#4D4D4D" text-anchor="middle" font-weight="normal" dominant-baseline="central" >-10</text>
<line x1="615.1" y1="225.5" x2="615.1" y2="227.5" stroke="#333" stroke-width="0.6"/>
<text x="653.8" y="231.4" font-size="7.2" fill="#4D4D4D" text-anchor="middle" font-weight="normal" dominant-baseline="central" >-5</text>
<line x1="653.8" y1="225.5" x2="653.8" y2="227.5" stroke="#333" stroke-width="0.6"/>
<text x="692.5" y="231.4" font-size="7.2" fill="#4D4D4D" text-anchor="middle" font-weight="normal" dominant-baseline="central" >0</text>
<line x1="692.5" y1="225.5" x2="692.5" y2="227.5" stroke="#333" stroke-width="0.6"/>
<text x="731.2" y="231.4" font-size="7.2" fill="#4D4D4D" text-anchor="middle" font-weight="normal" dominant-baseline="central" >5</text>
<line x1="731.2" y1="225.5" x2="731.2" y2="227.5" stroke="#333" stroke-width="0.6"/>
<text x="769.9" y="231.4" font-size="7.2" fill="#4D4D4D" text-anchor="middle" font-weight="normal" dominant-baseline="central" >10</text>
<line x1="769.9" y1="225.5" x2="769.9" y2="227.5" stroke="#333" stroke-width="0.6"/>
<text x="700.0" y="241.0" font-size="9.7" fill="#222" text-anchor="middle" font-weight="normal" dominant-baseline="central" stroke="#222" stroke-width="0.15" >PC1 (66%)</text>
<text x="583.9" y="119.0" font-size="9.7" fill="#222" text-anchor="middle" font-weight="normal" dominant-baseline="central" transform="rotate(-90 583.9 119.0)" stroke="#222" stroke-width="0.15" >PC2 (19%)</text>
<ellipse cx="673.8" cy="143.5" rx="79.6" ry="54.8" fill="rgba(0,194,200,0.10)" stroke="#3FD0D6" stroke-width="0.8" transform="rotate(58 673.8 143.5)"/>
<ellipse cx="715.4" cy="94.5" rx="74.5" ry="39.4" fill="rgba(111,154,232,0.14)" stroke="#6F9AE8" stroke-width="0.8" transform="rotate(-13.9 715.4 94.5)"/>
<ellipse cx="668.3" cy="76.3" rx="51.5" ry="30.2" fill="rgba(232,69,60,0.12)" stroke="#E8453C" stroke-width="0.8" transform="rotate(73.8 668.3 76.3)"/>
<ellipse cx="676.6" cy="79.4" rx="41.1" ry="30.6" fill="rgba(216,176,64,0.12)" stroke="#D8B040" stroke-width="0.8" transform="rotate(-85 676.6 79.4)"/>
<ellipse cx="723.3" cy="81.1" rx="49.1" ry="42.5" fill="rgba(240,64,240,0.12)" stroke="#F040F0" stroke-width="0.8" transform="rotate(-9.7 723.3 81.1)"/>
<line x1="605" y1="86.9" x2="790" y2="86.9" stroke="#333" stroke-width="1" stroke-dasharray="2.5,2"/>
<line x1="692.5" y1="11" x2="692.5" y2="225.5" stroke="#333" stroke-width="1" stroke-dasharray="2.5,2"/>
<line x1="692.5" y1="86.9" x2="665.3" y2="21.2" stroke="#4A7EB8" stroke-width="0.8"/>
<path d="M665.3,21.2 L666.9,22.7 M665.3,21.2 L665.2,23.4" stroke="#4A7EB8" stroke-width="0.7" fill="none"/>
<line x1="692.5" y1="86.9" x2="661.0" y2="31.9" stroke="#4A7EB8" stroke-width="0.8"/>
<path d="M661.0,31.9 L662.8,33.1 M661.0,31.9 L661.2,34.1" stroke="#4A7EB8" stroke-width="0.7" fill="none"/>
<line x1="692.5" y1="86.9" x2="662.3" y2="40.4" stroke="#4A7EB8" stroke-width="0.8"/>
<path d="M662.3,40.4 L664.2,41.5 M662.3,40.4 L662.6,42.6" stroke="#4A7EB8" stroke-width="0.7" fill="none"/>
<line x1="692.5" y1="86.9" x2="647.5" y2="46.6" stroke="#4A7EB8" stroke-width="0.8"/>
<path d="M647.5,46.6 L649.6,47.2 M647.5,46.6 L648.3,48.6" stroke="#4A7EB8" stroke-width="0.7" fill="none"/>
<line x1="692.5" y1="86.9" x2="649.8" y2="97.7" stroke="#4A7EB8" stroke-width="0.8"/>
<path d="M649.8,97.7 L651.5,96.3 M649.8,97.7 L652.0,98.1" stroke="#4A7EB8" stroke-width="0.7" fill="none"/>
<line x1="692.5" y1="86.9" x2="647.3" y2="103.4" stroke="#4A7EB8" stroke-width="0.8"/>
<path d="M647.3,103.4 L648.8,101.8 M647.3,103.4 L649.5,103.6" stroke="#4A7EB8" stroke-width="0.7" fill="none"/>
<line x1="692.5" y1="86.9" x2="743.5" y2="69.5" stroke="#4A7EB8" stroke-width="0.8"/>
<path d="M743.5,69.5 L741.9,71.0 M743.5,69.5 L741.3,69.2" stroke="#4A7EB8" stroke-width="0.7" fill="none"/>
<line x1="692.5" y1="86.9" x2="744.0" y2="71.0" stroke="#4A7EB8" stroke-width="0.8"/>
<path d="M744.0,71.0 L742.4,72.5 M744.0,71.0 L741.8,70.7" stroke="#4A7EB8" stroke-width="0.7" fill="none"/>
<line x1="692.5" y1="86.9" x2="744.0" y2="72.5" stroke="#4A7EB8" stroke-width="0.8"/>
<path d="M744.0,72.5 L742.3,74.0 M744.0,72.5 L741.8,72.1" stroke="#4A7EB8" stroke-width="0.7" fill="none"/>
<line x1="692.5" y1="86.9" x2="744.0" y2="74.0" stroke="#4A7EB8" stroke-width="0.8"/>
<path d="M744.0,74.0 L742.3,75.4 M744.0,74.0 L741.8,73.6" stroke="#4A7EB8" stroke-width="0.7" fill="none"/>
<line x1="692.5" y1="86.9" x2="743.5" y2="75.5" stroke="#4A7EB8" stroke-width="0.8"/>
<path d="M743.5,75.5 L741.8,76.9 M743.5,75.5 L741.4,75.0" stroke="#4A7EB8" stroke-width="0.7" fill="none"/>
<line x1="692.5" y1="86.9" x2="744.0" y2="77.0" stroke="#4A7EB8" stroke-width="0.8"/>
<path d="M744.0,77.0 L742.2,78.3 M744.0,77.0 L741.9,76.4" stroke="#4A7EB8" stroke-width="0.7" fill="none"/>
<line x1="692.5" y1="86.9" x2="742.0" y2="73.0" stroke="#4A7EB8" stroke-width="0.8"/>
<path d="M742.0,73.0 L740.4,74.5 M742.0,73.0 L739.8,72.6" stroke="#4A7EB8" stroke-width="0.7" fill="none"/>
<line x1="692.5" y1="86.9" x2="708.8" y2="161.9" stroke="#4A7EB8" stroke-width="0.8"/>
<path d="M708.8,161.9 L707.4,160.2 M708.8,161.9 L709.3,159.8" stroke="#4A7EB8" stroke-width="0.7" fill="none"/>
<line x1="692.5" y1="86.9" x2="704.8" y2="165.0" stroke="#4A7EB8" stroke-width="0.8"/>
<path d="M704.8,165.0 L703.5,163.2 M704.8,165.0 L705.4,162.9" stroke="#4A7EB8" stroke-width="0.7" fill="none"/>
<text x="668.5" y="17.0" font-size="5.6" fill="#5A8CC4" text-anchor="middle" font-weight="normal" dominant-baseline="central" xml:space="preserve">FOmean_mean</text>
<text x="656.0" y="27.0" font-size="5.6" fill="#5A8CC4" text-anchor="middle" font-weight="normal" dominant-baseline="central" xml:space="preserve">FOsd_mean</text>
<text x="665.3" y="35.7" font-size="5.6" fill="#5A8CC4" text-anchor="middle" font-weight="normal" dominant-baseline="central" xml:space="preserve">Sph_max</text>
<text x="642.8" y="49.9" font-size="5.6" fill="#5A8CC4" text-anchor="middle" font-weight="normal" dominant-baseline="central" xml:space="preserve">Sph_mean</text>
<text x="739.5" y="56.8" font-size="5.6" fill="#5A8CC4" text-anchor="middle" font-weight="normal" dominant-baseline="central" xml:space="preserve">Area_mean  IQ1_mean</text>
<text x="724.5" y="64.8" font-size="5.6" fill="#5A8CC4" text-anchor="middle" font-weight="normal" dominant-baseline="central" xml:space="preserve">poly4_asc  poly1_mean_mean</text>
<text x="742.0" y="72.3" font-size="5.6" fill="#5A8CC4" text-anchor="middle" font-weight="normal" dominant-baseline="central" xml:space="preserve">poly4_mean    IQ2_mean</text>
<text x="759.4" y="79.0" font-size="5.6" fill="#5A8CC4" text-anchor="middle" font-weight="normal" dominant-baseline="central" xml:space="preserve">IQ3_mean</text>
<text x="745.7" y="86.7" font-size="5.6" fill="#5A8CC4" text-anchor="middle" font-weight="normal" dominant-baseline="central" xml:space="preserve">IQ6_mean  IQ8_mean  IQ4_mean</text>
<text x="754.4" y="94.2" font-size="5.6" fill="#5A8CC4" text-anchor="middle" font-weight="normal" dominant-baseline="central" xml:space="preserve">IQ7_mean  IQ5_mean</text>
<text x="654.8" y="94.7" font-size="5.6" fill="#5A8CC4" text-anchor="middle" font-weight="normal" dominant-baseline="central" xml:space="preserve">Wid_dev</text>
<text x="642.3" y="107.9" font-size="5.6" fill="#5A8CC4" text-anchor="middle" font-weight="normal" dominant-baseline="central" xml:space="preserve">poly4_dev</text>
<text x="713.5" y="159.7" font-size="5.6" fill="#5A8CC4" text-anchor="middle" font-weight="normal" dominant-baseline="central" xml:space="preserve">Cooc01Sha_mean</text>
<text x="736.6" y="167.1" font-size="5.6" fill="#5A8CC4" text-anchor="middle" font-weight="normal" dominant-baseline="central" xml:space="preserve">Cooc02Sha_mean</text>
<text x="687.2" y="170.5" font-size="5.6" fill="#5A8CC4" text-anchor="middle" font-weight="normal" dominant-baseline="central" xml:space="preserve">Cooc12Sha_mean</text>
<g stroke="#EBEBEB" stroke-width="0.6">
<line x1="285.4" y1="323" x2="285.4" y2="476" />
<line x1="299.6" y1="323" x2="299.6" y2="476" />
<line x1="313.8" y1="323" x2="313.8" y2="476" />
<line x1="328.0" y1="323" x2="328.0" y2="476" />
<line x1="342.2" y1="323" x2="342.2" y2="476" />
<line x1="356.4" y1="323" x2="356.4" y2="476" />
<line x1="370.6" y1="323" x2="370.6" y2="476" />
<line x1="384.8" y1="323" x2="384.8" y2="476" />
<line x1="399.0" y1="323" x2="399.0" y2="476" />
<line x1="413.2" y1="323" x2="413.2" y2="476" />
<line x1="427.4" y1="323" x2="427.4" y2="476" />
<line x1="292" y1="333.5" x2="436" y2="333.5" />
<line x1="292" y1="356.4" x2="436" y2="356.4" />
<line x1="292" y1="379.4" x2="436" y2="379.4" />
<line x1="292" y1="402.3" x2="436" y2="402.3" />
<line x1="292" y1="425.3" x2="436" y2="425.3" />
<line x1="292" y1="448.2" x2="436" y2="448.2" />
<line x1="292" y1="471.2" x2="436" y2="471.2" />
</g>
<text x="291.6" y="333.5" font-size="6.5" fill="#4D4D4D" text-anchor="end" font-weight="normal" dominant-baseline="central" >10</text>
<text x="291.6" y="379.4" font-size="6.5" fill="#4D4D4D" text-anchor="end" font-weight="normal" dominant-baseline="central" >0</text>
<text x="291.6" y="425.3" font-size="6.5" fill="#4D4D4D" text-anchor="end" font-weight="normal" dominant-baseline="central" >-10</text>
<text x="291.6" y="471.2" font-size="6.5" fill="#4D4D4D" text-anchor="end" font-weight="normal" dominant-baseline="central" >-20</text>
<text x="299.6" y="484.4" font-size="6.5" fill="#4D4D4D" text-anchor="middle" font-weight="normal" dominant-baseline="central" >-20</text>
<text x="328.0" y="484.4" font-size="6.5" fill="#4D4D4D" text-anchor="middle" font-weight="normal" dominant-baseline="central" >-10</text>
<text x="356.4" y="484.4" font-size="6.5" fill="#4D4D4D" text-anchor="middle" font-weight="normal" dominant-baseline="central" >0</text>
<text x="384.8" y="484.4" font-size="6.5" fill="#4D4D4D" text-anchor="middle" font-weight="normal" dominant-baseline="central" >10</text>
<text x="413.2" y="484.4" font-size="6.5" fill="#4D4D4D" text-anchor="middle" font-weight="normal" dominant-baseline="central" >20</text>
<text x="365.1" y="492.9" font-size="7.7" fill="#333" text-anchor="middle" font-weight="normal" dominant-baseline="central" stroke="#333" stroke-width="0.12" >PC1 (36.4%)</text>
<text x="276.5" y="399.3" font-size="7.9" fill="#333" text-anchor="middle" font-weight="normal" dominant-baseline="central" transform="rotate(-90 276.5 399.3)" stroke="#333" stroke-width="0.12" >PC2 (14%)</text>
<path d="M336.6,327.2 L356.2,334.7 L353.6,420.6 L338.9,433.6 L324.2,410.8 L311.8,393.5 L300.7,358.5Z" fill="rgba(246,120,110,0.32)" stroke="#F04A38" stroke-width="0.7"/>
<path d="M363.4,334.0 L406.5,342.2 L429.3,354.3 L416.3,395.1 L367.3,471.2 L357.5,464.7 L358.5,347.8Z" fill="rgba(110,120,246,0.3)" stroke="#3A4CF0" stroke-width="0.7"/>
<circle cx="326.8" cy="343.5" r="0.9" fill="#F04A38"/>
<circle cx="320.9" cy="350.4" r="0.9" fill="#F04A38"/>
<circle cx="323.5" cy="362.4" r="0.9" fill="#F04A38"/>
<circle cx="326.5" cy="362.4" r="0.9" fill="#F04A38"/>
<circle cx="330.7" cy="359.8" r="0.9" fill="#F04A38"/>
<circle cx="320.3" cy="368.3" r="0.9" fill="#F04A38"/>
<circle cx="322.6" cy="369.0" r="0.9" fill="#F04A38"/>
<circle cx="341.5" cy="354.6" r="0.9" fill="#F04A38"/>
<circle cx="348.0" cy="356.6" r="0.9" fill="#F04A38"/>
<circle cx="346.4" cy="365.7" r="0.9" fill="#F04A38"/>
<circle cx="318.6" cy="376.5" r="0.9" fill="#F04A38"/>
<circle cx="330.1" cy="380.4" r="0.9" fill="#F04A38"/>
<circle cx="327.4" cy="385.3" r="0.9" fill="#F04A38"/>
<circle cx="334.0" cy="387.9" r="0.9" fill="#F04A38"/>
<circle cx="335.0" cy="386.9" r="0.9" fill="#F04A38"/>
<circle cx="339.9" cy="384.7" r="0.9" fill="#F04A38"/>
<circle cx="344.4" cy="384.7" r="0.9" fill="#F04A38"/>
<circle cx="346.1" cy="377.1" r="0.9" fill="#F04A38"/>
<circle cx="352.9" cy="381.4" r="0.9" fill="#F04A38"/>
<circle cx="354.2" cy="385.3" r="0.9" fill="#F04A38"/>
<circle cx="349.3" cy="393.5" r="0.9" fill="#F04A38"/>
<circle cx="306.2" cy="372.2" r="0.9" fill="#F04A38"/>
<circle cx="313.4" cy="391.8" r="0.9" fill="#F04A38"/>
<circle cx="324.5" cy="411.4" r="0.9" fill="#F04A38"/>
<circle cx="351.9" cy="410.8" r="0.9" fill="#F04A38"/>
<circle cx="336.6" cy="327.2" r="0.9" fill="#F04A38"/>
<circle cx="356.2" cy="334.7" r="0.9" fill="#F04A38"/>
<circle cx="300.7" cy="358.5" r="0.9" fill="#F04A38"/>
<circle cx="311.8" cy="393.5" r="0.9" fill="#F04A38"/>
<circle cx="338.9" cy="433.6" r="0.9" fill="#F04A38"/>
<circle cx="353.6" cy="420.6" r="0.9" fill="#F04A38"/>
<circle cx="365.7" cy="340.6" r="0.9" fill="#3A4CF0"/>
<circle cx="374.8" cy="345.1" r="0.9" fill="#3A4CF0"/>
<circle cx="379.7" cy="346.8" r="0.9" fill="#3A4CF0"/>
<circle cx="359.8" cy="347.8" r="0.9" fill="#3A4CF0"/>
<circle cx="369.2" cy="357.9" r="0.9" fill="#3A4CF0"/>
<circle cx="382.0" cy="355.9" r="0.9" fill="#3A4CF0"/>
<circle cx="378.7" cy="364.7" r="0.9" fill="#3A4CF0"/>
<circle cx="396.3" cy="358.5" r="0.9" fill="#3A4CF0"/>
<circle cx="408.1" cy="360.8" r="0.9" fill="#3A4CF0"/>
<circle cx="359.8" cy="372.9" r="0.9" fill="#3A4CF0"/>
<circle cx="361.1" cy="376.2" r="0.9" fill="#3A4CF0"/>
<circle cx="367.3" cy="378.8" r="0.9" fill="#3A4CF0"/>
<circle cx="385.6" cy="379.4" r="0.9" fill="#3A4CF0"/>
<circle cx="392.8" cy="374.9" r="0.9" fill="#3A4CF0"/>
<circle cx="398.3" cy="380.7" r="0.9" fill="#3A4CF0"/>
<circle cx="400.9" cy="371.6" r="0.9" fill="#3A4CF0"/>
<circle cx="401.9" cy="371.3" r="0.9" fill="#3A4CF0"/>
<circle cx="409.1" cy="394.4" r="0.9" fill="#3A4CF0"/>
<circle cx="374.5" cy="399.3" r="0.9" fill="#3A4CF0"/>
<circle cx="385.6" cy="397.1" r="0.9" fill="#3A4CF0"/>
<circle cx="358.8" cy="405.6" r="0.9" fill="#3A4CF0"/>
<circle cx="370.9" cy="407.2" r="0.9" fill="#3A4CF0"/>
<circle cx="361.7" cy="411.4" r="0.9" fill="#3A4CF0"/>
<circle cx="371.5" cy="423.8" r="0.9" fill="#3A4CF0"/>
<circle cx="359.4" cy="421.2" r="0.9" fill="#3A4CF0"/>
<circle cx="361.4" cy="420.6" r="0.9" fill="#3A4CF0"/>
<circle cx="363.4" cy="334.0" r="0.9" fill="#3A4CF0"/>
<circle cx="406.5" cy="342.2" r="0.9" fill="#3A4CF0"/>
<circle cx="429.3" cy="354.3" r="0.9" fill="#3A4CF0"/>
<circle cx="416.3" cy="395.1" r="0.9" fill="#3A4CF0"/>
<circle cx="367.3" cy="471.2" r="0.9" fill="#3A4CF0"/>
<circle cx="357.5" cy="464.7" r="0.9" fill="#3A4CF0"/>
<circle cx="333.3" cy="376.2" r="1.6" fill="#F04A38"/>
<circle cx="380.7" cy="382.0" r="1.6" fill="#3A4CF0"/>
<line x1="481.7" y1="340.0" x2="481.7" y2="452.2" stroke="#111" stroke-width="1.1"/>
<line x1="477.2" y1="451.8" x2="555.8" y2="451.8" stroke="#111" stroke-width="1.1"/>
<line x1="477.5" y1="452.0" x2="481.7" y2="452.0" stroke="#111" stroke-width="1"/>
<text x="475.5" y="452.0" font-size="8.2" fill="#111" text-anchor="end" font-weight="bold" dominant-baseline="central" >0</text>
<line x1="477.5" y1="429.6" x2="481.7" y2="429.6" stroke="#111" stroke-width="1"/>
<text x="475.5" y="429.6" font-size="8.2" fill="#111" text-anchor="end" font-weight="bold" dominant-baseline="central" >20</text>
<line x1="477.5" y1="407.2" x2="481.7" y2="407.2" stroke="#111" stroke-width="1"/>
<text x="475.5" y="407.2" font-size="8.2" fill="#111" text-anchor="end" font-weight="bold" dominant-baseline="central" >40</text>
<line x1="477.5" y1="384.8" x2="481.7" y2="384.8" stroke="#111" stroke-width="1"/>
<text x="475.5" y="384.8" font-size="8.2" fill="#111" text-anchor="end" font-weight="bold" dominant-baseline="central" >60</text>
<line x1="477.5" y1="362.4" x2="481.7" y2="362.4" stroke="#111" stroke-width="1"/>
<text x="475.5" y="362.4" font-size="8.2" fill="#111" text-anchor="end" font-weight="bold" dominant-baseline="central" >80</text>
<line x1="477.5" y1="340.0" x2="481.7" y2="340.0" stroke="#111" stroke-width="1"/>
<text x="475.5" y="340.0" font-size="8.2" fill="#111" text-anchor="end" font-weight="bold" dominant-baseline="central" >100</text>
<line x1="502.6" y1="451.8" x2="502.6" y2="455.4" stroke="#111" stroke-width="1"/>
<line x1="534.4" y1="451.8" x2="534.4" y2="455.4" stroke="#111" stroke-width="1"/>
<rect x="493.4" y="350.8" width="19" height="101" fill="#F4A396" stroke="#EB4A30" stroke-width="1.6"/>
<rect x="525.2" y="418.4" width="19.4" height="33.4" fill="#7E9DF4" stroke="#2156F2" stroke-width="1.6"/>
<text x="502.6" y="345.0" font-size="9.8" fill="#333" text-anchor="middle" font-weight="normal" dominant-baseline="central" stroke="#333" stroke-width="0.15" >91%</text>
<text x="534.8" y="411.8" font-size="9.8" fill="#333" text-anchor="middle" font-weight="normal" dominant-baseline="central" stroke="#333" stroke-width="0.15" >31%</text>
<text x="453.5" y="395.5" font-size="9" fill="#111" text-anchor="middle" font-weight="bold" dominant-baseline="central" transform="rotate(-90 453.5 395.5)" >Cells predicted as treated (%)</text>
<text x="503.3" y="462.3" font-size="8.5" fill="#111" text-anchor="end" font-weight="bold" dominant-baseline="central" transform="rotate(-45 503.3 462.3)" >Cluster 1</text>
<text x="535.1" y="462.3" font-size="8.5" fill="#111" text-anchor="end" font-weight="bold" dominant-baseline="central" transform="rotate(-45 535.1 462.3)" >Cluster 2</text>
<line x1="603.5" y1="343.9" x2="603.5" y2="456.3" stroke="#111" stroke-width="1.1"/>
<line x1="599.0" y1="455.8" x2="678.8" y2="455.8" stroke="#111" stroke-width="1.1"/>
<line x1="599.0" y1="455.8" x2="603.5" y2="455.8" stroke="#111" stroke-width="1"/>
<text x="597.5" y="455.8" font-size="8.5" fill="#111" text-anchor="end" font-weight="bold" dominant-baseline="central" >0.00</text>
<line x1="599.0" y1="418.6" x2="603.5" y2="418.6" stroke="#111" stroke-width="1"/>
<text x="597.5" y="418.6" font-size="8.5" fill="#111" text-anchor="end" font-weight="bold" dominant-baseline="central" >0.01</text>
<line x1="599.0" y1="381.5" x2="603.5" y2="381.5" stroke="#111" stroke-width="1"/>
<text x="597.5" y="381.5" font-size="8.5" fill="#111" text-anchor="end" font-weight="bold" dominant-baseline="central" >0.02</text>
<line x1="599.0" y1="344.4" x2="603.5" y2="344.4" stroke="#111" stroke-width="1"/>
<text x="597.5" y="344.4" font-size="8.5" fill="#111" text-anchor="end" font-weight="bold" dominant-baseline="central" >0.03</text>
<line x1="618.3" y1="455.8" x2="618.3" y2="459.8" stroke="#111" stroke-width="1"/>
<line x1="640.3" y1="455.8" x2="640.3" y2="459.8" stroke="#111" stroke-width="1"/>
<line x1="662.8" y1="455.8" x2="662.8" y2="459.8" stroke="#111" stroke-width="1"/>
<path d="M618.3,365.4 C618.2,366.9 617.9,371.5 617.8,374.5 C617.6,377.5 617.6,380.6 617.4,383.6 C617.2,386.6 617.1,390.0 616.7,392.7 C616.3,395.4 615.8,397.9 615.2,400.0 C614.6,402.1 613.6,403.6 613.1,405.4 C612.6,407.2 612.2,408.7 612.0,410.8 C611.8,412.9 611.6,416.0 611.6,418.1 C611.6,420.2 611.7,421.8 612.1,423.6 C612.5,425.4 613.4,427.2 614.0,429.0 C614.6,430.8 615.5,432.7 616.0,434.5 C616.5,436.3 616.6,437.8 617.0,439.9 C617.4,442.0 618.0,446.0 618.3,447.2 C618.6,448.4 618.4,448.4 618.7,447.2 C619.0,446.0 619.6,442.0 620.0,439.9 C620.4,437.8 620.5,436.3 621.0,434.5 C621.5,432.7 622.4,430.8 623.0,429.0 C623.6,427.2 624.5,425.4 624.9,423.6 C625.3,421.8 625.4,420.2 625.4,418.1 C625.4,416.0 625.2,412.9 625.0,410.8 C624.8,408.7 624.4,407.2 623.9,405.4 C623.4,403.6 622.4,402.1 621.8,400.0 C621.2,397.9 620.7,395.4 620.3,392.7 C619.9,390.0 619.8,386.6 619.6,383.6 C619.4,380.6 619.4,377.5 619.2,374.5 C619.1,371.5 618.8,366.9 618.7,365.4Z" fill="#DCDCDC" stroke="#CACACA" stroke-width="1.1" stroke-linejoin="round"/>
<line x1="612.6" y1="409.4" x2="624.4" y2="409.4" stroke="#555" stroke-width="0.5" stroke-dasharray="1.6,0.9"/>
<line x1="611.7" y1="415.7" x2="625.3" y2="415.7" stroke="#222" stroke-width="0.8" stroke-dasharray="1.6,0.9"/>
<line x1="612.1" y1="423.6" x2="624.9" y2="423.6" stroke="#555" stroke-width="0.5" stroke-dasharray="1.6,0.9"/>
<path d="M640.5,410.8 C640.4,411.4 640.1,413.0 639.6,414.5 C639.1,416.0 638.1,418.2 637.4,419.9 C636.7,421.6 635.7,423.3 635.3,424.5 C634.9,425.7 634.7,426.1 634.9,427.2 C635.1,428.2 636.1,429.6 636.7,430.8 C637.3,432.0 638.7,433.3 638.5,434.5 C638.3,435.7 636.3,437.1 635.6,438.1 C634.9,439.2 634.1,439.6 634.2,440.8 C634.3,442.0 635.4,443.6 636.2,445.3 C637.0,447.0 638.2,449.3 638.9,450.8 C639.6,452.3 640.2,453.8 640.5,454.4 C640.8,455.0 640.6,455.0 640.9,454.4 C641.2,453.8 641.8,452.3 642.5,450.8 C643.2,449.3 644.4,447.0 645.2,445.3 C646.0,443.6 647.1,442.0 647.2,440.8 C647.3,439.6 646.5,439.2 645.8,438.1 C645.1,437.1 643.1,435.7 642.9,434.5 C642.7,433.3 644.1,432.0 644.7,430.8 C645.3,429.6 646.3,428.2 646.5,427.2 C646.7,426.1 646.5,425.7 646.1,424.5 C645.7,423.3 644.7,421.6 644.0,419.9 C643.3,418.2 642.3,416.0 641.8,414.5 C641.3,413.0 641.1,411.4 640.9,410.8Z" fill="#F5B5A8" stroke="#EE6040" stroke-width="1.8" stroke-linejoin="round"/>
<line x1="635.1" y1="425.7" x2="646.3" y2="425.7" stroke="#555" stroke-width="0.5" stroke-dasharray="1.6,0.9"/>
<line x1="637.9" y1="435.0" x2="643.5" y2="435.0" stroke="#222" stroke-width="0.8" stroke-dasharray="1.6,0.9"/>
<line x1="634.3" y1="440.3" x2="647.1" y2="440.3" stroke="#555" stroke-width="0.5" stroke-dasharray="1.6,0.9"/>
<path d="M663.2,377.3 C663.0,378.4 662.3,381.0 661.9,383.6 C661.5,386.2 661.2,390.0 660.7,392.7 C660.2,395.4 659.1,398.2 658.9,400.0 C658.7,401.8 659.2,402.4 659.4,403.6 C659.5,404.8 660.1,405.7 659.8,407.2 C659.5,408.7 658.1,411.0 657.6,412.7 C657.1,414.4 656.4,415.7 656.5,417.2 C656.6,418.7 657.5,420.0 658.0,421.7 C658.5,423.4 659.2,425.1 659.8,427.2 C660.4,429.3 661.1,432.1 661.6,434.5 C662.1,436.9 662.2,439.9 662.5,441.7 C662.8,443.5 663.0,444.7 663.2,445.3 C663.4,445.9 663.4,445.9 663.6,445.3 C663.8,444.7 664.0,443.5 664.3,441.7 C664.6,439.9 664.7,436.9 665.2,434.5 C665.6,432.1 666.4,429.3 667.0,427.2 C667.6,425.1 668.2,423.4 668.8,421.7 C669.3,420.0 670.2,418.7 670.3,417.2 C670.4,415.7 669.7,414.4 669.2,412.7 C668.6,411.0 667.3,408.7 667.0,407.2 C666.7,405.7 667.2,404.8 667.4,403.6 C667.5,402.4 668.1,401.8 667.9,400.0 C667.7,398.2 666.6,395.4 666.1,392.7 C665.6,390.0 665.3,386.2 664.9,383.6 C664.5,381.0 663.8,378.4 663.6,377.3Z" fill="#8DB0F2" stroke="#2B66EA" stroke-width="1.8" stroke-linejoin="round"/>
<line x1="658.9" y1="401.4" x2="667.9" y2="401.4" stroke="#555" stroke-width="0.5" stroke-dasharray="1.6,0.9"/>
<line x1="656.9" y1="415.4" x2="669.9" y2="415.4" stroke="#222" stroke-width="0.8" stroke-dasharray="1.6,0.9"/>
<line x1="658.0" y1="421.4" x2="668.8" y2="421.4" stroke="#555" stroke-width="0.5" stroke-dasharray="1.6,0.9"/>
<text x="641.0" y="323.4" font-size="9" fill="#333" text-anchor="middle" font-weight="normal" dominant-baseline="central" stroke="#333" stroke-width="0.14" >ns</text>
<path d="M618.3,338.1 V331.3 H664.3 V338.1" fill="none" stroke="#555" stroke-width="0.8"/>
<path d="M618.00,342.60 L618.00,348.60 M620.60,344.10 L615.40,347.10 M620.60,347.10 L615.40,344.10 " stroke="#111" stroke-width="1.7" fill="none"/>
<path d="M624.60,342.60 L624.60,348.60 M627.20,344.10 L622.00,347.10 M627.20,347.10 L622.00,344.10 " stroke="#111" stroke-width="1.7" fill="none"/>
<path d="M631.20,342.60 L631.20,348.60 M633.80,344.10 L628.60,347.10 M633.80,347.10 L628.60,344.10 " stroke="#111" stroke-width="1.7" fill="none"/>
<path d="M637.80,342.60 L637.80,348.60 M640.40,344.10 L635.20,347.10 M640.40,347.10 L635.20,344.10 " stroke="#111" stroke-width="1.7" fill="none"/>
<path d="M618.3,360.8 V353.5 H637.6 V407.9" fill="none" stroke="#555" stroke-width="0.8"/>
<path d="M643.50,356.30 L643.50,362.30 M646.10,357.80 L640.90,360.80 M646.10,360.80 L640.90,357.80 " stroke="#111" stroke-width="1.7" fill="none"/>
<path d="M650.10,356.30 L650.10,362.30 M652.70,357.80 L647.50,360.80 M652.70,360.80 L647.50,357.80 " stroke="#111" stroke-width="1.7" fill="none"/>
<path d="M656.70,356.30 L656.70,362.30 M659.30,357.80 L654.10,360.80 M659.30,360.80 L654.10,357.80 " stroke="#111" stroke-width="1.7" fill="none"/>
<path d="M663.30,356.30 L663.30,362.30 M665.90,357.80 L660.70,360.80 M665.90,360.80 L660.70,357.80 " stroke="#111" stroke-width="1.7" fill="none"/>
<path d="M642.3,407.9 V367.3 H663.4 V374.4" fill="none" stroke="#555" stroke-width="0.8"/>
<text x="572.7" y="400.0" font-size="8.9" fill="#111" text-anchor="middle" font-weight="bold" dominant-baseline="central" transform="rotate(-90 572.7 400.0)" >Mean velocity (µm/s)</text>
<line x1="724.5" y1="341.3" x2="724.5" y2="454.3" stroke="#111" stroke-width="1.1"/>
<line x1="720.0" y1="453.8" x2="799.0" y2="453.8" stroke="#111" stroke-width="1.1"/>
<line x1="720.0" y1="453.8" x2="724.5" y2="453.8" stroke="#111" stroke-width="1"/>
<text x="718.5" y="453.8" font-size="8.5" fill="#111" text-anchor="end" font-weight="bold" dominant-baseline="central" >0.00</text>
<line x1="720.0" y1="416.8" x2="724.5" y2="416.8" stroke="#111" stroke-width="1"/>
<text x="718.5" y="416.8" font-size="8.5" fill="#111" text-anchor="end" font-weight="bold" dominant-baseline="central" >0.01</text>
<line x1="720.0" y1="379.6" x2="724.5" y2="379.6" stroke="#111" stroke-width="1"/>
<text x="718.5" y="379.6" font-size="8.5" fill="#111" text-anchor="end" font-weight="bold" dominant-baseline="central" >0.02</text>
<line x1="720.0" y1="341.8" x2="724.5" y2="341.8" stroke="#111" stroke-width="1"/>
<text x="718.5" y="341.8" font-size="8.5" fill="#111" text-anchor="end" font-weight="bold" dominant-baseline="central" >0.03</text>
<line x1="738.9" y1="453.8" x2="738.9" y2="457.8" stroke="#111" stroke-width="1"/>
<line x1="761.9" y1="453.8" x2="761.9" y2="457.8" stroke="#111" stroke-width="1"/>
<line x1="784.0" y1="453.8" x2="784.0" y2="457.8" stroke="#111" stroke-width="1"/>
<path d="M739.2,352.0 C739.1,353.3 738.6,356.9 738.5,360.0 C738.4,363.1 738.5,367.9 738.3,370.9 C738.1,373.9 737.7,376.4 737.2,378.2 C736.7,380.0 735.9,380.6 735.4,381.8 C734.9,383.0 734.5,383.9 734.3,385.4 C734.1,386.9 734.1,389.1 734.0,390.9 C733.9,392.7 733.8,394.5 733.6,396.3 C733.4,398.1 732.9,400.3 732.9,401.8 C732.9,403.3 733.3,404.2 733.6,405.4 C733.9,406.6 734.5,407.5 734.9,409.0 C735.3,410.5 735.6,412.4 736.1,414.5 C736.6,416.6 737.2,419.3 737.6,421.7 C738.0,424.1 738.0,426.9 738.3,429.0 C738.6,431.1 739.0,433.6 739.2,434.5 C739.4,435.4 739.4,435.4 739.6,434.5 C739.8,433.6 740.2,431.1 740.5,429.0 C740.8,426.9 740.8,424.1 741.2,421.7 C741.6,419.3 742.2,416.6 742.7,414.5 C743.1,412.4 743.5,410.5 743.9,409.0 C744.3,407.5 744.9,406.6 745.2,405.4 C745.5,404.2 745.9,403.3 745.9,401.8 C745.9,400.3 745.4,398.1 745.2,396.3 C745.0,394.5 744.9,392.7 744.8,390.9 C744.7,389.1 744.7,386.9 744.5,385.4 C744.3,383.9 743.9,383.0 743.4,381.8 C742.9,380.6 742.1,380.0 741.6,378.2 C741.1,376.4 740.7,373.9 740.5,370.9 C740.3,367.9 740.4,363.1 740.3,360.0 C740.1,356.9 739.7,353.3 739.6,352.0Z" fill="#DCDCDC" stroke="#CACACA" stroke-width="1.1" stroke-linejoin="round"/>
<line x1="734.0" y1="390.5" x2="744.8" y2="390.5" stroke="#555" stroke-width="0.5" stroke-dasharray="1.6,0.9"/>
<line x1="733.5" y1="398.1" x2="745.3" y2="398.1" stroke="#222" stroke-width="0.8" stroke-dasharray="1.6,0.9"/>
<line x1="733.6" y1="405.4" x2="745.2" y2="405.4" stroke="#555" stroke-width="0.5" stroke-dasharray="1.6,0.9"/>
<path d="M761.6,387.2 C761.4,388.1 760.7,390.6 760.3,392.7 C759.9,394.8 759.6,397.6 759.1,400.0 C758.6,402.4 757.9,405.1 757.3,407.2 C756.7,409.3 755.8,410.9 755.4,412.7 C755.0,414.5 755.0,416.0 754.9,418.1 C754.8,420.2 754.6,423.3 754.9,425.4 C755.1,427.5 755.8,429.0 756.4,430.8 C757.0,432.6 757.9,434.2 758.5,436.3 C759.1,438.4 759.8,441.1 760.3,443.5 C760.8,445.9 761.3,449.6 761.6,450.8 C761.9,452.0 761.7,452.0 762.0,450.8 C762.3,449.6 762.8,445.9 763.3,443.5 C763.8,441.1 764.4,438.4 765.1,436.3 C765.7,434.2 766.6,432.6 767.2,430.8 C767.8,429.0 768.4,427.5 768.7,425.4 C768.9,423.3 768.8,420.2 768.7,418.1 C768.6,416.0 768.6,414.5 768.2,412.7 C767.8,410.9 766.9,409.3 766.3,407.2 C765.7,405.1 765.0,402.4 764.5,400.0 C764.0,397.6 763.7,394.8 763.3,392.7 C762.9,390.6 762.2,388.1 762.0,387.2Z" fill="#F5B5A8" stroke="#EE6040" stroke-width="1.8" stroke-linejoin="round"/>
<line x1="755.2" y1="414.5" x2="768.4" y2="414.5" stroke="#555" stroke-width="0.5" stroke-dasharray="1.6,0.9"/>
<line x1="754.9" y1="421.4" x2="768.7" y2="421.4" stroke="#222" stroke-width="0.8" stroke-dasharray="1.6,0.9"/>
<line x1="756.0" y1="429.0" x2="767.6" y2="429.0" stroke="#555" stroke-width="0.5" stroke-dasharray="1.6,0.9"/>
<path d="M783.7,367.3 C783.4,368.2 782.2,370.9 781.7,372.7 C781.2,374.5 780.8,376.1 780.6,378.2 C780.4,380.3 780.3,383.4 780.3,385.4 C780.3,387.4 780.9,388.2 780.6,390.0 C780.4,391.8 779.3,394.0 778.8,396.3 C778.3,398.6 777.6,401.5 777.4,403.6 C777.2,405.7 777.1,407.2 777.5,409.0 C777.9,410.8 779.1,412.7 779.9,414.5 C780.7,416.3 781.6,418.1 782.1,419.9 C782.6,421.7 782.9,423.6 783.0,425.4 C783.1,427.2 782.9,429.3 782.8,430.8 C782.7,432.3 782.6,433.0 782.6,434.5 C782.6,436.0 782.8,438.2 783.0,439.9 C783.2,441.5 783.5,443.6 783.7,444.4 C783.9,445.1 783.9,445.1 784.1,444.4 C784.3,443.6 784.6,441.5 784.8,439.9 C785.0,438.2 785.2,436.0 785.2,434.5 C785.2,433.0 785.1,432.3 785.0,430.8 C784.9,429.3 784.7,427.2 784.8,425.4 C784.9,423.6 785.2,421.7 785.7,419.9 C786.2,418.1 787.1,416.3 787.9,414.5 C788.7,412.7 789.9,410.8 790.3,409.0 C790.7,407.2 790.6,405.7 790.4,403.6 C790.2,401.5 789.5,398.6 789.0,396.3 C788.5,394.0 787.4,391.8 787.2,390.0 C786.9,388.2 787.5,387.4 787.5,385.4 C787.5,383.4 787.4,380.3 787.2,378.2 C787.0,376.1 786.6,374.5 786.1,372.7 C785.6,370.9 784.4,368.2 784.1,367.3Z" fill="#8DB0F2" stroke="#2B66EA" stroke-width="1.8" stroke-linejoin="round"/>
<line x1="780.6" y1="390.0" x2="787.2" y2="390.0" stroke="#555" stroke-width="0.5" stroke-dasharray="1.6,0.9"/>
<line x1="777.4" y1="402.3" x2="790.4" y2="402.3" stroke="#222" stroke-width="0.8" stroke-dasharray="1.6,0.9"/>
<line x1="777.5" y1="409.0" x2="790.3" y2="409.0" stroke="#555" stroke-width="0.5" stroke-dasharray="1.6,0.9"/>
<text x="763.9" y="310.9" font-size="9" fill="#333" text-anchor="middle" font-weight="normal" dominant-baseline="central" stroke="#333" stroke-width="0.14" >ns</text>
<path d="M739.9,327.2 V320.3 H786.8 V327.2" fill="none" stroke="#555" stroke-width="0.8"/>
<path d="M739.60,331.60 L739.60,337.60 M742.20,333.10 L737.00,336.10 M742.20,336.10 L737.00,333.10 " stroke="#111" stroke-width="1.7" fill="none"/>
<path d="M746.20,331.60 L746.20,337.60 M748.80,333.10 L743.60,336.10 M748.80,336.10 L743.60,333.10 " stroke="#111" stroke-width="1.7" fill="none"/>
<path d="M752.80,331.60 L752.80,337.60 M755.40,333.10 L750.20,336.10 M755.40,336.10 L750.20,333.10 " stroke="#111" stroke-width="1.7" fill="none"/>
<path d="M759.40,331.60 L759.40,337.60 M762.00,333.10 L756.80,336.10 M762.00,336.10 L756.80,333.10 " stroke="#111" stroke-width="1.7" fill="none"/>
<path d="M739.9,349 V341.4 H758.5 V382.8" fill="none" stroke="#555" stroke-width="0.8"/>
<path d="M764.90,341.00 L764.90,347.00 M767.50,342.50 L762.30,345.50 M767.50,345.50 L762.30,342.50 " stroke="#111" stroke-width="1.7" fill="none"/>
<path d="M771.50,341.00 L771.50,347.00 M774.10,342.50 L768.90,345.50 M774.10,345.50 L768.90,342.50 " stroke="#111" stroke-width="1.7" fill="none"/>
<path d="M778.10,341.00 L778.10,347.00 M780.70,342.50 L775.50,345.50 M780.70,345.50 L775.50,342.50 " stroke="#111" stroke-width="1.7" fill="none"/>
<path d="M784.70,341.00 L784.70,347.00 M787.30,342.50 L782.10,345.50 M787.30,345.50 L782.10,342.50 " stroke="#111" stroke-width="1.7" fill="none"/>
<path d="M763.5,382.8 V351.2 H786.8 V362.1" fill="none" stroke="#555" stroke-width="0.8"/>
<text x="693.5" y="397.8" font-size="9" fill="#111" text-anchor="middle" font-weight="bold" dominant-baseline="central" transform="rotate(-90 693.5 397.8)" >Ascent in elongation</text>
<text x="618.6" y="466.2" font-size="8.6" fill="#111" text-anchor="end" font-weight="bold" dominant-baseline="central" transform="rotate(-45 618.6 466.2)" >Untreated</text>
<text x="641.3" y="466.2" font-size="8.6" fill="#111" text-anchor="end" font-weight="bold" dominant-baseline="central" transform="rotate(-45 641.3 466.2)" >Cluster 1</text>
<text x="664.0" y="466.2" font-size="8.6" fill="#111" text-anchor="end" font-weight="bold" dominant-baseline="central" transform="rotate(-45 664.0 466.2)" >Cluster 2</text>
<text x="740.2" y="464.6" font-size="8.6" fill="#111" text-anchor="end" font-weight="bold" dominant-baseline="central" transform="rotate(-45 740.2 464.6)" >Untreated</text>
<text x="762.9" y="464.6" font-size="8.6" fill="#111" text-anchor="end" font-weight="bold" dominant-baseline="central" transform="rotate(-45 762.9 464.6)" >Cluster 1</text>
<text x="785.6" y="464.6" font-size="8.6" fill="#111" text-anchor="end" font-weight="bold" dominant-baseline="central" transform="rotate(-45 785.6 464.6)" >Cluster 2</text>
</svg></body></html>
